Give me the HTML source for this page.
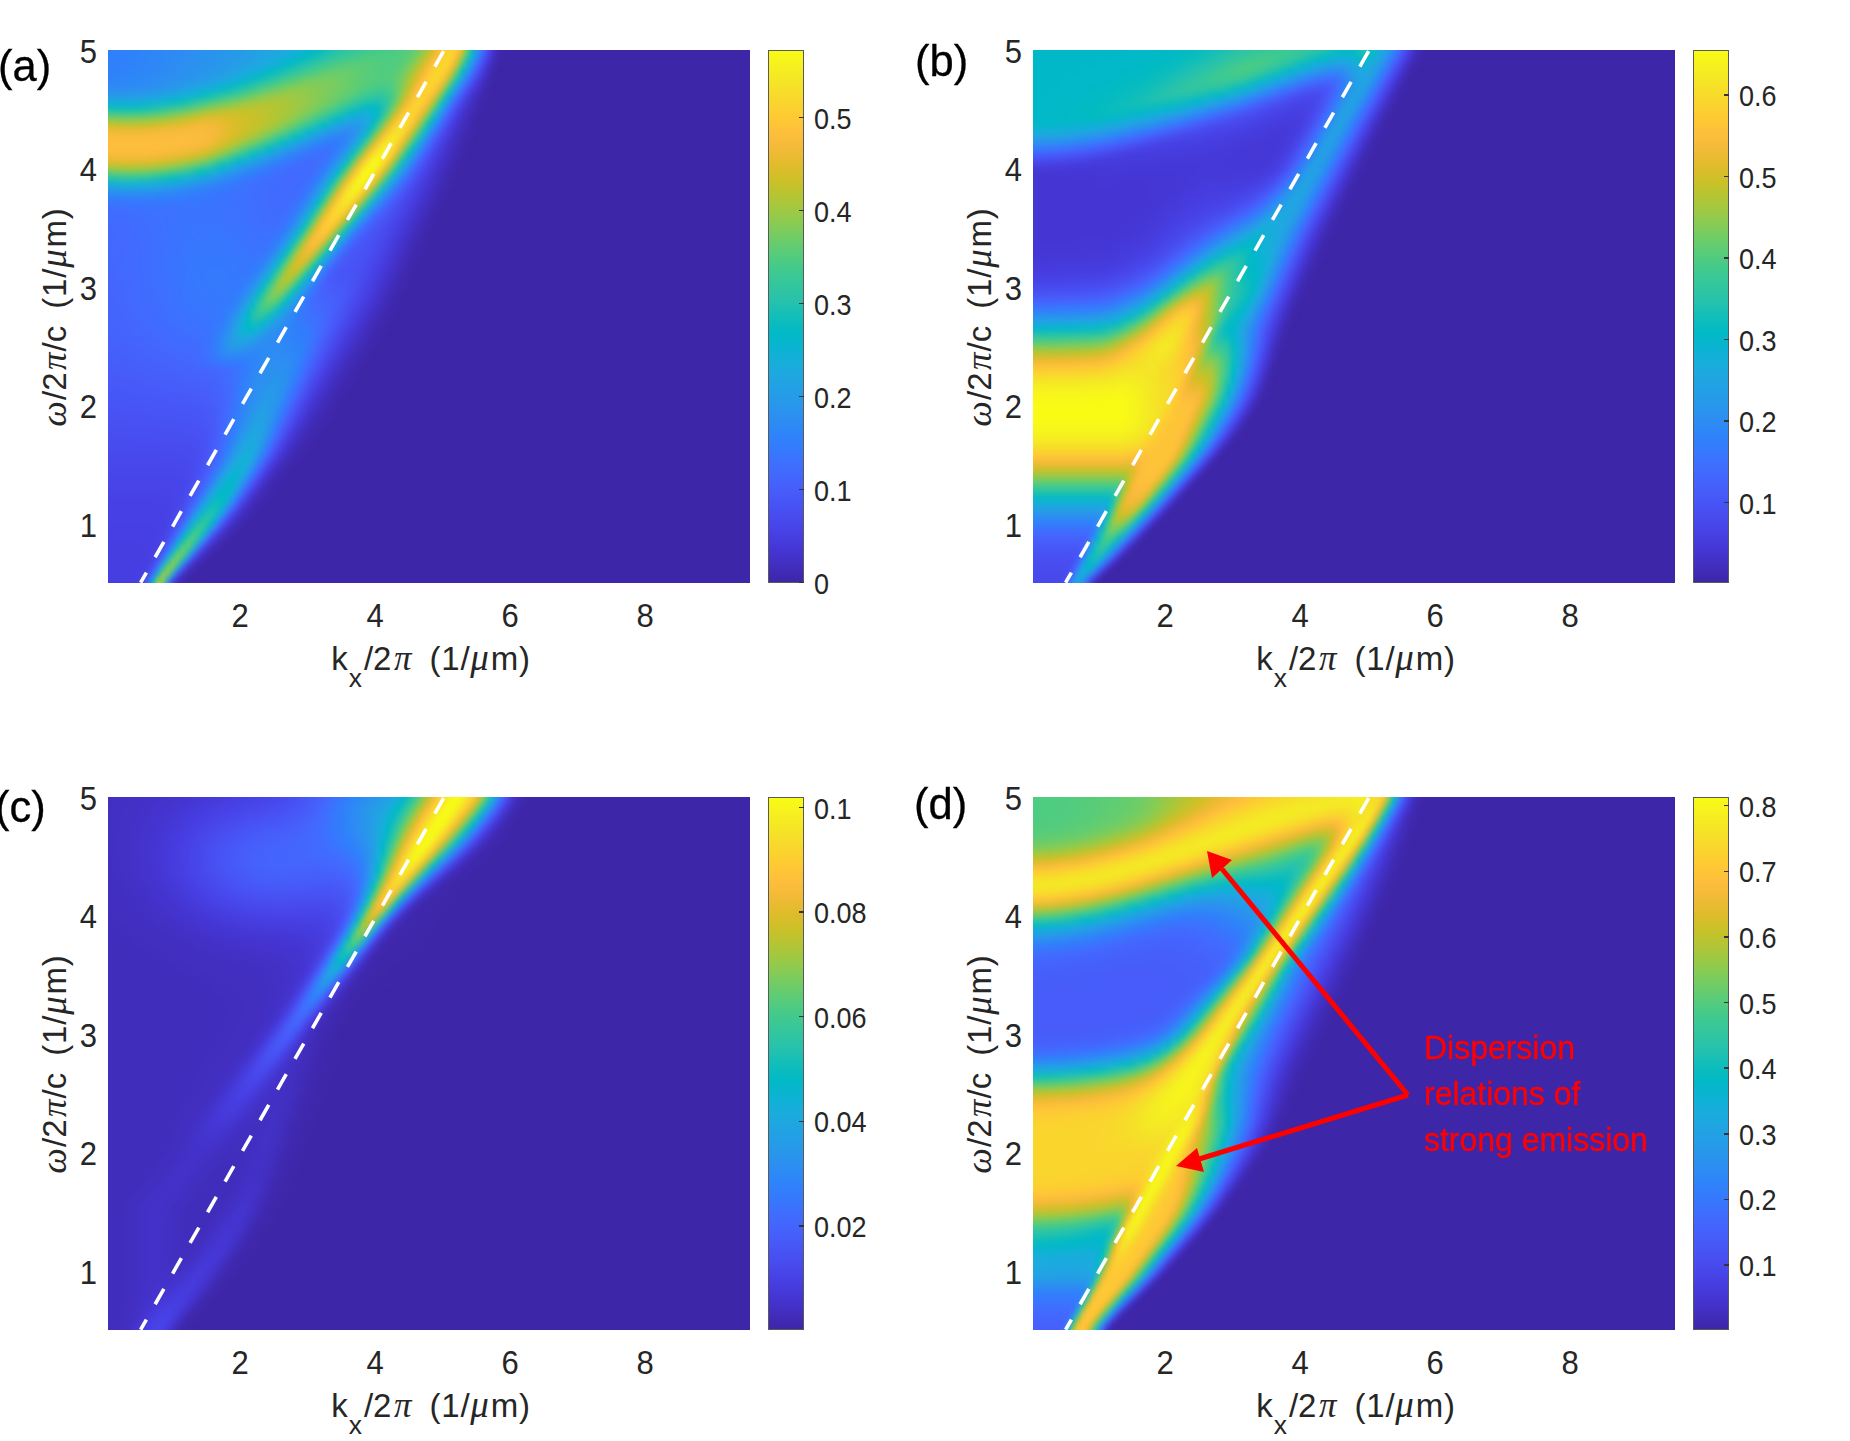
<!DOCTYPE html><html><head><meta charset="utf-8"><title>Dispersion relations</title><style>
html,body{margin:0;padding:0;background:#fff}
body{width:1850px;height:1441px;position:relative;overflow:hidden;font-family:"Liberation Sans",sans-serif}
.plot{position:absolute;width:642px;height:532.7px;overflow:hidden;background:#3e26a8}
.rows{position:absolute;left:0;top:-18px;filter:url(#vb)}
.rows i{display:block;height:6px}
.ov{position:absolute;left:0;top:0}
.cb{position:absolute;width:35.5px;height:532.7px;box-sizing:border-box;border:1px solid #5a5a5a}
.ctk{position:absolute;width:4.5px;height:1.6px;background:#333}
.t{position:absolute;color:#262626;white-space:nowrap;line-height:1}
.cl{font-size:30px;transform-origin:0 50%;transform:translate(0,-50%) scaleX(0.9)}
.xl{font-size:32.3px;transform:translate(-50%,-50%) scaleX(0.96)}
.yl{font-size:32.3px;transform-origin:100% 50%;transform:translate(-100%,-50%) scaleX(0.96)}
.xlab{font-size:33px;transform:translate(-50%,-50%)}
.ylab{font-size:33px;transform:translate(-50%,-50%) rotate(-90deg)}
.m{font-family:"Liberation Serif","DejaVu Serif",serif;font-style:italic}
sub{font-size:80%;vertical-align:baseline;position:relative;top:0.64em;line-height:0;margin:0 2px 0 1px}
.pi{margin:0 1px 0 2.5px;font-size:1.06em}
.mu{font-size:1.12em;margin:0 1px 0 0}
.om{font-size:1.1em;margin-right:1px}
.gap{display:inline-block;width:17px}
.un{letter-spacing:0.8px}
.pl{position:absolute;font-size:44.4px;color:#000;line-height:1;white-space:nowrap;transform-origin:0 0;transform:scaleX(0.98);-webkit-text-stroke:0.3px #000}
.red{position:absolute;color:#f00;font-size:34px;line-height:46px;white-space:nowrap;transform-origin:0 0;transform:scaleX(0.94);-webkit-text-stroke:0.35px #f00}
</style></head><body>
<svg width="0" height="0" style="position:absolute"><defs><filter id="vb" x="0" y="0" width="1" height="1" color-interpolation-filters="sRGB"><feGaussianBlur stdDeviation="0 3"/></filter></defs></svg>
<div class="plot" style="left:108px;top:50px">
<div class="rows">
<i style="width:400px;background:linear-gradient(90deg,#317efb,#307efb,#307ffb,#3080fa,#2f81fa,#2f82fa,#2e83f9,#2e84f9,#2e85f8,#2e85f8,#2e87f7,#2d88f6,#2d89f6,#2d8af5,#2d8bf4,#2d8cf3,#2d8df2,#2c8ef1,#2c8ff0,#2b91ef,#2b92ee,#2a93ed,#2994ed,#2896ec,#2797eb,#2698ea,#269ae9,#259be8,#259de7,#249ee6,#23a0e5,#22a1e4,#21a3e3,#20a4e3,#1fa6e2,#1da8e0,#1baade,#19acdc,#16afd9,#11b2d5,#09b4d1,#03b7cc,#01b9c6,#06bcc0,#0fbebb,#19bfb5,#21c1b0,#28c2ab,#2cc4a6,#30c5a1,#33c79d,#36c898,#3ac994,#3dc990,#40ca8d,#43ca8a,#46cb88,#48cb86,#4acb84,#4dcc82,#53cc7d,#5dcc74,#6ecd66,#89cb52,#acc738,#d1bf27,#f2ba37,#fec438,#fcd030,#fad52d,#fec438,#d0bf27,#5dcc75,#04bbc2,#2699ea,#3e6fff,#484df1,#4537d5,#402bb8,#3e27a9,#3e26a8)"></i>
<i style="width:400px;background:linear-gradient(90deg,#317efb,#307efb,#307ffb,#3080fa,#2f81fa,#2f82fa,#2e83f9,#2e84f9,#2e85f8,#2e85f8,#2e87f7,#2d88f6,#2d89f6,#2d8af5,#2d8bf4,#2d8cf3,#2d8df2,#2c8ef1,#2c8ff0,#2b91ef,#2b92ee,#2a93ed,#2994ed,#2896ec,#2797eb,#2698ea,#269ae9,#259be8,#259de7,#249ee6,#23a0e5,#22a1e4,#21a3e3,#20a4e3,#1fa6e2,#1da8e0,#1baade,#19acdc,#16afd9,#11b2d5,#09b4d1,#03b7cc,#01b9c6,#06bcc0,#0fbebb,#19bfb5,#21c1b0,#28c2ab,#2cc4a6,#30c5a1,#33c79d,#36c898,#3ac994,#3dc990,#40ca8d,#43ca8a,#46cb88,#48cb86,#4acb84,#4dcc82,#53cc7d,#5dcc74,#6ecd66,#89cb52,#acc738,#d1bf27,#f2ba37,#fec438,#fcd030,#fad52d,#fec438,#d0bf27,#5dcc75,#04bbc2,#2699ea,#3e6fff,#484df1,#4537d5,#402bb8,#3e27a9,#3e26a8)"></i>
<i style="width:400px;background:linear-gradient(90deg,#317efb,#307efb,#307ffb,#3080fa,#2f81fa,#2f82fa,#2e83f9,#2e84f9,#2e85f8,#2e85f8,#2e87f7,#2d88f6,#2d89f6,#2d8af5,#2d8bf4,#2d8cf3,#2d8df2,#2c8ef1,#2c8ff0,#2b91ef,#2b92ee,#2a93ed,#2994ed,#2896ec,#2797eb,#2698ea,#269ae9,#259be8,#259de7,#249ee6,#23a0e5,#22a1e4,#21a3e3,#20a4e3,#1fa6e2,#1da8e0,#1baade,#19acdc,#16afd9,#11b2d5,#09b4d1,#03b7cc,#01b9c6,#06bcc0,#0fbebb,#19bfb5,#21c1b0,#28c2ab,#2cc4a6,#30c5a1,#33c79d,#36c898,#3ac994,#3dc990,#40ca8d,#43ca8a,#46cb88,#48cb86,#4acb84,#4dcc82,#53cc7d,#5dcc74,#6ecd66,#89cb52,#acc738,#d1bf27,#f2ba37,#fec438,#fcd030,#fad52d,#fec438,#d0bf27,#5dcc75,#04bbc2,#2699ea,#3e6fff,#484df1,#4537d5,#402bb8,#3e27a9,#3e26a8)"></i>
<i style="width:400px;background:linear-gradient(90deg,#317efb,#307ffb,#307ffb,#2f80fa,#2f81fa,#2f82fa,#2e83f9,#2e84f9,#2e85f8,#2e86f7,#2e87f7,#2d88f6,#2d89f5,#2d8af4,#2d8bf4,#2d8cf3,#2d8df2,#2c8ff1,#2c90f0,#2b91ef,#2a92ee,#2a93ed,#2995ec,#2896eb,#2797ea,#2699e9,#269ae8,#259ce7,#249de7,#249fe6,#23a0e5,#22a2e4,#21a4e3,#1fa5e2,#1ea7e1,#1caadf,#1aacdd,#16afda,#11b1d6,#09b4d1,#03b7cc,#01bac6,#07bcc0,#11beba,#1bc0b4,#24c1af,#2ac3a9,#2ec4a4,#32c69f,#35c79a,#39c895,#3dc991,#40ca8d,#44cb8a,#47cb87,#48cb86,#4acb84,#4bcb83,#4dcc82,#50cc7f,#57cc7a,#62cd70,#76cc60,#94ca4a,#b9c431,#ddbd29,#fabb3d,#fec934,#fbd42e,#fad42e,#febd3c,#bac430,#42ca8b,#07b5d0,#2c8ff0,#4367fd,#4848ec,#4434ce,#402ab4,#3e26a9,#3e26a8)"></i>
<i style="width:395px;background:linear-gradient(90deg,#307ffb,#307ffb,#2f80fa,#2f81fa,#2f82fa,#2e83f9,#2e84f9,#2e84f8,#2e85f8,#2e86f7,#2d87f6,#2d88f6,#2d8af5,#2d8bf4,#2d8cf3,#2d8df2,#2c8ef1,#2c8ff0,#2b90ef,#2b92ee,#2a93ee,#2994ed,#2895ec,#2797eb,#2798ea,#269ae9,#259be8,#259de7,#249fe6,#23a1e5,#21a3e4,#20a5e3,#1ea7e1,#1caadf,#19acdc,#15afd9,#0eb2d4,#06b5cf,#01b8c8,#03bbc2,#0dbdbc,#19bfb5,#23c1af,#2ac3a9,#2fc5a2,#34c79c,#38c896,#3dc990,#42ca8b,#47cb87,#4bcb83,#4ecc81,#50cc7f,#51cc7f,#51cc7f,#50cc7f,#4fcc80,#4fcc80,#51cc7f,#55cc7b,#5fcd73,#71cd64,#8fcb4e,#b3c534,#d8be28,#f7ba3c,#fec735,#fbd32e,#f9d82c,#feca33,#e0bc2a,#74cc62,#19bfb5,#22a1e4,#347afd,#4756f7,#463ddf,#422fc1,#3f28ad,#3e26a8)"></i>
<i style="width:395px;background:linear-gradient(90deg,#3080fb,#2f80fa,#2f81fa,#2f82fa,#2e83f9,#2e83f9,#2e84f8,#2e85f8,#2e86f7,#2e87f7,#2d88f6,#2d89f5,#2d8af4,#2d8bf3,#2d8df2,#2c8ef2,#2c8ff1,#2b90f0,#2b91ef,#2a93ee,#2994ed,#2895ec,#2797eb,#2798ea,#269ae9,#259ce7,#249de6,#23a0e5,#22a2e4,#20a5e3,#1ea7e1,#1baade,#18aedb,#12b1d7,#09b4d1,#02b7cb,#02bac4,#09bdbe,#16bfb7,#22c1b0,#2ac3a9,#30c5a2,#35c79a,#3bc993,#41ca8c,#48cb86,#4fcc81,#54cc7c,#58cc79,#5acc77,#5bcc77,#5acc77,#59cc79,#56cc7b,#53cc7d,#51cc7f,#4fcc80,#50cc80,#54cc7c,#5ecd74,#6fcd66,#8bcb51,#adc638,#d2bf27,#f2ba38,#fec537,#fbd22f,#f9d82c,#fbd32f,#f8ba3d,#a5c83e,#35c79a,#14b0d8,#2d8bf4,#4464fd,#4848ec,#4435d1,#402bb7,#3e27a9,#3e26a8)"></i>
<i style="width:390px;background:linear-gradient(90deg,#2f81fa,#2f81fa,#2f82fa,#2e83f9,#2e84f9,#2e84f8,#2e85f8,#2e86f7,#2e87f7,#2d88f6,#2d89f5,#2d8af4,#2d8bf3,#2d8df3,#2c8ef2,#2c8ff1,#2b90f0,#2b92ef,#2a93ee,#2994ed,#2896eb,#2798ea,#2699e9,#259be8,#249de6,#23a0e5,#22a2e4,#1fa5e2,#1da9e0,#1aacdd,#14b0d8,#0cb3d3,#04b6cd,#01b9c6,#08bcbf,#14bfb8,#21c1b0,#2ac3a9,#30c5a1,#36c899,#3dc990,#45cb88,#4ecc81,#56cc7b,#5dcc75,#62cd71,#65cd6e,#66cd6d,#65cd6e,#64cd6f,#61cd72,#5dcc75,#59cc79,#55cc7c,#52cc7e,#50cc80,#51cc7f,#55cc7c,#5dcc75,#6ccd68,#85cb56,#a5c83d,#cac129,#ebba32,#fec13a,#fccf30,#f9d72c,#f9d62d,#fec338,#c9c129,#53cc7d,#01bac5,#2699ea,#3b72ff,#4853f5,#463cdf,#422fc2,#3f28af,#3e26a8)"></i>
<i style="width:390px;background:linear-gradient(90deg,#2f82f9,#2e83f9,#2e83f9,#2e84f8,#2e85f8,#2e86f8,#2e87f7,#2d88f6,#2d89f6,#2d8af5,#2d8bf4,#2d8cf3,#2d8df2,#2c8ef1,#2c90f0,#2b91ef,#2a93ee,#2994ed,#2896eb,#2798ea,#269ae8,#259ce7,#249fe6,#22a1e4,#20a4e3,#1da8e0,#1aabdd,#15afd9,#0db3d3,#04b6cd,#01b9c6,#08bcbf,#15bfb7,#22c1b0,#2bc3a8,#32c69f,#38c896,#40ca8d,#4acb84,#55cc7c,#5ecc74,#65cd6e,#6ccd69,#70cd65,#72cd63,#72cd63,#71cd65,#6dcd67,#69cd6b,#64cd6f,#5fcd73,#5bcc77,#57cc7a,#54cc7c,#52cc7e,#52cc7e,#54cc7d,#59cc78,#65cd6e,#79cc5e,#98ca47,#bdc32e,#e1bc2b,#fcbd3d,#fdcc32,#fad52d,#f9d62d,#feca33,#e2bc2b,#76cc60,#1bc0b4,#21a3e3,#317efb,#475cfa,#4744e8,#4434ce,#402bb7,#3e27aa,#3e26a8)"></i>
<i style="width:390px;background:linear-gradient(90deg,#2e85f8,#2e86f8,#2e86f7,#2e87f7,#2d88f6,#2d88f6,#2d89f5,#2d8af4,#2d8bf3,#2d8df3,#2c8ef2,#2c8ff0,#2b91ef,#2a92ee,#2994ed,#2896eb,#2798ea,#269ae8,#259de7,#249fe5,#22a2e4,#1fa5e2,#1da9e0,#19acdc,#14b0d8,#0bb3d2,#03b7cc,#01bac5,#09bcbe,#18bfb6,#25c2ae,#2dc4a5,#34c79c,#3bc992,#45cb88,#51cc7f,#5dcc75,#67cd6c,#70cd65,#77cc60,#7ccc5c,#7fcc5a,#80cc59,#7fcc5a,#7ccc5c,#77cc5f,#72cd63,#6dcd68,#67cd6c,#62cd70,#5ecd74,#5acc77,#56cc7b,#52cc7e,#4fcc81,#4dcc82,#50cc80,#58cc79,#67cd6c,#83cc57,#a9c73a,#d2bf27,#f4ba3a,#fec735,#fbd32f,#fad52d,#fdcc32,#f0ba36,#97ca48,#2ec5a4,#1aabdd,#2e87f7,#4563fd,#484aee,#4538d8,#422ec0,#3f29b0,#3e26a9,#3e26a8)"></i>
<i style="width:385px;background:linear-gradient(90deg,#2d8cf3,#2d8cf3,#2d8cf3,#2d8cf3,#2d8df2,#2c8ef1,#2c8ff1,#2c90f0,#2b91ef,#2a93ee,#2994ed,#2896eb,#2798ea,#269ae8,#259ce7,#249fe5,#22a2e4,#20a5e2,#1da8e0,#1aacdd,#15afd9,#0db3d4,#05b6ce,#01b9c8,#05bbc1,#11beba,#1fc0b2,#29c3aa,#31c5a1,#37c897,#41ca8d,#4dcc82,#5acc77,#66cd6d,#72cd64,#7ccc5c,#84cc56,#8acb52,#8dcb4f,#8ecb4f,#8dcb4f,#8acb51,#86cb54,#81cc58,#7ccc5c,#76cc61,#71cd65,#6ccd69,#66cd6d,#60cd72,#5acc77,#53cc7d,#4ccb82,#46cb88,#42ca8b,#41ca8c,#45cb89,#50cc7f,#68cd6c,#8ecb4e,#bdc32f,#e7bb2e,#fec13a,#fccf30,#fad42e,#fdcd32,#f8ba3d,#afc636,#3bc993,#0fb2d4,#2c8ef2,#4269fe,#484ff2,#463cde,#4331c7,#402bb6,#3e27ab,#3e26a8)"></i>
<i style="width:385px;background:linear-gradient(90deg,#2797ea,#2797eb,#2797eb,#2797ea,#2798ea,#2699ea,#269ae9,#259be8,#259ce7,#249ee6,#23a0e5,#22a2e4,#20a5e3,#1ea7e1,#1baade,#18addb,#13b1d7,#0ab4d2,#03b7cc,#01bac5,#08bcbf,#15bfb7,#21c1b0,#2ac3a8,#31c6a0,#37c898,#3fca8e,#4bcb83,#59cc78,#66cd6d,#73cd63,#7fcc5a,#8acb52,#92ca4c,#98c947,#9cc944,#9dc943,#9dc943,#9ac945,#96ca48,#91ca4c,#8bcb51,#86cb55,#80cc59,#7bcc5d,#75cc61,#6ecd67,#66cd6d,#5ecd74,#55cc7c,#4bcb84,#41ca8c,#3ac994,#35c79a,#33c69d,#33c79c,#39c895,#49cb85,#6dcd68,#a1c840,#d5be28,#fabb3d,#fdcb33,#fbd32e,#fdcd31,#fbbc3d,#c2c22c,#4ecc81,#01b8c9,#2895ec,#3e70ff,#4853f5,#4740e3,#4434ce,#412dbb,#3f28af,#3e27a9,#3e26a8)"></i>
<i style="width:380px;background:linear-gradient(90deg,#1ca9df,#1da9e0,#1da8e0,#1da8e0,#1da9e0,#1ca9df,#1baade,#1aabdd,#19addc,#16afd9,#13b1d7,#0db3d3,#07b5d0,#02b7cb,#01b9c6,#06bcc0,#11beb9,#1ec0b2,#28c3aa,#30c5a2,#36c899,#3eca8f,#49cb85,#55cc7c,#61cd72,#6ccd68,#79cc5f,#85cb55,#90ca4d,#99c946,#a1c840,#a7c73c,#aac73a,#acc738,#acc738,#aac73a,#a7c73c,#a2c840,#9cc944,#96ca48,#90ca4d,#8bcb51,#84cb56,#7dcc5b,#75cc61,#6ccd69,#61cd71,#55cc7b,#49cb86,#3dc990,#35c79a,#2ec5a3,#28c2ab,#22c1b0,#21c1b0,#28c2ab,#33c69d,#4dcb82,#83cc57,#c2c22c,#f1ba37,#fec835,#fbd32e,#fccf30,#febe3c,#d0bf27,#65cd6e,#0cbdbc,#249ee6,#3678fd,#4759f8,#4744e8,#4536d4,#422fc1,#402ab4,#3e27ab,#3e26a8)"></i>
<i style="width:380px;background:linear-gradient(90deg,#05bbc1,#02bbc3,#02bac4,#02bac5,#02bac4,#02bac4,#03bbc2,#06bcc0,#0abdbd,#10beba,#18bfb6,#1fc1b1,#27c2ac,#2dc4a6,#32c69f,#37c897,#3fca8e,#4acb84,#59cc79,#67cd6c,#75cc61,#83cc57,#8ecb4e,#98c947,#a0c841,#a7c73c,#adc638,#b3c534,#b7c532,#bac430,#bbc430,#bbc430,#b9c431,#b6c532,#b2c635,#adc638,#a7c73c,#a1c840,#9bc944,#95ca49,#8dcb4f,#85cb56,#7acc5d,#6fcd66,#62cd71,#54cc7c,#45cb89,#39c895,#30c5a1,#27c2ac,#18bfb6,#09bcbe,#02bac3,#02bac4,#07bcbf,#1fc0b2,#36c799,#65cd6e,#adc638,#e8bb2f,#fec537,#fbd32e,#fbd32f,#fec239,#dbbd29,#7ecc5a,#25c2ae,#1ea7e1,#2f81fa,#4660fb,#4849ed,#463adb,#4331c8,#412cb9,#3f28af,#3e27a9,#3e26a8)"></i>
<i style="width:375px;background:linear-gradient(90deg,#3bc993,#38c896,#37c898,#36c899,#36c899,#37c898,#38c896,#3ac993,#3dca90,#42ca8b,#48cb86,#50cc7f,#59cc78,#63cd6f,#6fcd66,#7ccc5c,#89cb52,#97ca48,#a4c83e,#b1c636,#bac430,#c1c32c,#c6c22a,#c9c129,#cbc129,#cbc129,#cbc129,#cbc129,#c9c129,#c7c12a,#c4c22b,#c0c32d,#bcc42f,#b7c532,#b2c635,#acc738,#a6c83d,#9ec942,#95ca49,#8bcb51,#7ecc5b,#70cd65,#60cd72,#50cc80,#40ca8d,#35c79b,#2bc3a8,#1bc0b4,#07bcbf,#01b8ca,#0ab4d2,#12b1d6,#13b1d7,#0ab4d2,#02bac4,#27c2ab,#4dcb82,#9ac945,#e0bc2a,#fec338,#fad52e,#f9d72d,#fec835,#e6bb2d,#96ca49,#32c69e,#15afd9,#2d8bf4,#4368fe,#484ff2,#473ee1,#4434cf,#422ebf,#402ab3,#3e27ac,#3e26a8)"></i>
<i style="width:375px;background:linear-gradient(90deg,#8acb52,#85cb55,#81cc58,#80cc5a,#7fcc5a,#80cc59,#83cc57,#86cb55,#8bcb51,#91ca4c,#98ca47,#9fc941,#a8c73b,#b0c636,#b9c431,#c2c22c,#cac129,#d2bf27,#d9be28,#dfbc2a,#e3bc2c,#e4bb2c,#e4bb2c,#e2bc2b,#dfbc2a,#dbbd28,#d6be28,#d3bf27,#cec028,#cac129,#c5c22a,#c0c32d,#bbc42f,#b5c533,#aec637,#a6c83d,#9bc944,#8fcb4e,#80cc5a,#6ecd66,#5ccc75,#4acb85,#3ac994,#30c5a2,#23c1af,#0cbdbc,#01b8c8,#0db3d3,#19addc,#1ea8e1,#20a4e3,#20a5e3,#1caadf,#0cb3d3,#11beba,#3cc992,#89cb52,#d8be28,#fec239,#f9d72d,#f7db2a,#fdce31,#f1ba37,#a9c73b,#40ca8d,#04b6cd,#2995ec,#3c71ff,#4756f7,#4744e8,#4537d6,#4331c5,#412cb8,#3f28af,#3e27a9,#3e26a8)"></i>
<i style="width:370px;background:linear-gradient(90deg,#cec028,#cbc129,#c8c129,#c7c12a,#c7c12a,#c7c12a,#c8c129,#cac129,#cdc028,#d1bf27,#d4bf28,#d8be28,#ddbd29,#e1bc2b,#e5bb2d,#e9bb30,#edba33,#f0ba36,#f3ba38,#f5ba3a,#f4ba3a,#f2ba38,#efba35,#eaba31,#e4bb2c,#debc2a,#d8be28,#d3bf27,#cec028,#c9c129,#c3c22b,#bcc42f,#b4c534,#aac73a,#9ec942,#8fcb4e,#7dcc5b,#6acd6a,#56cc7b,#42ca8b,#34c79b,#29c3aa,#15bfb7,#02bac5,#09b4d1,#18addb,#1fa6e2,#249fe5,#269ae8,#2797ea,#2699e9,#239fe5,#1aacdd,#02bac5,#33c69d,#7bcc5d,#d2bf27,#fec13a,#f8d92c,#f6e028,#fad52d,#fbbc3d,#bbc430,#54cc7c,#06bcc0,#249ee6,#337bfc,#465dfa,#4849ed,#463bde,#4433cd,#422ebe,#402ab4,#3e27ac,#3e26a8)"></i>
<i style="width:370px;background:linear-gradient(90deg,#f0ba36,#efba35,#eeba34,#edba33,#edba33,#edba33,#edba34,#eeba34,#efba35,#f1ba37,#f2ba38,#f4ba39,#f5ba3b,#f7ba3c,#f8ba3d,#f9bb3d,#fabb3d,#fabb3d,#fbbc3d,#fbbc3d,#f9bb3d,#f6ba3b,#f1ba37,#ebba32,#e5bb2d,#debd29,#d7be28,#d1bf27,#c9c129,#c1c32c,#b7c532,#abc739,#9cc944,#8bcb51,#77cc60,#61cd71,#4ccb83,#3ac994,#2ec5a4,#1ec0b2,#06bcc0,#05b6cd,#15afd9,#1ea7e1,#239fe5,#2798ea,#2b92ef,#2d8df2,#2d8cf3,#2c8ff1,#2797eb,#20a5e2,#04b6cd,#2dc4a6,#6fcd66,#ccc028,#fec03a,#f8da2b,#f5e427,#f7dc2a,#fec239,#cbc129,#66cd6d,#1bc0b4,#1fa6e2,#2e84f9,#4464fd,#484ff2,#4740e4,#4536d4,#4330c5,#412cb9,#3f29af,#3e27aa,#3e26a8)"></i>
<i style="width:370px;background:linear-gradient(90deg,#fcbc3d,#fcbc3d,#fbbc3d,#fbbc3d,#fbbc3d,#fbbc3d,#fbbc3d,#fbbc3d,#fcbc3d,#fcbc3d,#fcbc3d,#fcbd3d,#fcbd3d,#fcbd3d,#fdbd3d,#fcbd3d,#fcbd3d,#fcbc3d,#fcbc3d,#fbbc3d,#f9bb3d,#f6ba3b,#f0ba36,#e9bb30,#e1bc2b,#d7be28,#cdc028,#c2c22c,#b6c533,#a7c73c,#95ca49,#81cc58,#6bcd69,#55cc7c,#40ca8d,#32c69e,#25c2ad,#0cbdbc,#01b8ca,#11b1d6,#1ca9df,#22a1e4,#2699e9,#2b91ef,#2d8bf4,#2e85f8,#2f82f9,#2f82f9,#2e87f7,#2b90f0,#23a0e5,#0db3d3,#26c2ac,#65cd6e,#c7c12a,#fec03b,#f7db2a,#f5e825,#f5e228,#fec934,#dabd28,#79cc5e,#2ac3a8,#18addb,#2d8cf3,#406cfe,#4755f6,#4745e9,#463ada,#4433cb,#412ebe,#402ab4,#3e28ac,#3e26a9,#3e26a8)"></i>
<i style="width:365px;background:linear-gradient(90deg,#febe3c,#febe3c,#febe3c,#febe3c,#febe3c,#febe3c,#febe3c,#febe3c,#febe3c,#febe3c,#febd3c,#fdbd3c,#fdbd3d,#fdbd3d,#fdbd3d,#fdbd3d,#fcbc3d,#fbbc3d,#fbbc3d,#f9bb3d,#f6ba3b,#f0ba36,#e8bb2e,#ddbd29,#d0bf27,#c1c32c,#b0c636,#9dc943,#89cb53,#71cd64,#5bcc77,#45cb89,#35c79a,#29c3aa,#13beb8,#01b9c6,#0db3d3,#1aabdd,#21a3e3,#259be8,#2a93ee,#2d8bf3,#2e85f8,#307ffb,#327bfc,#3479fd,#337bfc,#2f81fa,#2d8bf3,#259ce7,#14b0d8,#20c1b1,#5ecd74,#c2c22c,#febf3b,#f6dd29,#f5ec22,#f5e825,#fbd12f,#e9bb2f,#8ecb4f,#33c69e,#0cb3d3,#2994ed,#3a74fe,#475bf9,#484aed,#463de0,#4435d2,#4230c4,#412cb8,#3f29b0,#3e27aa,#3e26a8)"></i>
<i style="width:365px;background:linear-gradient(90deg,#febe3c,#febe3c,#febe3c,#febe3c,#febe3c,#febe3c,#febe3c,#febd3c,#febd3c,#fdbd3d,#fdbd3d,#fdbd3d,#fcbc3d,#fbbc3d,#fabc3d,#f9bb3d,#f8ba3d,#f5ba3b,#f2ba38,#edba34,#e6bb2d,#dbbd29,#cdc028,#bbc42f,#a6c83c,#8fcb4e,#75cc61,#5dcc74,#47cb87,#36c899,#2ac3a8,#16bfb7,#02bac5,#09b4d1,#19addc,#20a5e3,#259ce7,#2994ed,#2d8df2,#2e86f7,#3080fa,#337bfd,#3776fe,#3a74fe,#3a73fe,#3876fe,#327dfc,#2d88f6,#2699e9,#18aedb,#1abfb5,#58cc79,#bfc32e,#febf3b,#f6df29,#f6f01f,#f5ee21,#f8da2b,#f6ba3b,#a2c840,#3bc993,#01b8ca,#259be8,#327bfc,#4660fc,#484ef1,#4741e5,#4538d8,#4332ca,#412ebe,#402ab4,#3e28ac,#3e26a9,#3e26a8)"></i>
<i style="width:360px;background:linear-gradient(90deg,#f9bb3d,#fabb3d,#fabb3d,#fabb3d,#fabb3d,#fabb3d,#fabb3d,#fabb3d,#f9bb3d,#f8ba3d,#f7ba3c,#f5ba3b,#f3ba39,#f1ba36,#edba33,#e9bb30,#e4bb2c,#debd29,#d6be28,#ccc028,#bdc32e,#aac73a,#93ca4a,#79cc5e,#5fcd73,#46cb88,#35c79a,#2ac3a9,#15bfb7,#02bac5,#09b4d1,#18addb,#1fa5e2,#249de6,#2896ec,#2c8ef1,#2d87f7,#2f81fa,#327cfc,#3777fe,#3b73fe,#3d70ff,#3f6fff,#3e6fff,#3b72fe,#347afd,#2e86f8,#2796eb,#1aacdd,#13beb9,#52cc7e,#bac430,#febe3c,#f6e128,#f7f31c,#f7f41c,#f5e228,#febe3c,#b5c533,#47cb87,#04bbc2,#23a1e4,#2f82f9,#4466fd,#4853f5,#4745ea,#463bdd,#4435d0,#4230c3,#412cb8,#3f29b0,#3e27aa,#3e26a8)"></i>
<i style="width:360px;background:linear-gradient(90deg,#e4bb2c,#e6bb2d,#e8bb2e,#e8bb2f,#e9bb2f,#e8bb2f,#e8bb2e,#e7bb2d,#e5bb2c,#e2bc2b,#dfbc2a,#dbbd29,#d6be28,#d0bf27,#c8c129,#bfc32d,#b4c533,#a7c73c,#98c947,#87cb54,#71cd65,#5acc78,#43ca8a,#34c79c,#27c2ab,#11beba,#01b9c7,#0cb3d3,#19acdc,#20a5e2,#249de6,#2896eb,#2c8ff1,#2d88f6,#2f82f9,#317dfc,#3678fd,#3a74fe,#3d70ff,#3f6eff,#406cfe,#406cfe,#406dfe,#3d70ff,#3678fe,#2e84f9,#2994ed,#1caadf,#0bbdbc,#4bcb84,#b4c534,#fdbd3d,#f6e028,#f7f51b,#f8f818,#f5e825,#fec636,#c5c22a,#56cc7b,#0ebdbb,#1fa6e2,#2d88f6,#416cfe,#4758f8,#4849ed,#473fe2,#4537d6,#4332c9,#412dbd,#402ab4,#3e28ac,#3e26a9,#3e26a8)"></i>
<i style="width:355px;background:linear-gradient(90deg,#b1c636,#b5c533,#b8c431,#bac430,#bbc42f,#bbc430,#b9c430,#b7c532,#b3c534,#aec637,#a7c73c,#a0c941,#96ca48,#8bcb51,#7fcc5a,#70cd65,#61cd71,#52cc7e,#43ca8b,#37c898,#2ec4a5,#1fc0b1,#09bcbe,#01b7ca,#10b2d5,#1babde,#21a3e3,#259ce7,#2895ec,#2c8ff1,#2d89f6,#2e83f9,#317efb,#3479fd,#3875fe,#3c72ff,#3e6fff,#406dfe,#416bfe,#416bfe,#416afe,#416cfe,#3e6fff,#3776fe,#2f82fa,#2a92ee,#1ea7e1,#05bbc1,#43ca8a,#abc739,#fabb3d,#f6df29,#f7f61a,#f9fa15,#f5ec22,#fdcb32,#d2bf27,#63cd70,#1abfb5,#1caadf,#2d8df2,#3c71ff,#475cfa,#484df0,#4742e6,#463adb,#4434ce,#422fc2,#402bb8,#3f29b0,#3e27aa,#3e26a8)"></i>
<i style="width:355px;background:linear-gradient(90deg,#5acc77,#60cd72,#64cd6f,#67cd6d,#68cd6c,#67cd6c,#65cd6e,#62cd70,#5ecc74,#58cc79,#50cc7f,#48cb86,#40ca8d,#39c895,#33c69e,#2dc4a6,#24c1ae,#16bfb7,#06bcc0,#01b8c9,#0bb4d2,#17aeda,#1ea8e1,#23a1e4,#269ae8,#2994ed,#2c8ef2,#2d88f6,#2e83f9,#307efb,#337afd,#3776fe,#3a73fe,#3d71ff,#3f6eff,#406dfe,#416bfe,#426afe,#426afe,#426afe,#416bfe,#3f6eff,#3975fe,#3080fa,#2c90f0,#20a4e3,#01b9c6,#3bc993,#9ec942,#f4ba39,#f7db2b,#f7f41c,#f9fa15,#f5ee21,#fccf30,#dabd28,#6dcd67,#21c1b0,#19acdc,#2b91ef,#3876fe,#4660fb,#4851f3,#4745ea,#463ddf,#4536d4,#4331c8,#412dbd,#402ab3,#3e28ac,#3e26a9,#3e26a8)"></i>
<i style="width:350px;background:linear-gradient(90deg,#1bc0b4,#20c1b1,#24c1ae,#26c2ad,#27c2ac,#27c2ac,#25c2ad,#23c1af,#1fc1b1,#1ac0b5,#13beb9,#0abdbd,#03bbc2,#01b9c8,#05b6ce,#0db3d3,#15afd9,#1babde,#1fa6e1,#22a1e4,#259ce7,#2797eb,#2b91ef,#2d8cf3,#2e87f7,#2f82f9,#317efb,#337bfd,#3677fe,#3974fe,#3b72ff,#3d70ff,#3f6eff,#406dfe,#416cfe,#416bfe,#426afe,#4269fe,#426afe,#416bfe,#3f6dfe,#3a73fe,#317efb,#2d8df2,#23a1e4,#03b7cc,#34c79c,#8ecb4f,#eaba31,#fad52d,#f6f01f,#f8f917,#f5ee21,#fcd12f,#dfbc2a,#74cc62,#25c2ad,#18aedb,#2a93ee,#3579fd,#4563fc,#4854f5,#4848ec,#4740e3,#4539d9,#4433cd,#422fc1,#402bb8,#3f29af,#3e27aa,#3e26a8)"></i>
<i style="width:350px;background:linear-gradient(90deg,#1aabdd,#18addb,#16aeda,#15afd9,#14b0d8,#14b0d8,#15afd9,#17aeda,#18addb,#1aacdd,#1caadf,#1ea7e1,#20a5e3,#22a2e4,#249ee6,#259be8,#2797ea,#2994ed,#2c90f0,#2d8cf3,#2d89f6,#2e85f8,#2f81fa,#317efb,#337bfd,#3678fd,#3875fe,#3a73fe,#3c72ff,#3d70ff,#3f6fff,#3f6efe,#406dfe,#416cfe,#416bfe,#426afe,#426afe,#426afe,#416afe,#406dfe,#3c72ff,#327bfc,#2d8af5,#259de7,#0db3d3,#2cc4a7,#79cc5e,#ddbd29,#fdce31,#f5eb23,#f7f61a,#f5ed21,#fbd12f,#e2bc2b,#78cc5f,#26c2ac,#17aeda,#2a93ed,#337afd,#4465fd,#4756f7,#484bef,#4742e6,#463bdd,#4535d2,#4331c6,#412dbc,#402ab3,#3e28ac,#3e26a9,#3e26a8)"></i>
<i style="width:345px;background:linear-gradient(90deg,#2a92ee,#2994ed,#2895ec,#2796eb,#2797eb,#2797eb,#2797eb,#2896eb,#2895ec,#2994ed,#2b92ee,#2b90f0,#2c8ef1,#2d8cf3,#2d8af4,#2d88f6,#2e85f8,#2e83f9,#2f81fa,#307ffb,#327cfc,#337afd,#3678fd,#3776fe,#3975fe,#3a73fe,#3c72ff,#3d71ff,#3e70ff,#3f6fff,#3f6efe,#406dfe,#406cfe,#416bfe,#416bfe,#426afe,#426afe,#426afe,#406cfe,#3d70ff,#3579fd,#2e86f7,#2798ea,#16aeda,#1fc1b1,#63cd70,#ccc028,#fec636,#f5e526,#f6f11e,#f5eb23,#fcd030,#e1bc2b,#79cc5f,#26c2ad,#18aedb,#2a93ee,#337bfd,#4466fd,#4758f8,#484df0,#4745e9,#463ee1,#4538d7,#4433cc,#422fc0,#402bb7,#3f28af,#3e27aa,#3e26a8)"></i>
<i style="width:345px;background:linear-gradient(90deg,#307ffb,#2f81fa,#2f82fa,#2f82f9,#2e83f9,#2e83f9,#2e83f9,#2e83f9,#2f83f9,#2f82fa,#2f81fa,#2f80fa,#307ffb,#317efb,#317dfc,#327cfc,#337bfd,#3479fd,#3578fd,#3677fe,#3776fe,#3875fe,#3974fe,#3a73fe,#3b72fe,#3c71ff,#3d71ff,#3e70ff,#3e6fff,#3f6eff,#3f6efe,#406dfe,#406cfe,#416bfe,#416bfe,#426afe,#416bfe,#406cfe,#3e6fff,#3776fe,#2f82f9,#2a93ed,#1ca9e0,#0cbdbc,#4dcc82,#b7c532,#fdbd3d,#f7dd2a,#f5ec22,#f5e725,#fdce31,#e0bc2a,#77cc60,#24c2ae,#19addc,#2b92ef,#347afd,#4466fd,#4759f8,#484ff2,#4747eb,#4740e4,#463adb,#4435d0,#4330c5,#412dbb,#3f29b2,#3e27ac,#3e26a9,#3e26a8)"></i>
<i style="width:340px;background:linear-gradient(90deg,#3a74fe,#3974fe,#3875fe,#3876fe,#3776fe,#3777fe,#3777fe,#3677fe,#3677fe,#3677fe,#3777fe,#3777fe,#3777fe,#3776fe,#3876fe,#3876fe,#3875fe,#3875fe,#3975fe,#3975fe,#3974fe,#3a74fe,#3a73fe,#3b73fe,#3c72ff,#3c71ff,#3d71ff,#3d70ff,#3e6fff,#3f6fff,#3f6efe,#406dfe,#406cfe,#416cfe,#416bfe,#416bfe,#416cfe,#3f6eff,#3974fe,#307ffb,#2c8ef1,#21a3e3,#01b9c7,#3bc993,#9fc942,#f2ba37,#fad42e,#f5e626,#f5e327,#fdcb32,#dcbd29,#73cd63,#22c1b0,#1babde,#2c90f0,#3578fd,#4466fd,#475af9,#4850f3,#4849ed,#4742e6,#463cdf,#4537d5,#4332ca,#422ebf,#402bb6,#3f28ae,#3e27aa,#3e26a8)"></i>
<i style="width:340px;background:linear-gradient(90deg,#3f6efe,#3f6eff,#3e6fff,#3e70ff,#3d70ff,#3d71ff,#3c71ff,#3c71ff,#3c72ff,#3b72ff,#3b72fe,#3b73fe,#3b73fe,#3a73fe,#3a73fe,#3a74fe,#3a74fe,#3a74fe,#3a74fe,#3a74fe,#3a74fe,#3a73fe,#3a73fe,#3b73fe,#3b72ff,#3c72ff,#3c71ff,#3d70ff,#3e70ff,#3e6fff,#3f6eff,#3f6dfe,#406dfe,#406cfe,#416cfe,#406cfe,#3f6eff,#3b73fe,#327cfc,#2d8af5,#249de6,#09b4d1,#30c5a2,#84cc56,#e2bc2b,#fdcb33,#f6df29,#f6de29,#fec835,#d8be28,#6ecd66,#1ec0b2,#1ca9df,#2c8ef2,#3876fe,#4465fd,#475af9,#4852f4,#484bee,#4744e9,#473ee2,#4539d9,#4434ce,#4230c4,#412cba,#3f29b2,#3e27ab,#3e26a9,#3e26a8)"></i>
<i style="width:335px;background:linear-gradient(90deg,#416bfe,#406cfe,#406cfe,#406dfe,#3f6efe,#3f6eff,#3f6fff,#3e6fff,#3e70ff,#3d70ff,#3d71ff,#3c71ff,#3c72ff,#3b72ff,#3b73fe,#3a73fe,#3a73fe,#3a74fe,#3a74fe,#3a74fe,#3a74fe,#3a74fe,#3a74fe,#3a73fe,#3b73fe,#3b72ff,#3c72ff,#3d71ff,#3d70ff,#3e6fff,#3f6fff,#3f6efe,#406dfe,#406dfe,#406dfe,#3f6efe,#3c71ff,#3579fd,#2e86f8,#2798ea,#16afda,#22c1af,#68cd6b,#cec028,#fec239,#f9d82c,#f8d92c,#fec437,#d3bf27,#69cd6b,#1abfb5,#1ea7e1,#2d8bf4,#3a74fe,#4464fd,#475af9,#4853f4,#484cf0,#4746eb,#4741e4,#463bdc,#4536d3,#4331c8,#412ebe,#402ab5,#3f28ae,#3e27a9,#3e26a8)"></i>
<i style="width:330px;background:linear-gradient(90deg,#426afe,#416bfe,#416bfe,#406cfe,#406cfe,#406dfe,#3f6efe,#3f6eff,#3e6fff,#3e70ff,#3d70ff,#3d71ff,#3c71ff,#3b72ff,#3b73fe,#3a73fe,#3a74fe,#3a74fe,#3974fe,#3974fe,#3974fe,#3974fe,#3a74fe,#3a74fe,#3a73fe,#3b73fe,#3b72ff,#3c71ff,#3d71ff,#3d70ff,#3e6fff,#3f6eff,#3f6efe,#3f6dfe,#3f6eff,#3d71ff,#3777fe,#2f82fa,#2a93ee,#1da9e0,#0dbdbc,#50cc7f,#b8c431,#fabb3d,#fcd030,#fbd32e,#fec13a,#cec028,#64cd6f,#15bfb7,#1fa6e2,#2d89f5,#3c72ff,#4563fc,#475af9,#4853f5,#484ef1,#4848ec,#4743e7,#463de0,#4538d7,#4433cc,#422fc2,#412cb8,#3f29b1,#3e27ab,#3e26a8)"></i>
<i style="width:330px;background:linear-gradient(90deg,#4269fe,#426afe,#416bfe,#416bfe,#406cfe,#406cfe,#406dfe,#3f6eff,#3f6fff,#3e6fff,#3d70ff,#3d71ff,#3c71ff,#3b72ff,#3b73fe,#3a73fe,#3a74fe,#3974fe,#3975fe,#3975fe,#3975fe,#3975fe,#3975fe,#3974fe,#3a74fe,#3a73fe,#3b73fe,#3b72ff,#3c71ff,#3d71ff,#3e70ff,#3e6fff,#3f6fff,#3e6fff,#3d71ff,#3875fe,#307ffb,#2c8ef1,#21a3e3,#01b9c6,#3dc991,#a1c840,#eeba34,#fec934,#fdce31,#febe3c,#c9c129,#60cd72,#11beb9,#20a4e3,#2e87f7,#3d70ff,#4561fc,#4759f9,#4854f5,#484ff2,#484aee,#4745e9,#473fe2,#463ada,#4435d1,#4331c6,#412dbc,#402ab4,#3f28ad,#3e27a9,#3e26a8)"></i>
<i style="width:325px;background:linear-gradient(90deg,#4269fe,#4269fe,#426afe,#416bfe,#416bfe,#406cfe,#406dfe,#3f6efe,#3f6eff,#3e6fff,#3d70ff,#3d71ff,#3c72ff,#3b72fe,#3b73fe,#3a74fe,#3974fe,#3975fe,#3875fe,#3875fe,#3876fe,#3876fe,#3875fe,#3975fe,#3975fe,#3974fe,#3a74fe,#3b73fe,#3b72ff,#3c71ff,#3d71ff,#3d70ff,#3e70ff,#3c71ff,#3975fe,#317dfc,#2d8af4,#249ee6,#07b5d0,#31c69f,#88cb53,#dfbc2a,#fec239,#fec934,#fbbc3d,#c3c22b,#5ccc76,#0ebebb,#21a3e3,#2e85f8,#3f6eff,#4660fc,#4759f8,#4854f5,#4850f3,#484cef,#4747eb,#4741e5,#463cde,#4537d5,#4332ca,#422fc0,#402bb7,#3f29b0,#3e27ab,#3e26a8)"></i>
<i style="width:325px;background:linear-gradient(90deg,#4368fe,#4269fe,#426afe,#426afe,#416bfe,#416cfe,#406dfe,#3f6dfe,#3f6eff,#3e6fff,#3d70ff,#3d71ff,#3c72ff,#3b73fe,#3a73fe,#3a74fe,#3975fe,#3875fe,#3876fe,#3876fe,#3776fe,#3776fe,#3876fe,#3876fe,#3875fe,#3975fe,#3974fe,#3a74fe,#3b73fe,#3b72ff,#3c71ff,#3c71ff,#3c72ff,#3974fe,#337bfc,#2e87f7,#2699e9,#14b0d8,#27c2ac,#6fcd66,#cec028,#fbbc3d,#fec338,#f6ba3c,#bec32e,#58cc79,#0cbdbc,#21a3e4,#2e85f8,#406dfe,#4660fb,#4759f8,#4755f6,#4851f3,#484df0,#4849ed,#4743e8,#463ee1,#4539d9,#4434cf,#4330c5,#412dbb,#402ab3,#3e28ad,#3e27a9,#3e26a8)"></i>
<i style="width:320px;background:linear-gradient(90deg,#4368fe,#4368fe,#4269fe,#426afe,#416bfe,#416cfe,#406cfe,#406dfe,#3f6eff,#3e6fff,#3d70ff,#3c71ff,#3c72ff,#3b73fe,#3a74fe,#3974fe,#3975fe,#3876fe,#3776fe,#3777fe,#3777fe,#3777fe,#3777fe,#3777fe,#3776fe,#3876fe,#3975fe,#3974fe,#3a74fe,#3b73fe,#3b72fe,#3b73fe,#3975fe,#337afd,#2e85f8,#2895ec,#1aabdd,#17bfb6,#59cc78,#bac430,#f1ba37,#febe3c,#f0ba36,#b7c532,#53cc7d,#0abdbd,#21a3e4,#2e84f8,#406cfe,#465ffb,#4758f8,#4755f6,#4852f4,#484ff2,#484aee,#4746ea,#4740e4,#463bdd,#4536d4,#4332c9,#422ebf,#402bb7,#3f28af,#3e27aa,#3e26a8)"></i>
<i style="width:320px;background:linear-gradient(90deg,#4367fd,#4368fe,#4269fe,#426afe,#416afe,#416bfe,#406cfe,#406dfe,#3f6eff,#3e6fff,#3d70ff,#3c71ff,#3b72ff,#3b73fe,#3a74fe,#3975fe,#3876fe,#3776fe,#3777fe,#3777fe,#3677fe,#3677fe,#3677fe,#3677fe,#3777fe,#3776fe,#3876fe,#3975fe,#3974fe,#3a74fe,#3a74fe,#3875fe,#347afd,#2e83f9,#2b92ee,#1ea7e1,#07bcc0,#46cb88,#a5c83d,#e4bb2c,#f7ba3c,#e9bb30,#b1c636,#50cc80,#0abdbe,#21a3e3,#2e85f8,#406cfe,#465ffb,#4758f8,#4755f6,#4853f5,#4850f3,#484cf0,#4848ec,#4743e7,#463de0,#4538d8,#4434ce,#4230c4,#412cba,#402ab3,#3e28ac,#3e27a9,#3e26a8)"></i>
<i style="width:315px;background:linear-gradient(90deg,#4367fd,#4368fd,#4368fe,#4269fe,#426afe,#416bfe,#406cfe,#406dfe,#3f6eff,#3e6fff,#3d70ff,#3c71ff,#3b72ff,#3a73fe,#3974fe,#3975fe,#3876fe,#3777fe,#3777fe,#3678fe,#3678fd,#3678fd,#3678fd,#3678fe,#3677fe,#3777fe,#3776fe,#3876fe,#3875fe,#3975fe,#3776fe,#347afd,#2f82fa,#2c8ff0,#21a3e3,#01b9c8,#38c896,#8ecb4e,#d4bf28,#ecba33,#e1bc2b,#a9c73a,#4ccb83,#09bcbe,#21a4e3,#2e86f7,#406dfe,#465ffb,#4759f8,#4755f6,#4854f5,#4851f3,#484ef1,#484aee,#4745e9,#4740e3,#463adc,#4536d3,#4332c8,#422ebf,#402bb6,#3f28af,#3e27aa,#3e26a8)"></i>
<i style="width:315px;background:linear-gradient(90deg,#4367fd,#4367fd,#4368fe,#4269fe,#426afe,#416bfe,#416cfe,#406dfe,#3f6eff,#3e6fff,#3d70ff,#3c71ff,#3b72ff,#3a73fe,#3974fe,#3875fe,#3876fe,#3777fe,#3677fe,#3678fd,#3578fd,#3578fd,#3578fd,#3578fd,#3678fd,#3677fe,#3777fe,#3776fe,#3776fe,#3777fe,#347afd,#2f81fa,#2d8df2,#239fe5,#06b5cf,#30c5a2,#77cc60,#c2c22c,#e0bc2a,#d7be28,#a1c840,#48cb86,#08bcbf,#20a4e3,#2d87f6,#3f6eff,#465ffb,#4759f8,#4756f6,#4854f5,#4852f4,#4850f2,#484cef,#4747eb,#4742e6,#463ddf,#4538d7,#4433cd,#4230c3,#412cba,#4029b2,#3e28ac,#3e27a9,#3e26a8)"></i>
<i style="width:310px;background:linear-gradient(90deg,#4466fd,#4367fd,#4368fe,#4369fe,#426afe,#416bfe,#416cfe,#406dfe,#3f6efe,#3e6fff,#3d70ff,#3c71ff,#3b72fe,#3a73fe,#3974fe,#3875fe,#3776fe,#3777fe,#3678fe,#3578fd,#3579fd,#3579fd,#3579fd,#3579fd,#3578fd,#3678fe,#3677fe,#3677fe,#3678fe,#337afd,#2f80fa,#2d8bf4,#259ce7,#11b1d6,#26c2ad,#61cd72,#aec637,#d2bf27,#cbc029,#98ca47,#44ca8a,#06bcc0,#20a4e3,#2d89f6,#3e70ff,#4660fb,#4759f8,#4756f7,#4854f6,#4853f5,#4851f3,#484ef1,#4849ed,#4744e9,#473fe3,#463adb,#4535d2,#4331c8,#422ebe,#402bb6,#3f28af,#3e27aa,#3e26a8)"></i>
<i style="width:310px;background:linear-gradient(90deg,#4466fd,#4367fd,#4368fd,#4368fe,#4269fe,#426afe,#416bfe,#406cfe,#3f6efe,#3f6fff,#3d70ff,#3c71ff,#3b72ff,#3a73fe,#3974fe,#3875fe,#3776fe,#3677fe,#3678fe,#3578fd,#3579fd,#3579fd,#3579fd,#3579fd,#3578fd,#3678fd,#3678fd,#3578fd,#337afd,#307ffb,#2d89f5,#2699e9,#18addb,#17bfb7,#4dcb82,#98c947,#c1c32c,#bec32e,#8dcb4f,#3fca8e,#04bbc2,#20a5e3,#2d8af5,#3c71ff,#4561fc,#475af9,#4756f7,#4755f6,#4854f5,#4852f4,#484ff2,#484bef,#4747eb,#4742e6,#463cdf,#4537d6,#4433cd,#4230c3,#412cba,#3f29b2,#3e28ac,#3e27a9,#3e26a8)"></i>
<i style="width:305px;background:linear-gradient(90deg,#4466fd,#4366fd,#4367fd,#4368fe,#4269fe,#426afe,#416bfe,#406cfe,#3f6dfe,#3f6fff,#3e70ff,#3d71ff,#3b72ff,#3a73fe,#3974fe,#3875fe,#3776fe,#3777fe,#3678fe,#3578fd,#3579fd,#3579fd,#3579fd,#3579fd,#3579fd,#3578fd,#3579fd,#337bfd,#307ffb,#2d87f7,#2896ec,#1ca9df,#07bcc0,#3cc991,#81cc58,#afc637,#b0c636,#83cc57,#3dc991,#05bbc1,#1fa6e1,#2c8ef2,#3777fe,#4466fd,#465dfb,#475af9,#4758f8,#4757f7,#4755f6,#4852f4,#484ef1,#484aed,#4744e8,#473fe2,#463ada,#4435d1,#4331c7,#412ebe,#402bb6,#3f28af,#3e27aa,#3e26a8)"></i>
<i style="width:305px;background:linear-gradient(90deg,#4465fd,#4466fd,#4367fd,#4368fe,#4369fe,#426afe,#416bfe,#406cfe,#406dfe,#3f6eff,#3e6fff,#3d71ff,#3c72ff,#3b73fe,#3a74fe,#3975fe,#3876fe,#3777fe,#3678fe,#3678fd,#3578fd,#3579fd,#3579fd,#3579fd,#3579fd,#3579fd,#337afd,#317efb,#2e86f8,#2a93ee,#20a5e2,#01b8c8,#32c69f,#69cd6b,#9ac946,#9fc942,#77cc60,#39c994,#04bbc1,#1ea8e1,#2b91ef,#327dfc,#416cfe,#4562fc,#465efb,#475cfa,#475af9,#4758f8,#4755f6,#4851f4,#484df0,#4747eb,#4742e6,#463cde,#4537d6,#4433cc,#422fc2,#412cb9,#3f29b2,#3e28ac,#3e27a9,#3e26a8)"></i>
<i style="width:300px;background:linear-gradient(90deg,#4465fd,#4466fd,#4367fd,#4367fd,#4368fe,#4269fe,#416afe,#416cfe,#406dfe,#3f6efe,#3e6fff,#3d70ff,#3c71ff,#3b73fe,#3a74fe,#3975fe,#3876fe,#3776fe,#3677fe,#3678fe,#3678fd,#3578fd,#3578fd,#3579fd,#3579fd,#347afd,#317dfc,#2e84f9,#2c8ff0,#23a1e5,#09b4d1,#27c2ab,#52cc7e,#81cc58,#8bcb51,#69cd6b,#36c799,#03bbc2,#1da8e0,#2994ed,#2f81fa,#3c71ff,#4367fd,#4562fc,#4660fb,#465efb,#475cfa,#4759f8,#4755f6,#4850f2,#484aee,#4744e8,#473fe2,#4639da,#4435d0,#4331c6,#412dbd,#402ab5,#3f28ae,#3e27aa,#3e26a8)"></i>
<i style="width:300px;background:linear-gradient(90deg,#4465fd,#4465fd,#4466fd,#4367fd,#4368fe,#4269fe,#426afe,#416bfe,#406cfe,#3f6dfe,#3f6fff,#3e70ff,#3d71ff,#3b72ff,#3a73fe,#3974fe,#3975fe,#3876fe,#3777fe,#3677fe,#3678fe,#3678fd,#3678fd,#3578fd,#347afd,#327cfc,#2f82f9,#2d8cf3,#259ce7,#15afd8,#15bfb7,#3dc990,#67cd6c,#74cd62,#59cc78,#32c69f,#02bac4,#1da9e0,#2896eb,#2e86f8,#3677fe,#406cfe,#4367fd,#4464fd,#4562fc,#4660fb,#475dfa,#4758f8,#4853f5,#484df0,#4747eb,#4741e5,#463bdd,#4536d4,#4332ca,#422fc0,#402bb8,#3f29b1,#3e27ac,#3e26a9,#3e26a8)"></i>
<i style="width:295px;background:linear-gradient(90deg,#4464fd,#4465fd,#4466fd,#4367fd,#4368fd,#4369fe,#426afe,#416bfe,#416cfe,#406dfe,#3f6eff,#3e6fff,#3d70ff,#3c71ff,#3b72fe,#3a73fe,#3974fe,#3875fe,#3876fe,#3776fe,#3777fe,#3677fe,#3678fe,#3579fd,#337bfc,#3080fa,#2d89f5,#2797ea,#1caadf,#02bac4,#2fc5a2,#4bcb84,#59cc78,#46cb88,#2bc4a7,#01b8c8,#1da8e0,#2797eb,#2d89f5,#317dfc,#3b72ff,#406cfe,#4269fe,#4367fd,#4564fd,#4661fc,#475cfa,#4757f7,#4850f3,#484aee,#4744e8,#463de0,#4538d8,#4434ce,#4230c4,#412dbb,#402ab4,#3f28ad,#3e27aa,#3e26a8)"></i>
<i style="width:290px;background:linear-gradient(90deg,#4564fd,#4465fd,#4465fd,#4466fd,#4367fd,#4368fe,#4269fe,#426afe,#416bfe,#406cfe,#3f6dfe,#3f6eff,#3e70ff,#3d71ff,#3c72ff,#3b73fe,#3a74fe,#3974fe,#3975fe,#3876fe,#3876fe,#3777fe,#3678fe,#347afd,#317efb,#2e86f8,#2a92ee,#21a3e3,#08b4d1,#1cc0b4,#35c79a,#3eca8f,#35c799,#1fc0b2,#05b6ce,#1fa6e1,#2797eb,#2d8cf3,#2f81fa,#3678fd,#3c71ff,#3f6eff,#416bfe,#4368fe,#4465fd,#4660fc,#475af9,#4854f5,#484df0,#4746ea,#4740e3,#463adb,#4435d1,#4331c7,#412ebe,#402bb6,#3f29af,#3e27ab,#3e26a8)"></i>
<i style="width:290px;background:linear-gradient(90deg,#4564fd,#4464fd,#4465fd,#4466fd,#4367fd,#4367fd,#4368fe,#4269fe,#416afe,#416bfe,#406dfe,#3f6efe,#3f6fff,#3e70ff,#3d71ff,#3c72ff,#3b73fe,#3a73fe,#3a74fe,#3975fe,#3875fe,#3876fe,#3678fe,#327bfc,#2f82f9,#2d8df2,#259ce7,#19addc,#02bac4,#23c1af,#2dc4a5,#28c2ab,#0abdbd,#0eb2d4,#20a4e3,#2797eb,#2d8df2,#2e85f8,#317dfc,#3777fe,#3b73fe,#3d70ff,#3f6dfe,#426afe,#4465fd,#465efb,#4757f7,#4850f3,#4849ed,#4742e6,#463cde,#4536d5,#4332ca,#422fc1,#412cb8,#3f29b1,#3e27ac,#3e27a9,#3e26a8)"></i>
<i style="width:285px;background:linear-gradient(90deg,#4563fd,#4564fd,#4464fd,#4465fd,#4466fd,#4367fd,#4368fd,#4369fe,#426afe,#416bfe,#416cfe,#406dfe,#3f6efe,#3f6fff,#3e70ff,#3d70ff,#3c71ff,#3b72ff,#3b73fe,#3a73fe,#3974fe,#3876fe,#3579fd,#307efb,#2d88f6,#2995ec,#20a4e3,#0eb2d4,#03bbc2,#13beb9,#0dbdbc,#01b8ca,#18aedb,#23a1e5,#2895ec,#2c8ef2,#2d88f6,#2f82fa,#327cfc,#3678fe,#3876fe,#3b73fe,#3f6fff,#426afe,#4563fc,#475bf9,#4853f5,#484cef,#4744e9,#463ee1,#4538d7,#4433cd,#4230c3,#412cbb,#402ab3,#3f28ad,#3e27aa,#3e26a8)"></i>
<i style="width:285px;background:linear-gradient(90deg,#4562fc,#4563fc,#4564fd,#4464fd,#4465fd,#4466fd,#4367fd,#4368fd,#4369fe,#4269fe,#416afe,#416bfe,#406cfe,#3f6dfe,#3f6eff,#3e6fff,#3e70ff,#3d71ff,#3c71ff,#3b72ff,#3a73fe,#3876fe,#337bfd,#2f82f9,#2c8ef2,#259be8,#1ca9e0,#0cb3d3,#02b7cb,#03b7cc,#11b2d5,#1da8e0,#259de7,#2994ed,#2d8df2,#2d8af5,#2e86f8,#2f81fa,#317dfc,#337bfd,#3678fe,#3a74fe,#3e6fff,#4368fd,#465ffb,#4757f7,#484ff2,#4747eb,#4740e3,#463ada,#4435d0,#4331c6,#412dbd,#402ab6,#3f28af,#3e27ab,#3e26a9,#3e26a8)"></i>
<i style="width:280px;background:linear-gradient(90deg,#4562fc,#4562fc,#4563fc,#4563fd,#4464fd,#4465fd,#4466fd,#4367fd,#4367fd,#4368fe,#4269fe,#426afe,#416bfe,#406cfe,#406dfe,#3f6efe,#3f6eff,#3e6fff,#3e70ff,#3c71ff,#3a73fe,#3777fe,#317efb,#2e87f7,#2a93ee,#249fe5,#1ca9df,#16afd9,#16afd9,#1baadf,#22a2e4,#2699ea,#2b91ef,#2d8df2,#2d8bf4,#2d89f6,#2e85f8,#2f81fa,#307ffb,#317dfc,#3479fd,#3974fe,#406dfe,#4464fd,#475bf9,#4852f4,#484aee,#4742e6,#463bde,#4536d4,#4332c9,#422ec0,#402bb8,#3f29b1,#3e27ac,#3e27a9,#3e26a8)"></i>
<i style="width:275px;background:linear-gradient(90deg,#4661fc,#4561fc,#4562fc,#4562fc,#4563fd,#4564fd,#4464fd,#4465fd,#4466fd,#4367fd,#4368fe,#4369fe,#4269fe,#426afe,#416bfe,#406cfe,#406dfe,#3f6dfe,#3f6eff,#3d70ff,#3a73fe,#3579fd,#2f81fa,#2d8bf4,#2895ec,#249fe6,#20a4e3,#1fa5e2,#22a2e4,#259be8,#2994ed,#2c8ef1,#2d8bf3,#2d8bf4,#2d8bf4,#2d88f6,#2e85f8,#2e83f9,#2f81fa,#307efb,#347afd,#3b73fe,#4269fe,#4660fb,#4756f7,#484df0,#4745e9,#463de0,#4537d7,#4433cc,#422fc2,#412cba,#402ab3,#3f28ad,#3e27aa,#3e26a8)"></i>
<i style="width:270px;background:linear-gradient(90deg,#4660fb,#4660fc,#4661fc,#4561fc,#4562fc,#4563fc,#4563fd,#4564fd,#4465fd,#4466fd,#4466fd,#4367fd,#4368fe,#4369fe,#4269fe,#426afe,#416bfe,#416cfe,#406dfe,#3e6fff,#3a74fe,#347afd,#2f82f9,#2d8bf3,#2994ed,#2699e9,#269ae8,#2798ea,#2a93ed,#2c8ef1,#2d8bf4,#2d89f5,#2d8af4,#2d8cf3,#2d8bf4,#2d89f5,#2e87f7,#2e85f8,#2e83f9,#307ffb,#3579fd,#3e6fff,#4465fd,#475af9,#4851f3,#4848ec,#4740e3,#4639d9,#4434cf,#4330c5,#412dbc,#402ab5,#3f28af,#3e27aa,#3e26a8)"></i>
<i style="width:270px;background:linear-gradient(90deg,#465ffb,#465ffb,#4660fb,#4660fc,#4661fc,#4561fc,#4562fc,#4563fc,#4563fd,#4564fd,#4465fd,#4465fd,#4466fd,#4367fd,#4368fd,#4368fe,#4269fe,#426afe,#406cfe,#3e6fff,#3a73fe,#347afd,#2f81fa,#2d88f6,#2d8df3,#2c8ef1,#2d8df2,#2d8bf4,#2d88f6,#2e86f7,#2e87f7,#2d89f5,#2d8cf3,#2d8df2,#2d8cf3,#2d8af5,#2d89f5,#2d88f6,#2e84f8,#307efb,#3875fe,#426afe,#465ffb,#4854f6,#484bee,#4742e6,#463bdd,#4535d2,#4331c7,#412ebe,#402bb6,#3f29b0,#3e27ab,#3e26a9,#3e26a8)"></i>
<i style="width:265px;background:linear-gradient(90deg,#465efb,#465efb,#465efb,#465ffb,#465ffb,#4660fb,#4661fc,#4561fc,#4562fc,#4562fc,#4563fd,#4564fd,#4464fd,#4465fd,#4466fd,#4466fd,#4367fd,#4368fe,#416afe,#3f6dfe,#3c71ff,#3777fe,#327cfc,#307ffb,#2f81fa,#2f82fa,#2f81fa,#2f80fa,#2f81fa,#2e83f9,#2e86f7,#2d8bf4,#2d8df2,#2c8ef2,#2d8df2,#2d8cf3,#2d8bf3,#2d89f5,#2e84f8,#327cfc,#3d70ff,#4464fd,#4759f8,#484ef1,#4745e9,#463de0,#4537d5,#4332ca,#422fc0,#412cb8,#3f29b2,#3e28ac,#3e27a9,#3e26a8)"></i>
<i style="width:260px;background:linear-gradient(90deg,#475cfa,#465dfa,#465dfa,#465efb,#465efb,#465ffb,#465ffb,#4660fb,#4660fc,#4561fc,#4561fc,#4562fc,#4563fc,#4563fd,#4564fd,#4464fd,#4465fd,#4466fd,#4368fd,#426afe,#406cfe,#3f6fff,#3c71ff,#3b73fe,#3974fe,#3876fe,#3677fe,#337afd,#317efb,#2e83f9,#2d88f6,#2d8df2,#2c8ff1,#2c8ff1,#2c8ef1,#2c8ff1,#2d8df2,#2d89f5,#2f82fa,#3777fe,#426afe,#465efb,#4852f4,#4848ec,#473fe3,#4538d8,#4433cd,#4230c3,#412cba,#402ab3,#3f28ae,#3e27aa,#3e26a8)"></i>
<i style="width:260px;background:linear-gradient(90deg,#475bf9,#475cfa,#475cfa,#475cfa,#475dfa,#465dfa,#465efb,#465efb,#465ffb,#465ffb,#4660fb,#4660fc,#4661fc,#4561fc,#4562fc,#4562fc,#4563fc,#4563fd,#4564fd,#4464fd,#4465fd,#4466fd,#4367fd,#4269fe,#416bfe,#3e6fff,#3a73fe,#3579fd,#307ffb,#2e85f8,#2d8bf3,#2c8ff1,#2c90f0,#2b90f0,#2b91ef,#2b91ef,#2c8ef1,#2d88f6,#317efb,#3d70ff,#4563fd,#4757f7,#484cef,#4742e6,#463adc,#4435d0,#4330c5,#412dbc,#402ab5,#3f28af,#3e27ab,#3e26a9,#3e26a8)"></i>
<i style="width:255px;background:linear-gradient(90deg,#475af9,#475af9,#475bf9,#475bf9,#475bfa,#475cfa,#475cfa,#475dfa,#465dfa,#465efb,#465efb,#465efb,#465ffb,#465ffb,#4660fb,#4660fc,#4661fc,#4561fc,#4562fc,#4562fc,#4563fd,#4464fd,#4466fd,#4368fe,#416bfe,#3e6fff,#3974fe,#337bfc,#2f82fa,#2d88f6,#2d8df2,#2c90f0,#2b91ef,#2a93ee,#2994ed,#2a92ee,#2d8df2,#2e84f8,#3678fe,#4269fe,#475cfa,#4850f3,#4745ea,#463ddf,#4536d4,#4331c8,#422ebe,#402bb7,#3f29b0,#3e27ac,#3e27a9,#3e26a8)"></i>
<i style="width:250px;background:linear-gradient(90deg,#4759f8,#4759f8,#4759f9,#475af9,#475af9,#475af9,#475bf9,#475bf9,#475bfa,#475cfa,#475cfa,#475dfa,#465dfa,#465dfb,#465efb,#465efb,#465ffb,#465ffb,#4660fb,#4660fc,#4561fc,#4562fc,#4464fd,#4367fd,#416bfe,#3e6fff,#3876fe,#317dfc,#2e84f8,#2d8bf4,#2c8ff1,#2b91ef,#2a93ed,#2896ec,#2896ec,#2b92ee,#2d8af4,#307ffb,#3d70ff,#4562fc,#4755f6,#4849ed,#473fe3,#4538d7,#4433cb,#422fc1,#412cb8,#3f29b2,#3f28ad,#3e27aa,#3e26a8)"></i>
<i style="width:245px;background:linear-gradient(90deg,#4758f8,#4758f8,#4758f8,#4758f8,#4759f8,#4759f8,#4759f8,#475af9,#475af9,#475af9,#475bf9,#475bf9,#475bfa,#475cfa,#475cfa,#475cfa,#475dfa,#465dfa,#465efb,#465efb,#465ffb,#4561fc,#4563fc,#4466fd,#426afe,#3e70ff,#3777fe,#307ffb,#2e86f7,#2d8cf3,#2c90f0,#2a93ed,#2797eb,#2798ea,#2796eb,#2c90f0,#2e86f8,#3678fe,#4368fe,#475af9,#484df1,#4742e6,#463adb,#4434ce,#4230c3,#412cba,#402ab3,#3f28ae,#3e27aa,#3e26a8)"></i>
<i style="width:245px;background:linear-gradient(90deg,#4756f7,#4756f7,#4757f7,#4757f7,#4757f7,#4757f7,#4758f8,#4758f8,#4758f8,#4759f8,#4759f8,#4759f8,#4759f9,#475af9,#475af9,#475af9,#475bf9,#475bf9,#475cfa,#475cfa,#465efb,#465ffb,#4562fc,#4465fd,#426afe,#3d70ff,#3578fd,#2f81fa,#2d88f6,#2d8df2,#2b92ef,#2896eb,#2699e9,#269ae9,#2895ec,#2d8cf3,#307ffb,#3e6fff,#4660fb,#4852f4,#4746ea,#463cdf,#4535d2,#4331c6,#412dbc,#402ab5,#3f28af,#3e27ab,#3e26a9,#3e26a8)"></i>
<i style="width:240px;background:linear-gradient(90deg,#4755f6,#4755f6,#4755f6,#4755f6,#4756f6,#4756f7,#4756f7,#4756f7,#4757f7,#4757f7,#4757f7,#4757f8,#4758f8,#4758f8,#4758f8,#4759f8,#4759f8,#4759f8,#475af9,#475bf9,#475cfa,#465efb,#4660fc,#4464fd,#426afe,#3c71ff,#347afd,#2f83f9,#2d89f5,#2c8ff1,#2994ed,#269ae9,#259ce7,#269ae9,#2a92ee,#2e87f7,#3677fe,#4366fd,#4757f7,#484aee,#473fe2,#4537d6,#4332c9,#422ebe,#402bb7,#3f29b0,#3e27ac,#3e27a9,#3e26a8)"></i>
<i style="width:235px;background:linear-gradient(90deg,#4854f5,#4854f5,#4854f5,#4854f5,#4854f6,#4854f6,#4755f6,#4755f6,#4755f6,#4755f6,#4756f6,#4756f6,#4756f7,#4756f7,#4756f7,#4757f7,#4757f7,#4757f7,#4758f8,#4759f8,#475af9,#475cfa,#4660fb,#4464fd,#416afe,#3b73fe,#327cfc,#2e84f8,#2d8bf4,#2b92ee,#2698ea,#259de7,#249de6,#2798ea,#2c8ef2,#3080fb,#3f6eff,#465dfb,#484ff2,#4743e7,#4639da,#4433cc,#422fc1,#412cb8,#3f29b2,#3f28ad,#3e27aa,#3e26a8)"></i>
<i style="width:235px;background:linear-gradient(90deg,#4852f4,#4852f4,#4853f4,#4853f5,#4853f5,#4853f5,#4853f5,#4853f5,#4854f5,#4854f5,#4854f5,#4854f5,#4854f6,#4855f6,#4755f6,#4755f6,#4755f6,#4756f6,#4756f7,#4757f7,#4759f8,#475bfa,#465ffb,#4464fd,#416cfe,#3975fe,#317efb,#2e86f7,#2c8ef1,#2896eb,#259de7,#23a0e5,#259de7,#2995ec,#2d88f6,#3777fe,#4464fd,#4855f6,#4747eb,#463cde,#4435d0,#4230c4,#412cba,#402ab3,#3f28ae,#3e27aa,#3e26a9,#3e26a8)"></i>
<i style="width:230px;background:linear-gradient(90deg,#4851f3,#4851f3,#4851f3,#4851f4,#4851f4,#4852f4,#4852f4,#4852f4,#4852f4,#4852f4,#4852f4,#4853f4,#4853f5,#4853f5,#4853f5,#4853f5,#4854f5,#4854f5,#4755f6,#4756f6,#4758f8,#475bf9,#465ffb,#4465fd,#3f6dfe,#3677fe,#2f80fa,#2d89f5,#2a93ee,#259be8,#23a1e5,#23a1e4,#259be7,#2b90f0,#2f80fa,#406dfe,#475bf9,#484cef,#473fe3,#4537d5,#4331c7,#412dbc,#402ab5,#3f28af,#3e27ab,#3e26a9,#3e26a8)"></i>
<i style="width:225px;background:linear-gradient(90deg,#4850f2,#4850f2,#4850f2,#4850f3,#4850f3,#4850f3,#4850f3,#4850f3,#4851f3,#4851f3,#4851f3,#4851f3,#4851f3,#4851f3,#4851f4,#4852f4,#4852f4,#4852f4,#4853f5,#4854f6,#4757f7,#475af9,#465ffb,#4466fd,#3e70ff,#3479fd,#2e83f9,#2c8ef2,#2798ea,#23a0e5,#21a4e3,#22a1e4,#2698ea,#2d8af4,#3777fe,#4563fc,#4852f4,#4744e8,#4639d9,#4332cb,#422ebf,#402bb6,#3f29b0,#3e27ab,#3e27a9,#3e26a8)"></i>
<i style="width:220px;background:linear-gradient(90deg,#484ef1,#484ef1,#484ff1,#484ff2,#484ff2,#484ff2,#484ff2,#484ff2,#484ff2,#484ff2,#484ff2,#484ff2,#4850f2,#4850f2,#4850f2,#4850f3,#4850f3,#4851f3,#4852f4,#4853f5,#4756f6,#475af9,#4660fb,#4368fe,#3c72ff,#327cfc,#2d88f6,#2994ed,#249ee6,#20a4e3,#1fa6e2,#23a0e5,#2a93ed,#2f82fa,#406cfe,#4759f8,#4848ec,#463cde,#4434ce,#422fc1,#402bb8,#3f29b1,#3e27ac,#3e27a9,#3e26a8)"></i>
<i style="width:215px;background:linear-gradient(90deg,#484df0,#484df0,#484df0,#484df1,#484df1,#484df1,#484ef1,#484ef1,#484ef1,#484ef1,#484ef1,#484ef1,#484ef1,#484ef1,#484ef1,#484ef1,#484ff2,#484ff2,#4850f3,#4852f4,#4755f6,#475af9,#4661fc,#426afe,#3a74fe,#2f80fa,#2c8ef2,#269ae8,#21a3e3,#1da8e0,#1fa6e2,#259ce7,#2d8cf3,#3777fe,#4660fc,#484ef1,#473fe3,#4536d3,#4230c4,#412cb9,#3f29b2,#3e28ac,#3e27a9,#3e26a8)"></i>
<i style="width:210px;background:linear-gradient(90deg,#484cef,#484cef,#484cef,#484cef,#484cf0,#484cf0,#484cf0,#484cf0,#484cf0,#484cf0,#484cf0,#484df0,#484df0,#484df0,#484df0,#484df0,#484df1,#484ef1,#484ff2,#4851f3,#4755f6,#475af9,#4562fc,#416cfe,#3578fd,#2e86f7,#2895ec,#23a1e4,#1da8e0,#1baade,#20a4e3,#2796eb,#2f82fa,#4269fe,#4854f6,#4744e8,#4538d7,#4331c7,#412dbb,#402ab3,#3f28ad,#3e27a9,#3e26a8)"></i>
<i style="width:205px;background:linear-gradient(90deg,#484bee,#484bee,#484bee,#484bee,#484bee,#484bee,#484bef,#484bef,#484bef,#484bef,#484bef,#484bef,#484bef,#484bef,#484bef,#484cef,#484cef,#484df0,#484ef1,#4851f3,#4755f6,#475cfa,#4464fd,#3e6fff,#307ffb,#2c8ff1,#249de6,#1ea8e1,#19acdc,#1babde,#239fe5,#2d8cf3,#3a74fe,#475bfa,#4848ec,#463adc,#4332ca,#412dbd,#402ab4,#3f28ad,#3e27aa,#3e26a8)"></i>
<i style="width:200px;background:linear-gradient(90deg,#4849ed,#4849ed,#4849ed,#4849ed,#4849ed,#484aed,#484aed,#484aed,#484aed,#484aee,#484aee,#484aee,#484aee,#484aee,#484aee,#484aee,#484bee,#484cef,#484df1,#4851f3,#4756f7,#465efb,#4368fd,#3876fe,#2d87f7,#2798ea,#1fa5e2,#18addb,#16afd9,#1ea7e1,#2796eb,#307efb,#4563fd,#484ef1,#463de0,#4433cd,#422ebe,#402ab5,#3f28ae,#3e27aa,#3e26a8)"></i>
<i style="width:195px;background:linear-gradient(90deg,#4848ec,#4848ec,#4848ec,#4848ec,#4848ec,#4848ec,#4848ec,#4848ec,#4848ec,#4848ec,#4849ec,#4849ed,#4849ed,#4849ed,#4849ed,#4849ed,#484aed,#484bef,#484df1,#4852f4,#4758f8,#4561fc,#3f6efe,#3080fb,#2a92ee,#22a2e4,#19addc,#12b1d6,#18aedb,#249fe5,#2d88f6,#416bfe,#4853f5,#4740e4,#4435d0,#422fc0,#402ab5,#3f28ae,#3e27aa,#3e26a8)"></i>
<i style="width:190px;background:linear-gradient(90deg,#4747eb,#4747eb,#4747eb,#4747eb,#4747eb,#4747eb,#4747eb,#4747eb,#4747eb,#4747eb,#4747eb,#4747eb,#4747ec,#4747ec,#4848ec,#4848ec,#4849ed,#484aee,#484ef1,#4854f5,#475bf9,#4367fd,#3678fe,#2d8cf3,#249ee6,#1aacdd,#0fb2d4,#10b2d5,#1ea7e1,#2b91ef,#3a74fe,#4758f8,#4743e7,#4536d3,#422fc1,#402bb6,#3f28ae,#3e27aa,#3e26a8)"></i>
<i style="width:185px;background:linear-gradient(90deg,#4746ea,#4746ea,#4746ea,#4746ea,#4746ea,#4746ea,#4746ea,#4746ea,#4746ea,#4746ea,#4746ea,#4746ea,#4746ea,#4746eb,#4747eb,#4747eb,#4848ec,#484bee,#484ff2,#4756f7,#4660fc,#3d70ff,#2e85f8,#269ae9,#1baadf,#0db3d3,#08b5d0,#19addc,#2699e9,#327cfc,#465dfa,#4746eb,#4537d6,#422fc3,#402bb6,#3f28ae,#3e27aa,#3e26a8)"></i>
<i style="width:180px;background:linear-gradient(90deg,#4745e9,#4745e9,#4745e9,#4745e9,#4745e9,#4745e9,#4745e9,#4745e9,#4745e9,#4745e9,#4745e9,#4745e9,#4745e9,#4745e9,#4746ea,#4746eb,#4848ec,#484cef,#4852f4,#475bf9,#4269fe,#307ffb,#2895ec,#1da8e0,#0cb3d3,#03b7cc,#0fb2d4,#23a1e5,#2e84f8,#4563fd,#484aee,#4539d9,#4230c4,#402bb7,#3f28af,#3e27aa,#3e26a8)"></i>
<i style="width:175px;background:linear-gradient(90deg,#4744e8,#4744e8,#4744e8,#4744e8,#4744e8,#4744e8,#4744e8,#4744e8,#4744e8,#4744e8,#4744e8,#4744e8,#4744e8,#4744e9,#4745e9,#4746ea,#4849ed,#484ef1,#4756f7,#4563fd,#3677fe,#2c8ff0,#20a5e2,#0cb3d3,#01b8c9,#04b6cd,#1da8e0,#2d8cf3,#426afe,#484ef1,#463bdc,#4331c6,#402bb8,#3f28af,#3e27aa,#3e26a8)"></i>
<i style="width:170px;background:linear-gradient(90deg,#4743e7,#4743e7,#4743e7,#4743e7,#4743e7,#4743e7,#4743e7,#4743e7,#4743e7,#4743e7,#4743e7,#4743e7,#4743e7,#4744e8,#4745e9,#4747eb,#484bef,#4852f4,#465dfb,#3d70ff,#2d89f5,#22a1e4,#0eb2d4,#01bac5,#01b9c6,#15afd9,#2895ec,#3c71ff,#4852f4,#463ddf,#4332c9,#412cb9,#3f29b0,#3e27aa,#3e26a8)"></i>
<i style="width:165px;background:linear-gradient(90deg,#4742e6,#4742e6,#4742e6,#4742e6,#4742e6,#4742e6,#4742e6,#4742e6,#4742e6,#4742e6,#4742e6,#4742e6,#4743e7,#4743e7,#4745e9,#4848ec,#484ef1,#4758f8,#4269fe,#2f82f9,#259de7,#12b1d6,#02bbc3,#07bcbf,#07b5d0,#249de6,#3479fd,#4757f7,#473fe2,#4432cb,#412cba,#3f29b0,#3e27ab,#3e26a8)"></i>
<i style="width:160px;background:linear-gradient(90deg,#4741e5,#4741e5,#4741e5,#4741e5,#4741e5,#4741e5,#4741e5,#4741e5,#4741e5,#4741e5,#4741e6,#4742e6,#4742e6,#4743e7,#4745e9,#484aee,#4853f5,#4562fc,#337bfd,#2797ea,#15afd9,#05bbc1,#13beb8,#01b9c6,#20a5e2,#2f81fa,#475bf9,#4741e5,#4433cd,#412dbb,#3f29b1,#3e27ab,#3e26a8)"></i>
<i style="width:155px;background:linear-gradient(90deg,#4741e5,#4741e5,#4741e5,#4741e5,#4741e5,#4741e5,#4741e5,#4741e5,#4741e5,#4741e5,#4741e5,#4741e5,#4742e6,#4743e7,#4747eb,#484ef1,#475bfa,#3b72fe,#2b91ef,#18addb,#08bcbf,#20c1b1,#0dbdbb,#19acdc,#2d88f6,#465ffb,#4743e7,#4434ce,#412dbb,#3f29b1,#3e27ab,#3e26a8)"></i>
<i style="width:150px;background:linear-gradient(90deg,#4740e4,#4740e4,#4740e4,#4740e4,#4740e4,#4740e4,#4740e4,#4740e4,#4740e4,#4740e4,#4740e4,#4741e4,#4741e6,#4744e8,#484aee,#4755f6,#426afe,#2d8bf4,#1baade,#0abdbd,#2ac3a9,#20c1b1,#0eb2d4,#2c8ef1,#4562fc,#4744e8,#4434ce,#412dbb,#3f29b1,#3e27ab,#3e26a8)"></i>
<i style="width:145px;background:linear-gradient(90deg,#4740e3,#4740e3,#4740e3,#4740e3,#4740e3,#4740e3,#4740e3,#4740e3,#4740e3,#4740e3,#4740e3,#4740e4,#4742e6,#4747eb,#4850f2,#4562fc,#2e83f9,#1fa6e1,#0bbdbc,#30c5a1,#2cc4a6,#01b7ca,#2a93ed,#4464fd,#4744e8,#4433cd,#412dbb,#3f29b1,#3e27ab,#3e26a8)"></i>
<i style="width:140px;background:linear-gradient(90deg,#473fe3,#473fe3,#473fe3,#473fe3,#473fe3,#473fe3,#473fe3,#473fe3,#473fe3,#473fe3,#4740e3,#4741e4,#4744e8,#484bef,#475bf9,#347afd,#23a1e4,#0abdbd,#36c799,#35c79a,#06bbc1,#2798ea,#4465fd,#4743e7,#4433cc,#412cba,#3f29b0,#3e27aa,#3e26a8)"></i>
<i style="width:135px;background:linear-gradient(90deg,#473fe2,#473fe2,#473fe2,#473fe2,#473fe2,#473fe2,#473fe2,#473fe2,#473fe2,#473fe2,#473fe3,#4741e5,#4747eb,#4854f5,#3e70ff,#269ae9,#05bbc1,#3bc992,#41ca8d,#15bfb7,#269be8,#4465fd,#4742e6,#4332ca,#412cb9,#3f28af,#3e27aa,#3e26a8)"></i>
<i style="width:130px;background:linear-gradient(90deg,#473fe2,#473fe2,#473fe2,#473fe2,#473fe2,#473fe2,#473fe2,#473fe2,#473fe2,#473fe2,#4740e4,#4744e8,#484ef1,#4465fd,#2b91ef,#01b9c7,#40ca8d,#51cc7e,#24c2ae,#259de7,#4563fd,#473fe3,#4331c6,#402bb7,#3f28ae,#3e27a9,#3e26a8)"></i>
<i style="width:120px;background:linear-gradient(90deg,#473ee2,#473ee2,#473ee2,#473ee2,#473ee2,#473ee2,#473ee2,#473fe2,#473fe2,#473fe2,#4741e5,#4848ec,#475cfa,#2e86f7,#07b5d0,#41ca8c,#62cd70,#2ec4a4,#249ee6,#4660fc,#463cdf,#422fc3,#402ab4,#3e28ac,#3e26a8)"></i>
<i style="width:115px;background:linear-gradient(90deg,#473ee2,#473ee2,#473ee2,#473ee2,#473ee2,#473ee2,#473ee2,#473ee2,#473fe2,#4740e4,#4744e9,#4853f5,#3579fd,#17aeda,#3eca8f,#73cd62,#35c79a,#249ee6,#475dfa,#4639da,#422ebe,#3f29b2,#3e27aa,#3e26a8)"></i>
<i style="width:110px;background:linear-gradient(90deg,#473ee2,#473ee2,#473ee2,#473ee2,#473ee2,#473ee2,#473ee2,#473fe2,#473fe2,#4742e6,#484cf0,#416bfe,#20a5e3,#39c994,#84cc56,#3dc990,#259de7,#4758f8,#4536d4,#412cba,#3f28af,#3e27a9,#3e26a8)"></i>
<i style="width:100px;background:linear-gradient(90deg,#473ee2,#473ee2,#473ee2,#473ee2,#473ee2,#473ee2,#473ee2,#473fe2,#4740e4,#4746eb,#465ffb,#2698ea,#32c69e,#92ca4c,#48cb86,#259be8,#4852f4,#4433cd,#402bb7,#3e28ac,#3e26a8)"></i>
<i style="width:95px;background:linear-gradient(90deg,#473ee2,#473ee2,#473ee2,#473ee2,#473ee2,#473ee2,#473ee2,#473fe2,#4743e7,#4854f5,#2d8af5,#28c3ab,#9cc943,#55cc7b,#2798ea,#484cf0,#4331c6,#402ab3,#3e27aa,#3e26a8)"></i>
<i style="width:90px;background:linear-gradient(90deg,#473ee2,#473ee2,#473ee2,#473ee2,#473ee2,#473ee2,#473fe2,#4740e4,#484bef,#3578fd,#0ebdbb,#a3c83f,#64cd6f,#2995ec,#4746ea,#422fc1,#3f29b0,#3e27a9,#3e26a8)"></i>
<i style="width:80px;background:linear-gradient(90deg,#473ee2,#473ee2,#473ee2,#473ee2,#473ee2,#473ee2,#473fe2,#4745e9,#4466fd,#07b5cf,#a4c83e,#77cc60,#2b92ef,#4741e5,#412dbd,#3f28ae,#3e26a8)"></i>
<i style="width:80px;background:linear-gradient(90deg,#473ee2,#473ee2,#473ee2,#473ee2,#473ee2,#473ee2,#473fe3,#4746eb,#3e70ff,#10beba,#b8c431,#49cb85,#327cfc,#4639d9,#412cb8,#3e28ac,#3e26a8)"></i>
<i style="width:80px;background:linear-gradient(90deg,#473ee2,#473ee2,#473ee2,#473ee2,#473ee2,#473ee2,#473fe3,#4746eb,#3e70ff,#10beba,#b8c431,#49cb85,#327cfc,#4639d9,#412cb8,#3e28ac,#3e26a8)"></i>
<i style="width:80px;background:linear-gradient(90deg,#473ee2,#473ee2,#473ee2,#473ee2,#473ee2,#473ee2,#473fe3,#4746eb,#3e70ff,#10beba,#b8c431,#49cb85,#327cfc,#4639d9,#412cb8,#3e28ac,#3e26a8)"></i>
</div>
<svg class="ov" width="642" height="532.7" viewBox="0 0 642 532.7"><line x1="32.6" y1="532.7" x2="336.3" y2="0.0" stroke="#fff" stroke-width="3.6" stroke-dasharray="17.7 17.6" stroke-dashoffset="6"/></svg>
</div>
<div class="cb" style="left:768px;top:50px;background:linear-gradient(0deg,#3e26a8,#422ebf,#4536d5,#4741e5,#484cef,#4757f7,#4562fc,#3f6efe,#347afd,#2e85f8,#2c90f0,#269ae9,#21a3e3,#1aacdd,#0cb3d3,#01b9c6,#12beb9,#28c2ab,#34c79c,#44ca8a,#5ccc76,#77cc60,#94ca4a,#afc637,#c8c129,#debc2a,#f1ba37,#febe3c,#feca33,#f9d62d,#f5e327,#f6ef20,#f9fb15)"></div>
<div class="ctk" style="left:799px;top:581.9px"></div>
<div class="t cl" style="left:814px;top:583.8px">0</div>
<div class="ctk" style="left:799px;top:488.86px"></div>
<div class="t cl" style="left:814px;top:490.76px">0.1</div>
<div class="ctk" style="left:799px;top:395.82px"></div>
<div class="t cl" style="left:814px;top:397.72px">0.2</div>
<div class="ctk" style="left:799px;top:302.78px"></div>
<div class="t cl" style="left:814px;top:304.68px">0.3</div>
<div class="ctk" style="left:799px;top:209.74px"></div>
<div class="t cl" style="left:814px;top:211.64px">0.4</div>
<div class="ctk" style="left:799px;top:116.7px"></div>
<div class="t cl" style="left:814px;top:118.6px">0.5</div>
<div class="t xl" style="left:240.3px;top:615.5px">2</div>
<div class="t xl" style="left:375.3px;top:615.5px">4</div>
<div class="t xl" style="left:510.3px;top:615.5px">6</div>
<div class="t xl" style="left:645.3px;top:615.5px">8</div>
<div class="t yl" style="left:96.5px;top:525.511px">1</div>
<div class="t yl" style="left:96.5px;top:407.133px">2</div>
<div class="t yl" style="left:96.5px;top:288.756px">3</div>
<div class="t yl" style="left:96.5px;top:170.378px">4</div>
<div class="t yl" style="left:96.5px;top:52px">5</div>
<div class="t xlab" style="left:431px;top:658px">k<sub>x</sub>/2<span class="m pi">π</span><span class="gap"></span><span class="un">(1/<span class="m mu">μ</span>m)</span></div>
<div class="t ylab" style="left:53.5px;top:317px"><span class="m om">ω</span>/2<span class="m pi">π</span>/c<span class="gap"></span><span class="un">(1/<span class="m mu">μ</span>m)</span></div>
<div class="pl" style="left:-2px;top:43.75px">(a)</div>
<div class="plot" style="left:1033px;top:50px">
<div class="rows">
<i style="width:395px;background:linear-gradient(90deg,#01b8c8,#01b8c8,#01b8c8,#01b8c8,#01b8c8,#01b8c8,#01b8c8,#01b8c8,#01b8c8,#01b8c8,#01b8c8,#01b8c8,#01b8c8,#01b8c8,#01b8c8,#01b8c8,#01b8c8,#01b8c8,#01b8c8,#01b8c8,#01b9c8,#01b9c8,#01b9c8,#01b9c7,#01b9c7,#01b9c7,#01b9c7,#01b9c6,#01bac5,#02bac5,#02bac4,#02bbc3,#04bbc2,#06bcc0,#08bcbf,#0bbdbd,#0fbebb,#14beb8,#19bfb5,#1ec0b2,#24c1af,#28c2ab,#2bc3a8,#2ec4a4,#30c5a1,#32c69e,#34c79c,#36c799,#37c898,#38c896,#39c895,#39c895,#38c896,#37c898,#34c79b,#32c69f,#2fc5a3,#2bc3a8,#26c2ad,#1ec0b2,#16bfb7,#0ebdbb,#09bcbe,#08bcbf,#0bbdbd,#16bfb7,#25c2ae,#26c2ad,#0bbdbd,#0ab4d2,#1ea8e0,#259de7,#2d8bf4,#3a73fe,#475bf9,#4746ea,#4536d3,#412dbb,#3f28ad,#3e26a8)"></i>
<i style="width:395px;background:linear-gradient(90deg,#01b8c8,#01b8c8,#01b8c8,#01b8c8,#01b8c8,#01b8c8,#01b8c8,#01b8c8,#01b8c8,#01b8c8,#01b8c8,#01b8c8,#01b8c8,#01b8c8,#01b8c8,#01b8c8,#01b8c8,#01b8c8,#01b8c8,#01b8c8,#01b9c8,#01b9c8,#01b9c8,#01b9c7,#01b9c7,#01b9c7,#01b9c7,#01b9c6,#01bac5,#02bac5,#02bac4,#02bbc3,#04bbc2,#06bcc0,#08bcbf,#0bbdbd,#0fbebb,#14beb8,#19bfb5,#1ec0b2,#24c1af,#28c2ab,#2bc3a8,#2ec4a4,#30c5a1,#32c69e,#34c79c,#36c799,#37c898,#38c896,#39c895,#39c895,#38c896,#37c898,#34c79b,#32c69f,#2fc5a3,#2bc3a8,#26c2ad,#1ec0b2,#16bfb7,#0ebdbb,#09bcbe,#08bcbf,#0bbdbd,#16bfb7,#25c2ae,#26c2ad,#0bbdbd,#0ab4d2,#1ea8e0,#259de7,#2d8bf4,#3a73fe,#475bf9,#4746ea,#4536d3,#412dbb,#3f28ad,#3e26a8)"></i>
<i style="width:395px;background:linear-gradient(90deg,#01b8c8,#01b8c8,#01b8c8,#01b8c8,#01b8c8,#01b8c8,#01b8c8,#01b8c8,#01b8c8,#01b8c8,#01b8c8,#01b8c8,#01b8c8,#01b8c8,#01b8c8,#01b8c8,#01b8c8,#01b8c8,#01b8c8,#01b8c8,#01b9c8,#01b9c8,#01b9c8,#01b9c7,#01b9c7,#01b9c7,#01b9c7,#01b9c6,#01bac5,#02bac5,#02bac4,#02bbc3,#04bbc2,#06bcc0,#08bcbf,#0bbdbd,#0fbebb,#14beb8,#19bfb5,#1ec0b2,#24c1af,#28c2ab,#2bc3a8,#2ec4a4,#30c5a1,#32c69e,#34c79c,#36c799,#37c898,#38c896,#39c895,#39c895,#38c896,#37c898,#34c79b,#32c69f,#2fc5a3,#2bc3a8,#26c2ad,#1ec0b2,#16bfb7,#0ebdbb,#09bcbe,#08bcbf,#0bbdbd,#16bfb7,#25c2ae,#26c2ad,#0bbdbd,#0ab4d2,#1ea8e0,#259de7,#2d8bf4,#3a73fe,#475bf9,#4746ea,#4536d3,#412dbb,#3f28ad,#3e26a8)"></i>
<i style="width:395px;background:linear-gradient(90deg,#01b8c8,#01b8c8,#01b8c8,#01b8c8,#01b8c8,#01b8c8,#01b8c8,#01b8c8,#01b8c8,#01b8c8,#01b8c8,#01b8c8,#01b8c8,#01b8c8,#01b8c8,#01b8c8,#01b8c8,#01b8c8,#01b8c8,#01b9c8,#01b9c8,#01b9c8,#01b9c7,#01b9c7,#01b9c7,#01b9c7,#01b9c6,#01bac5,#02bac5,#02bac4,#02bbc3,#04bbc2,#06bcc0,#08bcbf,#0bbdbd,#0fbebb,#14beb8,#19bfb5,#1fc0b2,#24c1ae,#28c3ab,#2cc4a7,#2fc5a3,#31c69f,#34c79c,#36c799,#38c896,#3ac994,#3bc992,#3cc991,#3cc991,#3bc993,#38c896,#35c799,#32c69e,#2fc5a3,#2ac3a9,#24c1ae,#1bc0b4,#11beba,#08bcbf,#02bac3,#01b9c6,#01b9c7,#02bac3,#0bbdbd,#1cc0b3,#16bfb7,#01b9c7,#14b0d8,#20a4e3,#2798ea,#2e85f8,#406cfe,#4855f6,#4740e4,#4433cc,#402bb7,#3e27ab,#3e26a8)"></i>
<i style="width:390px;background:linear-gradient(90deg,#01b8c8,#01b8c8,#01b8c8,#01b8c8,#01b8c8,#01b8c8,#01b8c8,#01b8c8,#01b8c8,#01b8c8,#01b8c8,#01b8c8,#01b8c8,#01b8c8,#01b8c8,#01b8c8,#01b9c8,#01b9c8,#01b9c8,#01b9c8,#01b9c7,#01b9c7,#01b9c7,#01b9c6,#01b9c6,#01bac5,#02bac5,#02bac4,#03bbc3,#05bbc1,#07bcc0,#09bcbe,#0cbdbc,#11beba,#16bfb7,#1bc0b4,#20c1b1,#25c2ad,#2ac3a9,#2ec4a4,#31c6a0,#34c79b,#38c896,#3bc992,#3eca8f,#42ca8c,#44cb89,#44cb89,#42ca8b,#3eca8f,#3ac993,#35c799,#31c6a0,#2cc4a7,#24c2ae,#19bfb5,#0bbdbc,#02bac3,#01b8ca,#08b4d0,#11b1d6,#15afd9,#17aeda,#15afd9,#0eb2d4,#03b7cb,#01b9c6,#05b6ce,#14b0d8,#1ea7e1,#259ce7,#2d8bf4,#3a74fe,#475bfa,#4746eb,#4536d4,#412dbc,#3f28ae,#3e26a8)"></i>
<i style="width:390px;background:linear-gradient(90deg,#01b8c8,#01b8c8,#01b8c8,#01b8c8,#01b8c8,#01b8c8,#01b8c8,#01b8c8,#01b8c8,#01b8c8,#01b8c8,#01b8c8,#01b8c8,#01b9c8,#01b9c8,#01b9c8,#01b9c8,#01b9c7,#01b9c7,#01b9c7,#01b9c7,#01b9c6,#01b9c6,#01bac5,#02bac4,#02bac3,#03bbc2,#05bbc1,#07bcbf,#0abdbd,#0dbdbb,#12beb9,#17bfb6,#1cc0b3,#21c1b0,#26c2ac,#2bc3a8,#2fc5a3,#32c69e,#36c899,#3ac993,#3fca8e,#45cb89,#49cb86,#4acb85,#48cb86,#44cb8a,#3eca8f,#39c895,#33c79d,#2ec4a5,#26c2ad,#19bfb5,#09bdbe,#01b9c6,#06b5ce,#11b1d6,#19addc,#1da8e0,#21a3e3,#23a0e5,#249ee6,#249ee6,#22a2e4,#1da8e0,#16afd9,#14b0d8,#18addb,#1da8e0,#249fe5,#2b90f0,#327bfc,#4562fc,#484df0,#463bdc,#4230c4,#3f29b2,#3e27a9,#3e26a8)"></i>
<i style="width:385px;background:linear-gradient(90deg,#01b8c8,#01b8c8,#01b8c8,#01b8c8,#01b8c8,#01b8c8,#01b8c8,#01b8c8,#01b8c8,#01b8c8,#01b8c8,#01b9c8,#01b9c8,#01b9c8,#01b9c7,#01b9c7,#01b9c7,#01b9c7,#01b9c6,#01b9c6,#01bac5,#02bac5,#02bac4,#02bac3,#03bbc2,#05bbc1,#08bcbf,#0abdbd,#0ebdbb,#13beb9,#18bfb6,#1dc0b3,#22c1af,#27c2ac,#2bc3a8,#2fc5a3,#32c69e,#36c899,#3bc993,#41ca8d,#46cb88,#49cb86,#49cb86,#46cb88,#40ca8d,#3bc993,#35c79a,#2fc5a3,#27c2ab,#1ac0b4,#09bdbe,#01b9c7,#08b4d0,#15afd9,#1caadf,#21a3e3,#259de7,#2797eb,#2b91ef,#2d8df2,#2d8af4,#2d8bf4,#2c8ef1,#2896ec,#249fe6,#1fa5e2,#1da8e0,#1da8e0,#22a2e4,#2895ec,#2f82f9,#426afe,#4853f5,#4740e4,#4433cc,#402bb7,#3e27ab,#3e26a8)"></i>
<i style="width:380px;background:linear-gradient(90deg,#01b8c8,#01b8c8,#01b8c8,#01b8c8,#01b8c8,#01b8c8,#01b8c8,#01b8c8,#01b9c8,#01b9c8,#01b9c8,#01b9c8,#01b9c7,#01b9c7,#01b9c7,#01b9c7,#01b9c6,#01b9c6,#01bac5,#02bac5,#02bac4,#02bbc3,#04bbc2,#05bbc1,#08bcbf,#0abdbd,#0ebdbb,#13beb9,#18bfb6,#1dc0b3,#22c1af,#27c2ac,#2bc3a8,#2ec5a4,#32c69f,#35c79a,#39c994,#3dc990,#40ca8d,#41ca8c,#40ca8d,#3dca90,#39c994,#34c79b,#2fc5a3,#27c2ab,#1bc0b4,#09bcbe,#01b9c8,#09b4d1,#17aeda,#1ea8e0,#23a1e5,#2699e9,#2b92ee,#2d8bf4,#2e84f9,#317efb,#3678fd,#3975fe,#3975fe,#3579fd,#2f82fa,#2d8df2,#2798ea,#23a0e5,#1fa5e2,#21a4e3,#2699e9,#2d88f6,#3c71ff,#475af9,#4746ea,#4536d4,#412dbd,#3f28ae,#3e26a8)"></i>
<i style="width:380px;background:linear-gradient(90deg,#01b8c8,#01b8c8,#01b8c8,#01b8c8,#01b8c8,#01b8c8,#01b9c8,#01b9c8,#01b9c8,#01b9c8,#01b9c7,#01b9c7,#01b9c7,#01b9c6,#01b9c6,#01b9c6,#02bac5,#02bac4,#02bac4,#02bbc3,#04bbc2,#05bbc1,#07bcbf,#0abdbd,#0dbdbb,#12beb9,#17bfb6,#1cc0b3,#21c1b0,#26c2ac,#2ac3a9,#2ec4a4,#31c6a0,#34c79c,#35c799,#37c898,#37c897,#37c898,#36c799,#33c79d,#30c5a1,#2cc4a7,#25c2ae,#17bfb6,#07bcbf,#01b8c9,#0bb3d2,#18addb,#1ea7e1,#249fe5,#2797eb,#2c8ff1,#2e87f7,#307ffb,#3777fe,#3e6fff,#4369fe,#4564fd,#4561fc,#4561fc,#4465fd,#3f6efe,#327bfc,#2d89f5,#2797ea,#22a1e4,#20a4e3,#259de7,#2c8ef1,#3579fd,#4561fc,#484cf0,#463bdc,#4230c4,#4029b3,#3e27a9,#3e26a8)"></i>
<i style="width:375px;background:linear-gradient(90deg,#01b8c8,#01b8c8,#01b8c8,#01b8c8,#01b8c8,#01b9c8,#01b9c8,#01b9c8,#01b9c7,#01b9c7,#01b9c7,#01b9c6,#01b9c6,#01bac6,#02bac5,#02bac4,#02bac4,#03bbc3,#04bbc2,#06bcc1,#07bcbf,#09bdbe,#0cbdbc,#10beba,#15bfb7,#1ac0b4,#1fc1b1,#24c2ae,#29c3aa,#2cc4a6,#2fc5a3,#30c5a1,#31c6a0,#30c5a1,#2fc5a2,#2ec4a5,#2bc3a8,#27c2ab,#21c1b0,#18bfb6,#0bbdbc,#02bac4,#03b7cc,#0fb2d5,#1aacdd,#20a5e2,#249de6,#2895ec,#2d8df2,#2e85f8,#327cfc,#3b73fe,#416bfe,#4563fd,#465dfa,#4758f8,#4854f5,#4852f4,#4853f5,#4757f7,#4660fb,#406dfe,#317efb,#2c8ff1,#259ce7,#21a3e3,#239fe5,#2a93ee,#2f80fa,#4368fe,#4853f5,#4740e4,#4433cc,#402bb8,#3e27ac,#3e26a8)"></i>
<i style="width:375px;background:linear-gradient(90deg,#01b8c8,#01b8c8,#01b8c8,#01b8c8,#01b9c8,#01b9c8,#01b9c7,#01b9c7,#01b9c7,#01b9c7,#01b9c6,#01bac6,#02bac5,#02bac4,#02bac4,#03bbc3,#04bbc2,#06bbc1,#07bcbf,#09bcbe,#0bbdbc,#0fbeba,#13beb8,#18bfb6,#1dc0b3,#22c1b0,#26c2ad,#28c2ab,#29c3aa,#29c3a9,#29c3aa,#27c2ac,#24c1ae,#1ec0b2,#17bfb6,#0ebdbb,#05bbc1,#01b9c6,#04b6cd,#0db3d3,#17aeda,#1da9e0,#21a2e4,#259be8,#2a93ed,#2d8bf4,#2f83f9,#347afd,#3d71ff,#4368fe,#4561fc,#475af9,#4755f6,#4850f3,#484cf0,#4849ed,#4849ed,#484aee,#484ff2,#4758f8,#4464fd,#3975fe,#2e87f7,#2797ea,#22a1e4,#22a1e4,#2797ea,#2e86f7,#3d70ff,#475af9,#4746ea,#4537d5,#412ebe,#3f28af,#3e26a9,#3e26a8)"></i>
<i style="width:370px;background:linear-gradient(90deg,#01b8c8,#01b8c8,#01b8c8,#01b9c8,#01b9c8,#01b9c7,#01b9c7,#01b9c7,#01b9c6,#01b9c6,#01bac5,#02bac5,#02bac4,#02bbc3,#04bbc2,#05bbc1,#07bcc0,#09bcbe,#0bbdbd,#0ebdbb,#11beb9,#15bfb7,#19bfb5,#1cc0b3,#1dc0b2,#1ec0b2,#1dc0b3,#1bc0b4,#18bfb6,#13beb8,#0cbdbc,#06bcc0,#01bac5,#02b7cb,#08b4d1,#12b1d6,#19addc,#1da8e0,#21a3e3,#259de7,#2797eb,#2c90f0,#2d88f6,#3080fb,#3777fe,#3f6eff,#4366fd,#465ffb,#4759f8,#4854f5,#484ff2,#484bef,#4848ec,#4746ea,#4744e9,#4744e8,#4746ea,#484aee,#4852f4,#465dfa,#406dfe,#307ffb,#2b91ef,#249ee6,#22a2e4,#259be8,#2d8cf3,#3678fe,#4661fc,#484cf0,#463bdd,#4330c5,#402ab4,#3e27aa,#3e26a8)"></i>
<i style="width:365px;background:linear-gradient(90deg,#01b8c8,#01b8c8,#01b9c8,#01b9c8,#01b9c7,#01b9c7,#01b9c7,#01b9c6,#01b9c6,#02bac5,#02bac4,#02bac3,#03bbc2,#04bbc1,#06bcc0,#08bcbf,#0abdbd,#0cbdbc,#0fbeba,#11beba,#11beb9,#10beba,#0fbebb,#0cbdbc,#09bdbe,#06bcc0,#02bbc3,#01b9c7,#02b7cb,#07b5cf,#0eb2d4,#15afd9,#1babde,#1fa6e2,#23a1e4,#259be8,#2896ec,#2c8ff0,#2d89f5,#2f82f9,#337bfd,#3b73fe,#416bfe,#4464fd,#465efb,#4758f8,#4853f4,#484ef1,#484bee,#4848ec,#4746ea,#4744e8,#4742e6,#4741e5,#4741e5,#4742e6,#4745ea,#484cf0,#4757f7,#4465fd,#3777fe,#2d8af4,#269ae8,#22a2e4,#249ee6,#2b91ef,#307ffb,#4368fe,#4853f5,#4740e4,#4434ce,#412cb9,#3e28ad,#3e26a8)"></i>
<i style="width:365px;background:linear-gradient(90deg,#01b8c8,#01b8c8,#01b9c8,#01b9c8,#01b9c7,#01b9c7,#01b9c6,#01bac6,#02bac5,#02bac4,#02bbc3,#03bbc2,#05bbc1,#06bcc0,#07bcbf,#08bcbf,#08bcbf,#07bcbf,#05bbc1,#03bbc2,#02bac5,#01b9c7,#01b7ca,#05b6ce,#09b4d1,#10b2d5,#15afd9,#1aacdd,#1da8e0,#21a4e3,#249fe5,#269ae9,#2994ed,#2c8ef1,#2d88f6,#2f81fa,#337afd,#3a73fe,#406cfe,#4466fd,#4660fc,#475bf9,#4756f6,#4851f4,#484ef1,#484bee,#4848ec,#4746ea,#4744e8,#4742e6,#4741e4,#473fe3,#473ee1,#463ee1,#473fe2,#4742e6,#4847ec,#4851f3,#465efb,#3e6fff,#2e83f9,#2895ec,#23a0e5,#23a0e5,#2896ec,#2e85f8,#3e6fff,#475af9,#4746eb,#4537d6,#422ec0,#3f29b0,#3e27a9,#3e26a8)"></i>
<i style="width:360px;background:linear-gradient(90deg,#01b8c8,#01b8c8,#01b9c8,#01b9c7,#01b9c7,#01b9c6,#01b9c6,#01bac5,#02bac5,#02bac5,#02bac4,#02bac5,#01bac5,#01b9c6,#01b9c7,#01b8c9,#02b7cb,#05b6cd,#08b4d0,#0db3d4,#13b0d7,#18aedb,#1babde,#1ea7e1,#20a4e3,#23a0e5,#259be7,#2797eb,#2b92ef,#2d8cf3,#2e86f7,#3080fa,#3479fd,#3b72ff,#416cfe,#4465fd,#4660fb,#475bf9,#4756f7,#4852f4,#484ff2,#484cf0,#484aee,#4848ec,#4746ea,#4744e8,#4742e6,#4741e4,#473fe2,#463ee1,#463ddf,#463cde,#463cde,#463cdf,#473fe2,#4744e8,#484cf0,#4758f8,#4368fe,#327bfc,#2c8ff1,#259de7,#23a1e4,#269ae9,#2d8bf4,#3777fe,#4661fc,#484df0,#463cde,#4331c7,#402ab5,#3e27ab,#3e26a8)"></i>
<i style="width:355px;background:linear-gradient(90deg,#02b7cb,#02b7cb,#02b7cb,#02b7cb,#02b7cb,#03b7cb,#03b7cc,#04b6cc,#05b6cd,#06b6ce,#07b5d0,#09b4d1,#0cb3d3,#10b2d5,#13b0d7,#17aeda,#19acdc,#1caadf,#1ea7e1,#21a3e3,#249fe5,#259be8,#2797eb,#2a92ee,#2c8ef2,#2d88f6,#2e83f9,#317dfc,#3777fe,#3d71ff,#416bfe,#4465fd,#465ffb,#475af9,#4755f6,#4851f4,#484ef1,#484bef,#484aed,#4848ec,#4747eb,#4745e9,#4744e8,#4742e6,#4740e4,#473fe2,#463ee1,#463ddf,#463cde,#463bdc,#463adb,#463adb,#463bdc,#463cdf,#4741e4,#4848ec,#4853f5,#4562fc,#3a74fe,#2d89f6,#2699e9,#23a1e4,#259de7,#2b90ef,#307efb,#4368fe,#4853f5,#4741e5,#4434cf,#412dbb,#3f28ae,#3e26a8)"></i>
<i style="width:355px;background:linear-gradient(90deg,#12b1d7,#13b1d7,#13b0d7,#14b0d8,#14b0d8,#15afd9,#17aeda,#18addb,#19acdc,#1babde,#1ca9df,#1ea8e1,#1fa5e2,#21a3e3,#23a0e5,#249de6,#269ae9,#2796eb,#2a92ee,#2c8ef2,#2d89f5,#2e84f9,#307efb,#3579fd,#3a73fe,#3f6dfe,#4368fe,#4562fc,#465dfb,#4759f8,#4854f6,#4850f3,#484df0,#484aee,#4848ec,#4746eb,#4745ea,#4744e9,#4743e7,#4742e6,#4741e5,#4740e4,#473fe2,#463ee1,#463cdf,#463cde,#463bdc,#463adb,#4639da,#4639d9,#4639d9,#4639da,#463bdc,#473ee1,#4745e9,#484ff2,#475cfa,#406dfe,#2f82fa,#2994ed,#249fe5,#249fe5,#2895ec,#2e85f8,#3e70ff,#475af9,#4747ec,#4538d8,#422fc2,#3f29b2,#3e27aa,#3e26a8)"></i>
<i style="width:350px;background:linear-gradient(90deg,#21a3e3,#21a3e3,#21a3e4,#22a2e4,#22a1e4,#23a0e5,#249fe6,#249de6,#259ce7,#269ae9,#2797ea,#2995ec,#2b92ee,#2c8ff1,#2d8bf4,#2e87f7,#2e83f9,#307efb,#3479fd,#3a74fe,#3f6eff,#4269fe,#4564fd,#465ffb,#475af9,#4756f7,#4852f4,#484ef1,#484bef,#4848ec,#4746ea,#4744e8,#4744e8,#4743e7,#4742e6,#4741e5,#4740e4,#4740e3,#473fe2,#463ee1,#463de0,#463cdf,#463bde,#463bdc,#463adb,#4639da,#4639d9,#4539d8,#4538d8,#4538d8,#4539d8,#463ada,#463cdf,#4742e6,#484bee,#4757f7,#4367fd,#337bfd,#2c8ff1,#259ce7,#23a1e5,#2699e9,#2d8bf4,#3677fe,#4561fc,#484ef1,#463de0,#4332ca,#402bb7,#3e27ac,#3e26a8)"></i>
<i style="width:350px;background:linear-gradient(90deg,#2b90f0,#2c90f0,#2c8ff0,#2c8ef1,#2d8df2,#2d8cf3,#2d8af4,#2d88f6,#2e86f7,#2e83f9,#2f80fa,#317dfc,#347afd,#3876fe,#3c71ff,#406dfe,#4369fe,#4464fd,#4660fb,#475bf9,#4757f7,#4853f5,#484ff2,#484bef,#4848ec,#4746ea,#4743e7,#4742e6,#4741e5,#4741e5,#4740e4,#4740e3,#473fe3,#473fe2,#463ee1,#463de0,#463de0,#463cdf,#463cde,#463bdd,#463adc,#463adb,#4639da,#4639d9,#4539d9,#4538d8,#4538d7,#4538d7,#4538d7,#4538d8,#4639d9,#463bdd,#4740e3,#4747eb,#4853f5,#4562fc,#3a73fe,#2d89f6,#2699e9,#23a1e5,#259ce7,#2b90ef,#307ffb,#4269fe,#4755f6,#4743e7,#4535d2,#412dbd,#3f28af,#3e26a9,#3e26a8)"></i>
<i style="width:345px;background:linear-gradient(90deg,#3579fd,#3678fd,#3677fe,#3876fe,#3975fe,#3b73fe,#3d71ff,#3f6fff,#406cfe,#4269fe,#4466fd,#4563fd,#4660fc,#475dfa,#4759f9,#4756f6,#4852f4,#484ff2,#484cef,#4848ec,#4745e9,#4743e7,#4741e4,#473fe3,#473ee1,#463ee1,#463ee1,#463ee1,#463de0,#463de0,#463de0,#463cdf,#463cde,#463cde,#463bdd,#463bdd,#463bdc,#463adb,#463adb,#4639da,#4639d9,#4539d9,#4538d8,#4538d8,#4538d7,#4538d7,#4538d7,#4538d7,#4538d7,#4539d8,#463adb,#463ee1,#4745e9,#484ff2,#475dfa,#3f6dfe,#2f82f9,#2995ec,#239fe5,#249fe5,#2895ec,#2e85f8,#3d71ff,#475cfa,#4849ed,#463ada,#4230c4,#402ab4,#3e27aa,#3e26a8)"></i>
<i style="width:340px;background:linear-gradient(90deg,#4660fb,#465ffb,#465efb,#465dfb,#475cfa,#475bf9,#4759f8,#4757f7,#4755f6,#4853f5,#4851f3,#484ef1,#484cef,#4849ed,#4747eb,#4744e8,#4742e6,#4740e3,#473ee1,#463ddf,#463cde,#463cde,#463cde,#463cde,#463bde,#463bdd,#463bdd,#463bdd,#463bdd,#463bdc,#463adc,#463adb,#463adb,#463adb,#463ada,#4639da,#4639da,#4639d9,#4539d9,#4539d8,#4538d8,#4538d8,#4538d7,#4538d7,#4538d7,#4538d7,#4538d7,#4538d7,#4538d8,#463adb,#463ddf,#4742e6,#484bef,#4758f8,#4368fe,#327cfc,#2c8ff0,#249de7,#23a1e4,#2699e9,#2d8cf3,#3579fd,#4563fc,#4850f2,#473fe2,#4433cd,#412cb9,#3f28ad,#3e26a8)"></i>
<i style="width:340px;background:linear-gradient(90deg,#484bef,#484bee,#484aee,#4849ed,#4848ec,#4747eb,#4746ea,#4745e9,#4743e7,#4742e6,#4740e4,#473fe2,#463de0,#463cdf,#463bdd,#463adc,#463adb,#463adb,#463adb,#463adb,#463adb,#463adb,#463adb,#463ada,#463ada,#4639da,#4639da,#4639da,#4639d9,#4639d9,#4639d9,#4539d9,#4539d9,#4539d9,#4539d9,#4539d9,#4539d9,#4539d9,#4538d8,#4538d8,#4538d8,#4538d8,#4538d7,#4538d7,#4538d7,#4538d7,#4538d8,#4538d8,#463ada,#463cde,#4741e4,#4849ed,#4854f5,#4563fd,#3975fe,#2d8af5,#269ae9,#22a1e4,#259de7,#2b91ef,#3080fa,#416afe,#4756f7,#4745e9,#4537d5,#422fc0,#3f29b1,#3e27a9,#3e26a8)"></i>
<i style="width:335px;background:linear-gradient(90deg,#463cdf,#463cde,#463cde,#463bdd,#463bdd,#463adc,#463adb,#4639da,#4539d9,#4538d8,#4538d8,#4538d8,#4538d8,#4538d8,#4538d8,#4539d9,#4539d9,#4539d9,#4539d9,#4539d8,#4538d8,#4538d8,#4538d8,#4538d8,#4538d8,#4538d8,#4538d8,#4538d8,#4538d8,#4538d8,#4538d8,#4538d8,#4538d8,#4538d8,#4539d8,#4539d9,#4539d9,#4539d9,#4539d8,#4538d8,#4538d8,#4538d8,#4538d8,#4538d8,#4538d8,#4538d8,#4539d9,#463ada,#463bde,#473fe3,#4746ea,#4851f3,#465ffb,#3e6fff,#2e84f8,#2896eb,#23a0e5,#23a0e5,#2796eb,#2e87f7,#3b72fe,#465dfb,#484bef,#463bdd,#4331c8,#402bb6,#3e27ac,#3e26a8)"></i>
<i style="width:335px;background:linear-gradient(90deg,#4536d3,#4536d4,#4536d4,#4536d4,#4536d4,#4536d4,#4537d5,#4537d5,#4537d5,#4537d6,#4537d6,#4537d6,#4537d6,#4538d7,#4538d7,#4538d7,#4538d7,#4538d7,#4538d7,#4537d7,#4537d6,#4537d6,#4537d6,#4537d6,#4537d6,#4537d6,#4537d6,#4537d6,#4537d7,#4538d7,#4538d7,#4538d8,#4538d8,#4539d8,#4539d9,#4639d9,#4639d9,#4639d9,#4639d9,#4639d9,#4639d9,#4639d9,#4639da,#4639da,#463ada,#463adb,#463bdd,#463de0,#4740e4,#4747eb,#4850f3,#465dfa,#406dfe,#2f80fa,#2a93ee,#249fe5,#22a2e4,#269be8,#2d8df2,#337bfd,#4465fd,#4852f4,#4741e5,#4435d0,#412dbc,#3f28af,#3e26a9,#3e26a8)"></i>
<i style="width:330px;background:linear-gradient(90deg,#4536d3,#4536d3,#4536d3,#4536d3,#4536d4,#4536d4,#4536d4,#4536d4,#4537d5,#4537d5,#4537d5,#4537d5,#4537d5,#4537d5,#4537d6,#4537d6,#4537d6,#4537d5,#4537d5,#4537d5,#4537d5,#4537d5,#4537d5,#4537d5,#4537d5,#4537d5,#4537d6,#4537d6,#4537d6,#4538d7,#4538d7,#4538d8,#4539d9,#4639d9,#4639da,#463ada,#463adb,#463adb,#463adb,#463adb,#463adb,#463adc,#463bdc,#463bdd,#463cde,#463de0,#473fe3,#4743e7,#4848ec,#4851f3,#465dfa,#406dfe,#307efb,#2b90f0,#249de6,#21a3e3,#249ee6,#2a93ee,#2f82fa,#406dfe,#4759f8,#4747eb,#4539d8,#4230c3,#402ab4,#3e27ab,#3e26a8)"></i>
<i style="width:325px;background:linear-gradient(90deg,#4536d3,#4536d3,#4536d3,#4536d3,#4536d3,#4536d4,#4536d4,#4536d4,#4536d4,#4536d4,#4536d4,#4536d4,#4536d4,#4536d5,#4536d5,#4536d5,#4536d5,#4536d4,#4536d4,#4536d4,#4536d4,#4536d4,#4536d4,#4536d4,#4536d5,#4537d5,#4537d5,#4537d6,#4537d7,#4538d7,#4538d8,#4539d9,#4639da,#463ada,#463adb,#463bdc,#463bdd,#463bdd,#463bdd,#463bde,#463cde,#463cdf,#463de0,#473ee1,#4740e3,#4742e6,#4746ea,#484bef,#4853f5,#465ffb,#406dfe,#317efb,#2c8ff1,#259ce7,#21a3e3,#22a1e4,#2798ea,#2d89f5,#3975fe,#4660fb,#484df1,#463de0,#4433cb,#412cb9,#3f28ad,#3e26a8)"></i>
<i style="width:325px;background:linear-gradient(90deg,#4536d3,#4536d3,#4536d3,#4536d3,#4536d3,#4536d3,#4536d3,#4536d4,#4536d4,#4536d4,#4536d4,#4536d4,#4536d4,#4536d4,#4536d4,#4536d4,#4536d4,#4536d4,#4536d4,#4536d4,#4536d4,#4536d4,#4536d4,#4536d4,#4536d5,#4537d5,#4537d6,#4537d6,#4538d7,#4538d8,#4639d9,#463ada,#463adb,#463bdc,#463bdd,#463cde,#463cdf,#463ddf,#463de0,#463ee0,#473ee1,#473fe3,#4741e5,#4743e7,#4746ea,#4849ed,#484ff2,#4756f7,#4561fc,#3e6fff,#3080fb,#2c8ff1,#259be8,#21a3e4,#21a4e3,#259ce7,#2c8ff1,#317dfc,#4368fd,#4854f5,#4743e7,#4536d4,#422ec0,#3f29b1,#3e27aa,#3e26a8)"></i>
<i style="width:320px;background:linear-gradient(90deg,#4536d3,#4536d3,#4536d3,#4536d3,#4536d3,#4536d3,#4536d3,#4536d3,#4536d3,#4536d3,#4536d3,#4536d3,#4536d3,#4536d3,#4536d3,#4536d3,#4536d3,#4536d4,#4536d4,#4536d4,#4536d4,#4536d4,#4536d4,#4536d4,#4537d5,#4537d6,#4537d6,#4538d7,#4539d8,#4639da,#463adb,#463bdc,#463bdd,#463cdf,#463de0,#463ee1,#473ee1,#473fe2,#4740e3,#4741e4,#4742e6,#4744e8,#4746ea,#4849ed,#484ef1,#4853f5,#475af9,#4465fd,#3b72ff,#2f82fa,#2c90f0,#259be8,#21a3e4,#20a5e2,#23a0e5,#2995ec,#2e84f8,#3e6fff,#475bf9,#4849ed,#463bdc,#4331c7,#402bb6,#3e27ac,#3e26a8)"></i>
<i style="width:320px;background:linear-gradient(90deg,#4536d3,#4536d3,#4536d3,#4536d3,#4536d3,#4536d3,#4536d3,#4536d3,#4536d3,#4536d3,#4536d3,#4536d3,#4536d3,#4536d3,#4536d3,#4536d3,#4536d3,#4536d3,#4536d3,#4536d4,#4536d4,#4536d4,#4536d4,#4537d5,#4537d5,#4537d6,#4538d7,#4539d9,#4639da,#463adb,#463bdd,#463cde,#463de0,#463ee1,#473fe2,#4740e4,#4741e5,#4742e6,#4743e7,#4745e9,#4747eb,#484aee,#484ef1,#4852f4,#4758f8,#465ffb,#4269fe,#3876fe,#2e85f8,#2b92ee,#259ce7,#21a3e3,#1fa6e2,#21a3e3,#269ae9,#2d8bf4,#3678fe,#4563fc,#4850f3,#4740e3,#4434cf,#412dbc,#3f29b0,#3e27a9,#3e26a8)"></i>
<i style="width:315px;background:linear-gradient(90deg,#4536d3,#4536d3,#4536d3,#4536d3,#4536d3,#4536d3,#4536d3,#4536d3,#4536d3,#4536d3,#4536d3,#4536d3,#4536d3,#4536d3,#4536d3,#4536d3,#4536d3,#4536d3,#4536d4,#4536d4,#4536d4,#4536d4,#4537d5,#4537d5,#4537d6,#4538d7,#4539d9,#463ada,#463adc,#463bde,#463ddf,#463ee1,#473fe2,#4740e4,#4741e6,#4743e7,#4745e9,#4746ea,#4848ec,#484bef,#484ef1,#4853f5,#4758f8,#465efb,#4466fd,#3e6fff,#327cfc,#2d89f6,#2895ec,#249fe6,#20a4e3,#1ea7e1,#1fa6e2,#249ee6,#2b91ef,#3080fb,#426afe,#4757f7,#4746ea,#4538d8,#4230c3,#402ab4,#3e27ab,#3e26a8)"></i>
<i style="width:315px;background:linear-gradient(90deg,#4536d3,#4536d3,#4536d3,#4536d3,#4536d3,#4536d3,#4536d3,#4536d3,#4536d3,#4536d3,#4536d3,#4536d3,#4536d3,#4536d3,#4536d3,#4536d3,#4536d3,#4536d4,#4536d4,#4536d4,#4536d4,#4537d5,#4537d6,#4537d6,#4538d7,#4539d9,#463ada,#463bdc,#463cde,#463de0,#473fe2,#4740e4,#4742e6,#4743e7,#4745e9,#4747eb,#484aed,#484cf0,#484ff2,#4853f5,#4758f8,#465efb,#4465fd,#3f6dfe,#3677fe,#2e83f9,#2c8ef1,#269ae9,#21a3e4,#1fa6e1,#1da8e0,#1ea7e1,#22a2e4,#2797eb,#2e87f7,#3b72fe,#465efb,#484cf0,#463de0,#4433cb,#412cba,#3f28ae,#3e26a9,#3e26a8)"></i>
<i style="width:310px;background:linear-gradient(90deg,#4536d3,#4536d3,#4536d3,#4536d3,#4536d3,#4536d3,#4536d3,#4536d3,#4536d3,#4536d3,#4536d3,#4536d3,#4536d3,#4536d3,#4536d3,#4536d4,#4536d4,#4536d4,#4536d4,#4536d5,#4537d5,#4537d6,#4537d6,#4538d7,#4539d9,#463adb,#463bdd,#463cdf,#463ee1,#473fe3,#4741e5,#4743e7,#4745e9,#4747eb,#484aee,#484df0,#4850f3,#4854f6,#4759f8,#465ffb,#4466fd,#3f6efe,#3777fe,#2f81fa,#2d8bf4,#2895ec,#239fe5,#1ea8e0,#1caadf,#1caadf,#1da9e0,#20a5e2,#259ce7,#2d8df2,#337bfd,#4465fd,#4853f5,#4742e6,#4536d3,#422ec0,#3f29b2,#3e27aa,#3e26a8)"></i>
<i style="width:305px;background:linear-gradient(90deg,#4536d3,#4536d3,#4536d3,#4536d3,#4536d3,#4536d3,#4536d3,#4536d3,#4536d4,#4536d4,#4536d4,#4536d4,#4536d4,#4536d4,#4536d4,#4536d4,#4536d4,#4536d4,#4537d5,#4537d5,#4537d6,#4538d7,#4538d8,#4539d9,#463adb,#463bdd,#463ddf,#473ee2,#4740e4,#4742e6,#4744e8,#4747eb,#484aed,#484df0,#4850f3,#4755f6,#475af9,#4660fb,#4367fd,#3f6fff,#3678fd,#2f81fa,#2d8bf4,#2994ed,#259de7,#1fa6e2,#19addc,#17aeda,#19acdc,#1baade,#1ea8e1,#23a0e5,#2993ed,#2f82f9,#3f6dfe,#475af9,#4848ec,#463adb,#4331c7,#402bb7,#3e28ad,#3e26a8)"></i>
<i style="width:305px;background:linear-gradient(90deg,#4536d4,#4536d4,#4536d4,#4536d4,#4536d4,#4536d4,#4536d4,#4536d4,#4536d4,#4536d4,#4536d4,#4536d4,#4536d4,#4536d4,#4536d4,#4536d4,#4537d5,#4537d5,#4537d6,#4537d6,#4538d7,#4538d8,#4639da,#463adb,#463bdd,#463de0,#473fe2,#4741e5,#4743e7,#4746ea,#4849ed,#484cef,#4850f2,#4854f5,#4759f8,#465ffb,#4367fd,#3e6fff,#3579fd,#2f82f9,#2d8cf3,#2995ec,#259de7,#20a5e2,#19acdc,#12b1d6,#0eb2d4,#15afd9,#19acdc,#1caadf,#20a4e3,#2699e9,#2d8af5,#3876fe,#4561fc,#484ff2,#473fe3,#4434cf,#412dbd,#3f29b0,#3e27a9,#3e26a8)"></i>
<i style="width:300px;background:linear-gradient(90deg,#4536d4,#4536d4,#4536d4,#4536d4,#4536d4,#4536d4,#4536d4,#4536d4,#4536d4,#4536d5,#4536d5,#4536d5,#4537d5,#4537d5,#4537d5,#4537d5,#4537d6,#4537d6,#4538d7,#4538d8,#4539d9,#463ada,#463adc,#463cde,#463de0,#473fe3,#4742e6,#4744e8,#4747eb,#484aee,#484ef1,#4853f4,#4758f8,#465dfb,#4465fd,#3f6eff,#3578fd,#2f82f9,#2d8cf3,#2896ec,#249ee6,#1fa6e2,#19addc,#0eb2d4,#06b5cf,#04b6cd,#0db3d3,#16afd9,#19acdc,#1da8e0,#249fe5,#2b91ef,#307ffb,#426afe,#4757f7,#4746ea,#4538d8,#4230c4,#402ab5,#3e27ab,#3e26a8)"></i>
<i style="width:300px;background:linear-gradient(90deg,#4537d5,#4537d5,#4537d5,#4537d5,#4537d5,#4537d5,#4537d5,#4537d5,#4537d5,#4537d5,#4537d5,#4537d6,#4537d6,#4537d6,#4537d6,#4537d6,#4538d7,#4538d8,#4539d9,#4639da,#463adb,#463bdd,#463cdf,#463ee1,#4740e3,#4742e6,#4745e9,#4849ed,#484cf0,#4850f3,#4755f6,#475bf9,#4562fc,#416bfe,#3975fe,#2f80fa,#2d8bf3,#2896ec,#249fe5,#1ea8e1,#16afda,#0ab4d2,#01b8ca,#01b9c6,#01b9c6,#04b6cd,#10b2d5,#16afd9,#19acdc,#20a5e2,#2699e9,#2d88f6,#3a73fe,#465ffb,#484df0,#463ee1,#4433cd,#412dbb,#3f28af,#3e27a9,#3e26a8)"></i>
<i style="width:295px;background:linear-gradient(90deg,#4537d6,#4537d6,#4537d6,#4537d6,#4537d6,#4537d6,#4537d6,#4537d6,#4537d6,#4537d7,#4538d7,#4538d7,#4538d7,#4538d7,#4538d7,#4538d8,#4539d9,#4639da,#463adb,#463bdc,#463cde,#463de0,#473fe2,#4740e4,#4743e7,#4746ea,#484aee,#484ef1,#4853f4,#4758f8,#465ffb,#4367fd,#3d71ff,#327cfc,#2d88f6,#2994ed,#249fe6,#1da8e0,#13b0d7,#05b6ce,#02bac5,#09bcbe,#0bbdbd,#08bcbf,#01b9c6,#07b5d0,#10b2d5,#14b0d8,#1babde,#23a0e5,#2b91ef,#317efb,#4368fe,#4755f6,#4744e9,#4537d7,#422fc3,#402ab4,#3e27ab,#3e26a8)"></i>
<i style="width:295px;background:linear-gradient(90deg,#4538d8,#4538d8,#4538d8,#4538d8,#4538d8,#4538d8,#4538d8,#4538d8,#4538d8,#4538d8,#4538d8,#4539d9,#4539d9,#4539d9,#4639d9,#4639da,#463adb,#463bdc,#463cde,#463de0,#473ee2,#4740e4,#4742e6,#4744e8,#4747eb,#484bef,#4850f2,#4755f6,#475bfa,#4563fc,#406cfe,#3677fe,#2e83f9,#2c90f0,#259ce7,#1ea7e1,#12b1d6,#01b8ca,#08bcbf,#17bfb6,#20c1b1,#1fc1b1,#16bfb7,#09bdbe,#01b8ca,#08b4d1,#0db3d3,#14b0d8,#1ea7e1,#2699e9,#2d88f6,#3b72fe,#465efb,#484cf0,#463de0,#4433cc,#412cba,#3f28ae,#3e26a9,#3e26a8)"></i>
<i style="width:290px;background:linear-gradient(90deg,#4639da,#4639da,#4639da,#4639da,#4639da,#463ada,#463ada,#463ada,#463adb,#463adb,#463adb,#463adb,#463adb,#463adc,#463bdc,#463bdd,#463cde,#463de0,#473ee2,#4740e4,#4742e6,#4744e8,#4746ea,#4849ed,#484df1,#4852f4,#4758f8,#465ffb,#4368fd,#3c72ff,#317efb,#2d8bf4,#2798ea,#20a4e3,#14b0d8,#01b8c9,#0fbeba,#24c1ae,#2dc4a6,#31c5a1,#2ec5a4,#26c2ac,#19bfb5,#04bbc2,#02b7cb,#05b6ce,#0ab4d2,#18aedb,#22a2e4,#2b91ef,#317efb,#4368fd,#4854f6,#4744e8,#4537d6,#422fc1,#402ab3,#3e27aa,#3e26a8)"></i>
<i style="width:285px;background:linear-gradient(90deg,#463bdd,#463bdd,#463bdd,#463bde,#463bde,#463cde,#463cde,#463cde,#463cde,#463cde,#463cdf,#463cdf,#463ddf,#463ddf,#463de0,#463ee1,#473fe2,#4741e4,#4742e6,#4744e9,#4747eb,#4849ed,#484cf0,#4850f3,#4755f6,#475cfa,#4564fd,#406dfe,#3579fd,#2e85f8,#2a92ee,#239fe5,#19acdc,#04b6cd,#0fbeba,#29c3aa,#34c79b,#3cc991,#41ca8c,#3bc992,#32c69f,#27c2ac,#14beb8,#02bac4,#01b8c8,#02b7cb,#0db3d3,#1ca9df,#269be8,#2d88f6,#3b72fe,#465efb,#484cef,#463cdf,#4332ca,#412cb9,#3f28ad,#3e26a8)"></i>
<i style="width:285px;background:linear-gradient(90deg,#473ee2,#473ee2,#473ee2,#473fe2,#473fe2,#473fe2,#473fe2,#473fe2,#473fe3,#473fe3,#4740e3,#4740e3,#4740e4,#4740e4,#4741e5,#4742e6,#4744e8,#4745ea,#4848ec,#484aee,#484df1,#4851f3,#4755f6,#475af9,#4660fc,#4269fe,#3a73fe,#3080fa,#2d8df2,#269ae9,#1ea7e1,#0bb3d2,#08bcbf,#28c3aa,#38c897,#4acb84,#5acc77,#60cd72,#55cc7b,#40ca8d,#32c69f,#27c2ac,#0fbeba,#04bbc1,#02bac5,#02b7cb,#13b0d7,#21a3e3,#2a92ee,#317efb,#4368fd,#4854f5,#4743e8,#4536d5,#422fc0,#3f29b2,#3e27a9,#3e26a8)"></i>
<i style="width:280px;background:linear-gradient(90deg,#4743e7,#4743e7,#4743e7,#4743e7,#4743e7,#4743e8,#4744e8,#4744e8,#4744e8,#4744e8,#4745e9,#4745e9,#4745e9,#4746ea,#4746eb,#4848ec,#484aee,#484cf0,#484ff2,#4852f4,#4756f7,#475af9,#465ffb,#4466fd,#3e6fff,#337bfd,#2e87f7,#2994ed,#22a2e4,#15afd9,#01bac5,#23c1af,#37c898,#50cc7f,#6bcd69,#7fcc5a,#86cb55,#78cc5f,#5ccc76,#3fca8e,#32c69e,#24c1ae,#12beb9,#09bcbe,#02bbc3,#05b6ce,#1aabdd,#259ce7,#2d89f5,#3b73fe,#465dfb,#484bef,#463cde,#4332c9,#402bb8,#3e27ac,#3e26a8)"></i>
<i style="width:280px;background:linear-gradient(90deg,#484aed,#484aed,#484aed,#484aee,#484aee,#484aee,#484aee,#484bee,#484bef,#484bef,#484cef,#484cf0,#484df0,#484df0,#484ef1,#4850f2,#4852f4,#4755f6,#4759f8,#465dfa,#4562fc,#4367fd,#3f6eff,#3677fe,#2f83f9,#2c8ff1,#259ce7,#1caadf,#05b6ce,#15bfb7,#32c69f,#4dcc82,#71cd64,#90ca4d,#a3c83e,#abc739,#9ec942,#7ecc5a,#5acc78,#3fca8e,#32c69f,#24c2ae,#18bfb6,#0dbdbb,#02bac5,#0eb2d4,#20a5e2,#2a93ed,#317efb,#4368fd,#4854f5,#4743e7,#4536d4,#422ebf,#3f29b0,#3e27a9,#3e26a8)"></i>
<i style="width:275px;background:linear-gradient(90deg,#4852f4,#4852f4,#4852f4,#4853f4,#4853f5,#4853f5,#4853f5,#4854f5,#4854f5,#4854f6,#4755f6,#4755f6,#4756f7,#4757f7,#4758f8,#475af9,#475dfa,#4661fc,#4465fd,#416bfe,#3c71ff,#3579fd,#2f81fa,#2d8bf3,#2797ea,#20a4e3,#11b1d6,#06bbc1,#2bc3a8,#42ca8b,#6bcd69,#94ca4a,#b2c534,#c4c22b,#cbc129,#c0c32d,#a2c83f,#79cc5e,#57cc7a,#40ca8d,#30c5a2,#24c2ae,#18bfb6,#0abdbd,#02b7cb,#19acdc,#259ce7,#2d89f5,#3b72fe,#465dfa,#484bef,#463cde,#4332c8,#402bb7,#3e27ab,#3e26a8)"></i>
<i style="width:275px;background:linear-gradient(90deg,#465efb,#465efb,#465efb,#465efb,#465efb,#465efb,#465ffb,#465ffb,#4660fb,#4660fc,#4661fc,#4561fc,#4562fc,#4563fc,#4464fd,#4367fd,#416bfe,#3e70ff,#3876fe,#317dfc,#2e84f8,#2d8df3,#2896ec,#23a1e5,#19addc,#01b8c9,#1ec0b2,#38c896,#5fcd73,#8ecb4e,#b6c532,#d2bf27,#e1bc2b,#e7bb2d,#debd29,#c4c22b,#9cc943,#73cd62,#58cc79,#3bc992,#2dc4a6,#1ec0b2,#11beba,#02bac5,#11b2d5,#21a4e3,#2b92ee,#317dfc,#4367fd,#4853f5,#4743e7,#4536d3,#422ebe,#3f29b0,#3e26a9,#3e26a8)"></i>
<i style="width:270px;background:linear-gradient(90deg,#406cfe,#406dfe,#406dfe,#406dfe,#406dfe,#3f6efe,#3f6eff,#3f6eff,#3e6fff,#3e70ff,#3d70ff,#3c71ff,#3b72ff,#3a73fe,#3975fe,#3578fd,#317dfc,#2e83f9,#2d89f5,#2b90ef,#2698ea,#22a1e4,#1babde,#07b5d0,#0ebebb,#30c5a2,#4fcc81,#80cc59,#b0c636,#d3bf27,#ebba31,#f8ba3d,#fbbc3d,#f6ba3b,#e1bc2b,#bfc32e,#96ca48,#73cd62,#52cc7e,#34c79b,#25c2ae,#12beb9,#04bbc1,#07b5d0,#1caadf,#2699e9,#2e86f7,#3d71ff,#475cfa,#484bee,#463bdd,#4331c8,#402bb6,#3e27ab,#3e26a8)"></i>
<i style="width:270px;background:linear-gradient(90deg,#307ffb,#307ffb,#3080fb,#3080fa,#2f80fa,#2f81fa,#2f81fa,#2f82fa,#2f82f9,#2e83f9,#2e83f9,#2e84f8,#2e85f8,#2e86f7,#2d88f6,#2d8cf3,#2b90ef,#2796eb,#249de6,#20a5e2,#19addc,#07b5d0,#07bcc0,#28c2ab,#3eca8f,#6acd6a,#9ec943,#cac129,#e9bb30,#fbbc3d,#fec438,#fec835,#fec437,#f8ba3d,#ddbd29,#b8c431,#95ca4a,#73cd63,#44cb8a,#2cc4a7,#14beb8,#07bcc0,#03b7cb,#17aeda,#23a0e5,#2c8ff1,#327bfc,#4466fd,#4853f5,#4743e7,#4536d3,#412ebe,#3f28af,#3e26a9,#3e26a8)"></i>
<i style="width:265px;background:linear-gradient(90deg,#2a93ee,#2a93ee,#2a93ed,#2a93ed,#2994ed,#2994ed,#2994ed,#2895ec,#2896ec,#2896eb,#2797eb,#2798ea,#2699e9,#269ae9,#259ce7,#249fe5,#20a4e3,#1baadf,#13b1d7,#03b7cc,#09bcbe,#25c2ad,#36c898,#56cc7b,#85cb55,#b5c533,#dcbd29,#f7ba3c,#fec437,#fdce31,#fbd22f,#fcd030,#fec537,#f3ba39,#d5be28,#b5c533,#98c947,#62cd70,#34c79b,#1abfb5,#07bcc0,#01b8c8,#11b2d5,#1fa6e2,#2797eb,#2e85f8,#3d70ff,#475cfa,#484bef,#463cde,#4332c8,#402bb6,#3e27ab,#3e26a8)"></i>
<i style="width:265px;background:linear-gradient(90deg,#1fa6e1,#1ea6e1,#1ea7e1,#1ea7e1,#1ea7e1,#1ea7e1,#1da8e0,#1da8e0,#1da9e0,#1caadf,#1baade,#1babde,#1aacdd,#19addc,#16afd9,#0fb2d5,#05b6ce,#02bac4,#13beb8,#29c3aa,#36c898,#4ecc81,#72cd64,#9ec942,#c7c129,#e8bb2f,#febd3c,#feca33,#fad42e,#f8d92b,#f8d92c,#fccf30,#fec03a,#ecba32,#d1bf27,#b7c532,#8ccb50,#47cb87,#25c2ad,#07bcbf,#01bac5,#08b5d0,#1aabdd,#249ee6,#2c8ef1,#327cfc,#4367fd,#4755f6,#4744e8,#4537d5,#422ebf,#3f29b0,#3e26a9,#3e26a8)"></i>
<i style="width:260px;background:linear-gradient(90deg,#02b7cb,#02b7cb,#02b7cb,#01b7ca,#01b8ca,#01b8c9,#01b8c9,#01b8c8,#01b9c7,#01b9c6,#01bac5,#02bac4,#03bbc2,#06bcc0,#0bbdbd,#17bfb6,#25c2ae,#30c5a2,#3bc992,#52cc7e,#6fcd66,#93ca4b,#b6c532,#d7be28,#f2ba38,#fec239,#fccf31,#f8d82c,#f6de29,#f6df29,#f9d82c,#fdcb33,#fcbc3d,#e8bb2e,#d2bf27,#b5c533,#6dcd68,#32c69f,#0ebebb,#04bbc2,#01b7ca,#12b1d7,#1fa6e2,#2798ea,#2e87f7,#3a73fe,#465ffb,#484ef1,#463ee1,#4433cb,#402bb7,#3e27ab,#3e26a8)"></i>
<i style="width:260px;background:linear-gradient(90deg,#27c2ab,#28c2ab,#28c2ab,#28c3ab,#29c3aa,#29c3a9,#2ac3a9,#2bc3a8,#2cc4a7,#2dc4a6,#2ec4a5,#2fc5a3,#30c5a1,#32c69e,#35c79a,#3cc991,#49cb85,#5ecc74,#77cc60,#95ca4a,#b2c535,#cec028,#e7bb2e,#fabb3d,#fec735,#fbd32f,#f7dc2a,#f5e228,#f5e427,#f6df29,#fad42e,#fec736,#fabb3d,#e8bb2f,#d6be28,#9ec942,#4bcb84,#25c2ae,#10beba,#06bcc0,#02b7cb,#15afd9,#21a3e3,#2994ed,#2f82fa,#406dfe,#4759f9,#4848ec,#4539d9,#422fc2,#3f29b1,#3e26a9,#3e26a8)"></i>
<i style="width:255px;background:linear-gradient(90deg,#4acb84,#4acb84,#4acb84,#4bcb84,#4ccb83,#4dcb82,#4ecc81,#4fcc80,#51cc7f,#52cc7e,#55cc7c,#57cc7a,#5bcc77,#5fcd73,#67cd6c,#75cc61,#88cb53,#9ec942,#b6c532,#cec028,#e3bc2c,#f4ba3a,#fec13a,#fdcc32,#f9d62d,#f6df29,#f5e526,#f5e725,#f5e526,#f7dd2a,#fcd12f,#fec437,#fabb3d,#eeba34,#cec028,#84cc56,#3eca8f,#2cc4a7,#27c2ab,#19bfb6,#02bac5,#12b1d6,#21a4e3,#2a93ee,#307ffb,#4368fe,#4755f6,#4743e7,#4435d1,#412cbb,#3e28ac,#3e26a8)"></i>
<i style="width:255px;background:linear-gradient(90deg,#83cc57,#83cc57,#84cc56,#84cc56,#85cb55,#86cb55,#87cb54,#88cb53,#8acb52,#8ccb50,#8ecb4e,#91ca4c,#95ca49,#9bc945,#a3c83f,#b0c636,#c0c32d,#d2bf27,#e3bc2c,#f2ba38,#febd3c,#fec735,#fcd030,#f8da2b,#f5e128,#f5e725,#f5e924,#f5e924,#f5e327,#f8d92c,#fdcd31,#fec338,#fbbc3d,#ecba33,#b8c431,#6ecd67,#40ca8d,#3ac993,#33c79d,#27c2ac,#08bcbf,#0eb2d4,#21a3e3,#2b91ef,#337bfc,#4564fd,#4850f2,#463ee1,#4332c8,#402ab4,#3e27a9,#3e26a8)"></i>
<i style="width:250px;background:linear-gradient(90deg,#b9c430,#b9c430,#bac430,#bac430,#bbc430,#bbc42f,#bcc42f,#bdc32e,#bfc32e,#c0c32d,#c2c22c,#c5c22a,#c8c129,#ccc028,#d3bf27,#dcbd29,#e7bb2e,#f3ba38,#fcbd3d,#fec438,#fdcc32,#fbd32e,#f8da2b,#f6e128,#f5e526,#f5e825,#f5e825,#f5e526,#f7dd2a,#fad42e,#fdca33,#fec338,#fcbd3d,#debd2a,#a3c83f,#6acd6a,#5acc77,#51cc7e,#3eca8f,#2ec4a4,#0ebdbb,#0db3d3,#22a2e4,#2c8ef1,#3776fe,#465efb,#484aee,#4639d9,#422fc0,#3f28ae,#3e26a8)"></i>
<i style="width:250px;background:linear-gradient(90deg,#e3bc2c,#e3bc2c,#e3bc2c,#e3bb2c,#e4bb2c,#e4bb2c,#e5bb2d,#e6bb2d,#e6bb2d,#e7bb2e,#e9bb2f,#eaba31,#edba33,#efba35,#f4ba39,#f9bb3d,#febe3c,#fec438,#feca33,#fcd030,#fad62d,#f7db2b,#f6df29,#f5e327,#f5e526,#f5e626,#f5e427,#f6df29,#f9d82c,#fcd030,#fec934,#fec438,#f7ba3c,#cdc028,#9ac946,#7dcc5b,#7acc5e,#67cd6c,#4acb84,#31c69f,#10beba,#0fb2d4,#23a0e5,#2d8af5,#3d70ff,#4759f8,#4744e8,#4435d0,#412cb8,#3e27aa,#3e26a8)"></i>
<i style="width:245px;background:linear-gradient(90deg,#fdbd3d,#fdbd3d,#fdbd3d,#febd3c,#febd3c,#febe3c,#febe3c,#febe3c,#febf3c,#febf3b,#fec03b,#fec13a,#fec239,#fec338,#fec636,#fec934,#fdcd32,#fbd22f,#f9d62d,#f8da2b,#f6de29,#f6e028,#f5e227,#f5e327,#f5e427,#f5e327,#f6df29,#f8da2b,#fad52e,#fccf30,#feca33,#fec339,#ebba31,#c2c22c,#a1c840,#9dc943,#92ca4b,#77cc60,#51cc7e,#32c69f,#0bbdbc,#14b0d8,#259be7,#2e84f9,#4269fe,#4852f4,#463ee1,#4331c7,#3f29b2,#3e26a8)"></i>
<i style="width:245px;background:linear-gradient(90deg,#fdce31,#fdce31,#fdce31,#fdce31,#fdce31,#fdce31,#fdce31,#fccf31,#fccf30,#fccf30,#fcd030,#fcd12f,#fbd22f,#fbd32e,#fad52e,#f9d72c,#f8da2b,#f6de29,#f6e128,#f5e327,#f5e426,#f5e526,#f5e526,#f5e526,#f5e427,#f5e128,#f6dd29,#f8d92c,#fad42e,#fcd030,#fdcc32,#fdbd3d,#dfbc2a,#bfc32d,#b5c533,#b2c635,#9fc941,#7ccc5c,#50cc80,#2fc5a3,#03bbc2,#1aabdd,#2895ec,#327cfc,#4561fc,#484aee,#4538d8,#412dbd,#3e28ac,#3e26a8)"></i>
<i style="width:245px;background:linear-gradient(90deg,#f7dd2a,#f7dd2a,#f7dd2a,#f7dd2a,#f7dd2a,#f7dd2a,#f7dd2a,#f6dd29,#f6de29,#f6de29,#f6de29,#f6df29,#f6e028,#f6e028,#f5e228,#f5e327,#f5e526,#f5e725,#f5e924,#f5ea24,#f5ea24,#f5e924,#f5e825,#f5e625,#f5e427,#f6e128,#f7dd2a,#f8d92b,#fad62d,#fbd22f,#fec835,#f5ba3a,#d9bd28,#cac129,#cac129,#c0c32d,#a6c83d,#7ccc5c,#4acb85,#29c3aa,#01b8ca,#20a5e2,#2d8df2,#3c72ff,#4758f8,#4743e7,#4433cc,#402ab5,#3e27a9,#3e26a8)"></i>
<i style="width:240px;background:linear-gradient(90deg,#f5e825,#f5e825,#f5e825,#f5e825,#f5e924,#f5e924,#f5e924,#f5e924,#f5e924,#f5e924,#f5e924,#f5ea24,#f5ea23,#f5eb23,#f5eb23,#f5ec22,#f5ed21,#f5ef21,#f6ef20,#f6ef20,#f5ee21,#f5ec22,#f5ea23,#f5e825,#f5e526,#f6e128,#f7dd2a,#f8da2b,#f9d72c,#fcd12f,#fec239,#efba35,#dfbc2a,#ddbd29,#dabd28,#c9c129,#a8c73b,#76cc61,#40ca8d,#1ec0b2,#0db3d3,#249de6,#2e84f9,#4367fd,#484ff2,#463bdd,#422fc1,#3f28ae,#3e26a8)"></i>
<i style="width:240px;background:linear-gradient(90deg,#f6f11f,#f6f11f,#f6f11f,#f6f11f,#f6f11f,#f6f11f,#f6f11f,#f6f11f,#f6f11f,#f6f11e,#f6f11e,#f6f11e,#f6f21e,#f6f21e,#f6f21d,#f7f31d,#f7f31d,#f7f41c,#f7f41c,#f7f31d,#f6f11e,#f5ef20,#f5ec22,#f5e924,#f5e526,#f5e128,#f6de29,#f7db2a,#f9d82c,#fdcc32,#febe3c,#f1ba37,#edba33,#edba33,#e4bb2c,#ccc028,#a3c83f,#69cd6b,#36c899,#09bcbe,#1aacdd,#2a93ed,#3678fe,#475cfa,#4745e9,#4434cf,#402bb6,#3e27a9,#3e26a8)"></i>
<i style="width:235px;background:linear-gradient(90deg,#f8f61a,#f8f61a,#f8f61a,#f8f61a,#f8f61a,#f8f61a,#f8f61a,#f8f61a,#f8f61a,#f8f61a,#f8f619,#f8f619,#f8f719,#f8f719,#f8f719,#f8f719,#f8f719,#f8f718,#f8f719,#f7f61a,#f7f31d,#f6f01f,#f5ed22,#f5e924,#f5e526,#f5e228,#f6de29,#f7dc2a,#fad42e,#fec835,#fdbd3d,#f9bb3d,#f9bb3d,#f5ba3b,#e6bb2d,#c6c22a,#94ca4a,#55cc7c,#2bc3a8,#03b6cc,#22a1e4,#2e87f7,#4269fe,#4850f3,#463bdd,#422fc0,#3f28ad,#3e26a8)"></i>
<i style="width:235px;background:linear-gradient(90deg,#f9f916,#f9f916,#f9f916,#f9f916,#f9f916,#f9f916,#f9f916,#f9f916,#f9f916,#f9f916,#f9f916,#f9f916,#f9f916,#f9f916,#f9fa16,#f9fa16,#f9fa16,#f9fa16,#f9f917,#f8f719,#f7f51b,#f6f11e,#f5ee21,#f5e924,#f5e526,#f5e228,#f6df29,#f8da2b,#fcd030,#fec537,#febf3b,#febf3b,#febe3c,#f6ba3c,#dfbc2a,#b6c532,#79cc5e,#3cc992,#0fbeba,#19addc,#2994ed,#3777fe,#475bf9,#4743e7,#4433cc,#402ab4,#3e26a9,#3e26a8)"></i>
<i style="width:230px;background:linear-gradient(90deg,#f9fb15,#f9fb15,#f9fb15,#f9fb15,#f9fb15,#f9fb15,#f9fb15,#f9fb15,#f9fb15,#f9fb15,#f9fb15,#f9fb15,#f9fb15,#f9fb15,#f9fb15,#f9fb15,#f9fb15,#f9fb15,#f9fa15,#f8f818,#f7f51b,#f6f21e,#f5ee21,#f5e924,#f5e526,#f5e228,#f6de29,#fad62d,#fdcb32,#fec437,#fec338,#fec338,#febe3c,#efba35,#cec028,#97ca47,#54cc7c,#28c3ab,#07b5d0,#249ee6,#2f82f9,#4464fd,#484bef,#4537d7,#412cba,#3e27aa,#3e26a8)"></i>
<i style="width:225px;background:linear-gradient(90deg,#f9fb15,#f9fb15,#f9fb15,#f9fb15,#f9fb15,#f9fb15,#f9fb15,#f9fb15,#f9fb15,#f9fb15,#f9fb15,#f9fb15,#f9fb15,#f9fb15,#f9fb15,#f9fb15,#f9fb15,#f9fb15,#f9fa15,#f8f817,#f7f51b,#f6f21e,#f5ee21,#f5ea24,#f5e626,#f5e228,#f8da2b,#fcd030,#fec735,#fec437,#fec437,#fec239,#f9bb3d,#dfbc2a,#b0c636,#6ecd67,#35c79b,#02bbc3,#1ea7e1,#2d8cf3,#3f6dfe,#4852f4,#463cdf,#422fc1,#3f28ad,#3e26a8)"></i>
<i style="width:220px;background:linear-gradient(90deg,#f9fa15,#f9fa15,#f9fa15,#f9fa15,#f9fa15,#f9fa15,#f9fa15,#f9fa15,#f9fa15,#f9fa15,#f9fa15,#f9fa15,#f9fa15,#f9fa15,#f9fa15,#f9fa15,#f9fa15,#f9fa15,#f9fa16,#f8f818,#f7f51b,#f6f11e,#f5ed21,#f5e924,#f5e526,#f6df29,#fbd42e,#feca33,#fec537,#fec437,#fec437,#febe3c,#edba33,#c7c12a,#8bcb51,#46cb88,#19bfb5,#16afd9,#2995ec,#3777fe,#4759f9,#4741e6,#4331c8,#3f29b1,#3e26a8)"></i>
<i style="width:215px;background:linear-gradient(90deg,#f8f917,#f8f917,#f8f917,#f8f917,#f8f917,#f8f917,#f8f917,#f8f917,#f8f917,#f8f917,#f8f917,#f8f917,#f8f917,#f8f917,#f8f917,#f8f917,#f8f917,#f8f917,#f8f818,#f8f61a,#f7f31d,#f6f020,#f5ec22,#f5e825,#f5e227,#f9d72c,#fdcc32,#fec636,#fec437,#fec437,#fec239,#f8ba3d,#dbbd29,#a8c73b,#60cd72,#2dc4a6,#05b6ce,#249de6,#3080fb,#4660fc,#4746eb,#4434ce,#402ab4,#3e26a8)"></i>
<i style="width:215px;background:linear-gradient(90deg,#f7f51b,#f7f51b,#f7f51b,#f7f51b,#f7f51b,#f7f51b,#f7f51b,#f7f51b,#f7f51b,#f7f51b,#f7f51b,#f7f51b,#f7f51b,#f7f51b,#f7f51b,#f7f51b,#f7f51b,#f7f51b,#f7f41c,#f6f21d,#f6f020,#f5ec22,#f5e825,#f5e427,#f8da2b,#fccf30,#fec735,#fec437,#fec437,#fec437,#febf3c,#ecba32,#c2c22c,#7fcc5a,#3ac994,#05bbc1,#1fa6e2,#2d88f6,#4367fd,#484bef,#4536d3,#402bb6,#3e26a9,#3e26a8)"></i>
<i style="width:210px;background:linear-gradient(90deg,#f6ef20,#f6ef20,#f6ef20,#f6ef20,#f6ef20,#f6ef20,#f6ef20,#f6ef20,#f6ef20,#f6ef20,#f6ef20,#f6ef20,#f6ef20,#f6ef20,#f6ef20,#f6ef20,#f6ef20,#f6ef20,#f5ee21,#f5ec22,#f5ea24,#f5e626,#f5e228,#f7db2b,#fcd030,#fec835,#fec437,#fec437,#fec437,#fec338,#f8ba3d,#d8be28,#9ec942,#50cc7f,#1dc0b3,#18addb,#2c8ff0,#406dfe,#484ff2,#4538d7,#402bb7,#3e26a9,#3e26a8)"></i>
<i style="width:205px;background:linear-gradient(90deg,#f5e626,#f5e626,#f5e626,#f5e626,#f5e626,#f5e626,#f5e626,#f5e626,#f5e626,#f5e626,#f5e626,#f5e626,#f5e626,#f5e626,#f5e626,#f5e626,#f5e626,#f5e626,#f5e526,#f5e327,#f6e128,#f7dd2a,#f9d82c,#fccf30,#fec834,#fec537,#fec437,#fec437,#fec437,#febf3c,#eabb30,#b9c430,#6bcd69,#2dc4a5,#0bb3d2,#2796eb,#3b73fe,#4852f4,#4539d9,#402bb8,#3e26a9,#3e26a8)"></i>
<i style="width:195px;background:linear-gradient(90deg,#f8da2b,#f8da2b,#f8da2b,#f8da2b,#f8da2b,#f8da2b,#f8da2b,#f8da2b,#f8da2b,#f8da2b,#f8da2b,#f8da2b,#f8da2b,#f8da2b,#f8da2b,#f8da2b,#f8da2b,#f8da2b,#f8d92b,#f9d72c,#fad42e,#fcd12f,#fdcb33,#fec736,#fec537,#fec437,#fec437,#fec437,#fec338,#f6ba3b,#cfc028,#87cb54,#38c896,#01b8c9,#259ce7,#3678fe,#4854f6,#4639da,#402bb7,#3e26a8)"></i>
<i style="width:190px;background:linear-gradient(90deg,#fdcb33,#fdcb33,#fdcb33,#fdcb33,#fdcb33,#fdcb33,#fdcb33,#fdcb33,#fdcb33,#fdcb33,#fdcb33,#fdcb33,#fdcb33,#fdcb33,#fdcb33,#fdcb33,#fdcb33,#fdcb33,#feca33,#fec834,#fec636,#fec338,#fec239,#fec339,#fec437,#fec437,#fec437,#fec437,#fdbd3d,#dfbc2a,#9ec942,#46cb88,#06bcc0,#23a0e5,#327bfc,#4756f6,#4639da,#402bb6,#3e26a8)"></i>
<i style="width:185px;background:linear-gradient(90deg,#fabb3d,#fabb3d,#fabb3d,#fabb3d,#fabb3d,#fabb3d,#fabb3d,#fabb3d,#fabb3d,#fabb3d,#fabb3d,#fabb3d,#fabb3d,#fabb3d,#fabb3d,#fabb3d,#fabb3d,#fabb3d,#fabb3d,#f8ba3d,#f6ba3b,#f9bb3d,#febe3c,#fec338,#fec437,#fec437,#fec437,#fec03b,#e9bb30,#afc637,#54cc7d,#10beba,#21a3e3,#317dfc,#4756f6,#4538d8,#402ab4,#3e26a8)"></i>
<i style="width:180px;background:linear-gradient(90deg,#debd29,#debd29,#debd29,#debd29,#debd29,#debd29,#debd29,#debd29,#debd29,#debd29,#debd29,#debd29,#debd29,#debd29,#debd29,#debd29,#debd29,#debd29,#ddbd29,#dbbd29,#e4bb2c,#f4ba3a,#fec03b,#fec338,#fec338,#fec338,#fec13a,#eeba34,#b7c532,#5bcc77,#15bfb7,#20a4e3,#327cfc,#4854f5,#4537d5,#3f29b1,#3e26a8)"></i>
<i style="width:175px;background:linear-gradient(90deg,#b3c534,#b3c534,#b3c534,#b3c534,#b3c534,#b3c534,#b3c534,#b3c534,#b3c534,#b3c534,#b3c534,#b3c534,#b3c534,#b3c534,#b3c534,#b3c534,#b3c534,#b3c534,#b2c535,#bfc32d,#ddbd29,#f9ba3d,#fec239,#fec239,#fec239,#fec13a,#f1ba36,#bcc42f,#5fcd73,#17bfb6,#21a4e3,#337bfd,#4852f4,#4435d1,#3f28ae,#3e26a8)"></i>
<i style="width:170px;background:linear-gradient(90deg,#7ecc5b,#7ecc5b,#7ecc5b,#7ecc5b,#7ecc5b,#7ecc5b,#7ecc5b,#7ecc5b,#7ecc5b,#7ecc5b,#7ecc5b,#7ecc5b,#7ecc5b,#7ecc5b,#7ecc5b,#7ecc5b,#7ecc5b,#7ecc5b,#88cb53,#b6c532,#e6bb2d,#febe3c,#fec03b,#fec03b,#fec03b,#f1ba37,#bec32e,#60cd72,#17bfb6,#21a3e4,#3579fd,#484ff2,#4433cc,#3e27ac,#3e26a8)"></i>
<i style="width:165px;background:linear-gradient(90deg,#49cb85,#49cb85,#49cb85,#49cb85,#49cb85,#49cb85,#49cb85,#49cb85,#49cb85,#49cb85,#49cb85,#49cb85,#49cb85,#49cb85,#49cb85,#49cb85,#49cb85,#4dcb82,#7bcc5d,#c5c22a,#f5ba3a,#febd3c,#febd3c,#febd3c,#f1ba37,#bfc32d,#61cd71,#16bfb7,#22a1e4,#3876fe,#484cf0,#4331c8,#3e27aa,#3e26a8)"></i>
<i style="width:160px;background:linear-gradient(90deg,#2cc4a7,#2cc4a7,#2cc4a7,#2cc4a7,#2cc4a7,#2cc4a7,#2cc4a7,#2cc4a7,#2cc4a7,#2cc4a7,#2cc4a7,#2cc4a7,#2cc4a7,#2cc4a7,#2cc4a7,#2cc4a7,#2cc4a7,#3eca8f,#91ca4c,#e0bc2b,#fbbc3d,#fbbc3d,#fbbc3d,#f0ba36,#bfc32d,#60cd72,#13beb8,#23a0e5,#3b73fe,#4849ed,#4230c3,#3e26a9,#3e26a8)"></i>
<i style="width:150px;background:linear-gradient(90deg,#04bbc2,#04bbc2,#04bbc2,#04bbc2,#04bbc2,#04bbc2,#04bbc2,#04bbc2,#04bbc2,#04bbc2,#04bbc2,#04bbc2,#04bbc2,#04bbc2,#04bbc2,#04bbc2,#17bfb6,#4fcc80,#bcc42f,#f3ba39,#f8ba3d,#f8ba3d,#eeba34,#bec32e,#5fcd73,#11beba,#249ee6,#3d70ff,#4747eb,#422ebf,#3e26a8)"></i>
<i style="width:145px;background:linear-gradient(90deg,#15afd8,#15afd8,#15afd8,#15afd8,#15afd8,#15afd8,#15afd8,#15afd8,#15afd8,#15afd8,#15afd8,#15afd8,#15afd8,#15afd8,#15afd8,#10b2d5,#25c2ad,#81cc58,#e0bc2a,#f1ba37,#f1ba37,#eabb30,#bbc42f,#5ccc75,#0cbdbc,#259ce7,#406dfe,#4743e8,#412cba,#3e26a8)"></i>
<i style="width:140px;background:linear-gradient(90deg,#23a1e4,#23a1e4,#23a1e4,#23a1e4,#23a1e4,#23a1e4,#23a1e4,#23a1e4,#23a1e4,#23a1e4,#23a1e4,#23a1e4,#23a1e4,#23a1e4,#23a1e4,#0bb3d2,#3dc990,#b5c533,#e3bb2c,#e3bb2c,#ddbd29,#aec637,#52cc7e,#05bbc1,#2698ea,#4368fe,#4740e4,#402bb6,#3e26a8)"></i>
<i style="width:135px;background:linear-gradient(90deg,#2b92ee,#2b92ee,#2b92ee,#2b92ee,#2b92ee,#2b92ee,#2b92ee,#2b92ee,#2b92ee,#2b92ee,#2b92ee,#2b92ee,#2b92ee,#2b92ee,#249ee6,#0bbdbd,#6fcd66,#c7c12a,#ccc028,#c8c129,#99c946,#42ca8b,#01b8c9,#2a93ed,#4563fc,#463cdf,#3f29b2,#3e26a8)"></i>
<i style="width:130px;background:linear-gradient(90deg,#2e84f9,#2e84f9,#2e84f9,#2e84f9,#2e84f9,#2e84f9,#2e84f9,#2e84f9,#2e84f9,#2e84f9,#2e84f9,#2e84f9,#2e84f9,#2d88f6,#1baade,#33c69d,#93ca4b,#abc739,#a9c73a,#7dcc5b,#35c79a,#0ab4d2,#2d8df2,#465dfa,#4538d8,#3f28af,#3e26a8)"></i>
<i style="width:125px;background:linear-gradient(90deg,#3876fe,#3876fe,#3876fe,#3876fe,#3876fe,#3876fe,#3876fe,#3876fe,#3876fe,#3876fe,#3876fe,#3876fe,#3776fe,#2b92ee,#01b9c6,#52cc7e,#85cb55,#85cb56,#5fcd73,#2bc3a8,#17aeda,#2e86f8,#4757f7,#4435d1,#3e27ac,#3e26a8)"></i>
<i style="width:120px;background:linear-gradient(90deg,#426afe,#426afe,#426afe,#426afe,#426afe,#426afe,#426afe,#426afe,#426afe,#426afe,#426afe,#426afe,#337bfd,#1fa6e2,#29c3a9,#5dcc75,#61cd72,#45cb89,#1abfb5,#1ea7e1,#317efb,#4851f3,#4332c9,#3e27a9,#3e26a8)"></i>
<i style="width:110px;background:linear-gradient(90deg,#4661fc,#4661fc,#4661fc,#4661fc,#4661fc,#4661fc,#4661fc,#4661fc,#4661fc,#4661fc,#4661fc,#4367fd,#2c8ff1,#02b7cb,#38c896,#45cb89,#36c799,#06bcc0,#23a1e4,#3876fe,#484bee,#422fc1,#3e26a8)"></i>
<i style="width:105px;background:linear-gradient(90deg,#475af9,#475af9,#475af9,#475af9,#475af9,#475af9,#475af9,#475af9,#475af9,#475af9,#475af9,#3578fd,#1ea7e1,#21c1b0,#36c898,#2ec4a5,#01b8c9,#259be8,#3f6eff,#4744e9,#412cba,#3e26a8)"></i>
<i style="width:100px;background:linear-gradient(90deg,#4854f5,#4854f5,#4854f5,#4854f5,#4854f5,#4854f5,#4854f5,#4854f5,#4854f5,#4854f5,#4464fd,#2a93ee,#01b8c9,#2dc4a5,#24c1ae,#09b4d1,#2994ed,#4466fd,#463ee1,#402ab3,#3e26a8)"></i>
<i style="width:95px;background:linear-gradient(90deg,#4850f3,#4850f3,#4850f3,#4850f3,#4850f3,#4850f3,#4850f3,#4850f3,#4850f3,#4757f7,#317efb,#1babde,#18bfb6,#15bfb8,#15afd8,#2d8df2,#465efb,#4538d7,#3e28ac,#3e26a8)"></i>
<i style="width:90px;background:linear-gradient(90deg,#484df0,#484df0,#484df0,#484df0,#484df0,#484df0,#484df0,#484df0,#484ef1,#416afe,#2699e9,#01b8c9,#06bbc1,#1caadf,#2e84f9,#4755f6,#4332ca,#3e26a9,#3e26a8)"></i>
<i style="width:80px;background:linear-gradient(90deg,#484bef,#484bef,#484bef,#484bef,#484bef,#484bef,#484bef,#484bef,#475bfa,#2d87f7,#18aedb,#01b8ca,#21a2e4,#3479fd,#484bee,#412dbd,#3e26a8)"></i>
<i style="width:75px;background:linear-gradient(90deg,#4849ed,#4849ed,#4849ed,#4849ed,#4849ed,#4849ed,#4849ed,#4851f3,#3975fe,#23a0e5,#11b1d6,#269ae8,#406dfe,#4740e3,#3f29b1,#3e26a8)"></i>
<i style="width:70px;background:linear-gradient(90deg,#4848ec,#4848ec,#4848ec,#4848ec,#4848ec,#4848ec,#484aee,#4465fd,#2b91ef,#1ea7e1,#2b91ef,#465ffb,#4536d3,#3e27a9,#3e26a8)"></i>
<i style="width:65px;background:linear-gradient(90deg,#4848ec,#4848ec,#4848ec,#4848ec,#4848ec,#4848ec,#484cef,#426afe,#2895ec,#20a4e3,#2e86f8,#4853f5,#4230c3,#3e26a8)"></i>
<i style="width:65px;background:linear-gradient(90deg,#4848ec,#4848ec,#4848ec,#4848ec,#4848ec,#4848ec,#484cef,#426afe,#2895ec,#20a4e3,#2e86f8,#4853f5,#4230c3,#3e26a8)"></i>
<i style="width:65px;background:linear-gradient(90deg,#4848ec,#4848ec,#4848ec,#4848ec,#4848ec,#4848ec,#484cef,#426afe,#2895ec,#20a4e3,#2e86f8,#4853f5,#4230c3,#3e26a8)"></i>
</div>
<svg class="ov" width="642" height="532.7" viewBox="0 0 642 532.7"><line x1="32.6" y1="532.7" x2="336.3" y2="0.0" stroke="#fff" stroke-width="3.6" stroke-dasharray="17.7 17.6" stroke-dashoffset="6"/></svg>
</div>
<div class="cb" style="left:1693px;top:50px;background:linear-gradient(0deg,#3e26a8,#422ebf,#4536d5,#4741e5,#484cef,#4757f7,#4562fc,#3f6efe,#347afd,#2e85f8,#2c90f0,#269ae9,#21a3e3,#1aacdd,#0cb3d3,#01b9c6,#12beb9,#28c2ab,#34c79c,#44ca8a,#5ccc76,#77cc60,#94ca4a,#afc637,#c8c129,#debc2a,#f1ba37,#febe3c,#feca33,#f9d62d,#f5e327,#f6ef20,#f9fb15)"></div>
<div class="ctk" style="left:1724px;top:501.8px"></div>
<div class="t cl" style="left:1739px;top:503.7px">0.1</div>
<div class="ctk" style="left:1724px;top:420.26px"></div>
<div class="t cl" style="left:1739px;top:422.16px">0.2</div>
<div class="ctk" style="left:1724px;top:338.72px"></div>
<div class="t cl" style="left:1739px;top:340.62px">0.3</div>
<div class="ctk" style="left:1724px;top:257.18px"></div>
<div class="t cl" style="left:1739px;top:259.08px">0.4</div>
<div class="ctk" style="left:1724px;top:175.64px"></div>
<div class="t cl" style="left:1739px;top:177.54px">0.5</div>
<div class="ctk" style="left:1724px;top:94.1px"></div>
<div class="t cl" style="left:1739px;top:96px">0.6</div>
<div class="t xl" style="left:1165.3px;top:615.5px">2</div>
<div class="t xl" style="left:1300.3px;top:615.5px">4</div>
<div class="t xl" style="left:1435.3px;top:615.5px">6</div>
<div class="t xl" style="left:1570.3px;top:615.5px">8</div>
<div class="t yl" style="left:1021.5px;top:525.511px">1</div>
<div class="t yl" style="left:1021.5px;top:407.133px">2</div>
<div class="t yl" style="left:1021.5px;top:288.756px">3</div>
<div class="t yl" style="left:1021.5px;top:170.378px">4</div>
<div class="t yl" style="left:1021.5px;top:52px">5</div>
<div class="t xlab" style="left:1356px;top:658px">k<sub>x</sub>/2<span class="m pi">π</span><span class="gap"></span><span class="un">(1/<span class="m mu">μ</span>m)</span></div>
<div class="t ylab" style="left:978.5px;top:317px"><span class="m om">ω</span>/2<span class="m pi">π</span>/c<span class="gap"></span><span class="un">(1/<span class="m mu">μ</span>m)</span></div>
<div class="pl" style="left:914.6px;top:39px">(b)</div>
<div class="plot" style="left:108px;top:797px">
<div class="rows">
<i style="width:425px;background:linear-gradient(90deg,#422fc2,#422fc2,#4230c3,#4230c3,#4230c4,#4330c5,#4330c5,#4331c6,#4331c7,#4331c8,#4332c9,#4332cb,#4433cc,#4433cd,#4434cf,#4435d0,#4435d2,#4536d3,#4537d5,#4537d7,#4538d8,#4639da,#463adb,#463bdd,#463cde,#463ddf,#463ee1,#473fe2,#4740e3,#4741e4,#4742e6,#4743e7,#4744e8,#4745e9,#4747eb,#4849ec,#484bee,#484df0,#4850f2,#4853f5,#4756f7,#475af9,#465efb,#4563fd,#4368fe,#3f6dfe,#3a73fe,#3579fd,#317efb,#2e83f9,#2d87f7,#2d8bf3,#2c8ff0,#2a93ee,#2797eb,#259be8,#23a0e5,#1fa6e2,#19addc,#07b5d0,#08bcbf,#2ac3a8,#44cb89,#7acc5d,#b8c431,#e9bb30,#fec636,#f7dd2a,#f5ee21,#f8f818,#f9fb15,#f7f51b,#f5e526,#fdcd32,#edba33,#a5c83d,#3bc992,#08b4d1,#2b91ef,#426afe,#484cf0,#4538d8,#422ebf,#3f29b1,#3e27aa,#3e26a8)"></i>
<i style="width:425px;background:linear-gradient(90deg,#422fc2,#422fc2,#4230c3,#4230c3,#4230c4,#4330c5,#4330c5,#4331c6,#4331c7,#4331c8,#4332c9,#4332cb,#4433cc,#4433cd,#4434cf,#4435d0,#4435d2,#4536d3,#4537d5,#4537d7,#4538d8,#4639da,#463adb,#463bdd,#463cde,#463ddf,#463ee1,#473fe2,#4740e3,#4741e4,#4742e6,#4743e7,#4744e8,#4745e9,#4747eb,#4849ec,#484bee,#484df0,#4850f2,#4853f5,#4756f7,#475af9,#465efb,#4563fd,#4368fe,#3f6dfe,#3a73fe,#3579fd,#317efb,#2e83f9,#2d87f7,#2d8bf3,#2c8ff0,#2a93ee,#2797eb,#259be8,#23a0e5,#1fa6e2,#19addc,#07b5d0,#08bcbf,#2ac3a8,#44cb89,#7acc5d,#b8c431,#e9bb30,#fec636,#f7dd2a,#f5ee21,#f8f818,#f9fb15,#f7f51b,#f5e526,#fdcd32,#edba33,#a5c83d,#3bc992,#08b4d1,#2b91ef,#426afe,#484cf0,#4538d8,#422ebf,#3f29b1,#3e27aa,#3e26a8)"></i>
<i style="width:425px;background:linear-gradient(90deg,#422fc2,#422fc2,#4230c3,#4230c3,#4230c4,#4330c5,#4330c5,#4331c6,#4331c7,#4331c8,#4332c9,#4332cb,#4433cc,#4433cd,#4434cf,#4435d0,#4435d2,#4536d3,#4537d5,#4537d7,#4538d8,#4639da,#463adb,#463bdd,#463cde,#463ddf,#463ee1,#473fe2,#4740e3,#4741e4,#4742e6,#4743e7,#4744e8,#4745e9,#4747eb,#4849ec,#484bee,#484df0,#4850f2,#4853f5,#4756f7,#475af9,#465efb,#4563fd,#4368fe,#3f6dfe,#3a73fe,#3579fd,#317efb,#2e83f9,#2d87f7,#2d8bf3,#2c8ff0,#2a93ee,#2797eb,#259be8,#23a0e5,#1fa6e2,#19addc,#07b5d0,#08bcbf,#2ac3a8,#44cb89,#7acc5d,#b8c431,#e9bb30,#fec636,#f7dd2a,#f5ee21,#f8f818,#f9fb15,#f7f51b,#f5e526,#fdcd32,#edba33,#a5c83d,#3bc992,#08b4d1,#2b91ef,#426afe,#484cf0,#4538d8,#422ebf,#3f29b1,#3e27aa,#3e26a8)"></i>
<i style="width:425px;background:linear-gradient(90deg,#422fc2,#422fc2,#4230c3,#4230c3,#4230c4,#4330c5,#4331c6,#4331c7,#4331c8,#4332c9,#4332ca,#4433cb,#4433cd,#4434ce,#4434d0,#4435d1,#4536d3,#4537d5,#4537d6,#4538d8,#4639da,#463adb,#463bdd,#463cde,#463de0,#463ee1,#473fe2,#4740e4,#4741e5,#4742e6,#4743e7,#4744e8,#4745ea,#4747eb,#4848ec,#484aee,#484cf0,#484ff1,#4851f3,#4854f5,#4758f8,#475cfa,#4660fb,#4465fd,#426afe,#3e6fff,#3975fe,#337bfd,#3080fa,#2e85f8,#2d89f5,#2d8df2,#2b91ef,#2895ec,#2699e9,#249ee6,#21a3e3,#1ca9df,#13b1d7,#01b8c9,#17bfb7,#32c69e,#56cc7b,#91ca4c,#cbc129,#f6ba3c,#fdce31,#f5e327,#f6f21e,#f9fa16,#f9fa16,#f6f01f,#f6de29,#fec338,#d9be28,#7fcc5a,#29c3aa,#1caadf,#2e84f8,#465ffb,#4745e9,#4434cf,#412cba,#3f28ae,#3e27a9,#3e26a8)"></i>
<i style="width:420px;background:linear-gradient(90deg,#422fc2,#4230c3,#4230c3,#4230c4,#4330c5,#4331c6,#4331c7,#4331c8,#4332c9,#4332ca,#4433cc,#4433cd,#4434cf,#4435d0,#4535d2,#4536d4,#4537d6,#4538d8,#4639da,#463adc,#463bdd,#463ddf,#463ee1,#473fe2,#4740e4,#4741e5,#4742e7,#4744e8,#4745e9,#4746ea,#4747eb,#4848ec,#4849ed,#484bee,#484cf0,#484ef1,#4850f3,#4852f4,#4755f6,#4758f8,#475bf9,#465ffb,#4563fd,#4368fe,#406dfe,#3b73fe,#3578fd,#317efb,#2e83f9,#2d88f6,#2d8cf3,#2b91ef,#2895ec,#2699e9,#249ee6,#21a3e3,#1ca9df,#13b0d7,#02b7cb,#12beb9,#30c5a2,#4ecc81,#86cb54,#c1c32c,#f0ba36,#feca33,#f6e028,#f6f01f,#f9f917,#f9fa15,#f6f21d,#f6e128,#fec636,#dfbc2a,#8fcb4e,#31c6a0,#14b0d8,#2d8bf4,#4465fd,#4849ed,#4537d5,#412ebe,#3f29b1,#3e27aa,#3e26a8)"></i>
<i style="width:420px;background:linear-gradient(90deg,#422fc2,#4230c3,#4230c4,#4330c4,#4330c5,#4331c6,#4331c7,#4332c9,#4332ca,#4433cc,#4433cd,#4434cf,#4435d1,#4536d3,#4537d5,#4538d7,#4539d9,#463adb,#463bdd,#463cdf,#463ee1,#473fe3,#4741e5,#4742e6,#4743e8,#4745e9,#4746ea,#4747ec,#4849ed,#484aee,#484bef,#484cf0,#484ef1,#484ff2,#4850f3,#4852f4,#4854f5,#4756f7,#4758f8,#475bf9,#465efb,#4562fc,#4466fd,#416bfe,#3e70ff,#3875fe,#337bfd,#3080fa,#2e85f8,#2d8af5,#2c8ff1,#2a93ed,#2798ea,#259ce7,#22a2e4,#1da8e0,#16afd9,#05b6ce,#0abdbd,#2bc3a8,#44cb8a,#78cc5f,#b5c533,#e7bb2e,#fec537,#f7dc2a,#f5ee21,#f8f818,#f9fb15,#f7f41c,#f5e327,#fec934,#e3bc2c,#98ca47,#37c897,#0bb3d2,#2b90ef,#426afe,#484df0,#4639d9,#422fc1,#402ab3,#3e27ab,#3e26a9,#3e26a8)"></i>
<i style="width:415px;background:linear-gradient(90deg,#422fc3,#4230c3,#4230c4,#4330c5,#4331c6,#4331c7,#4332c8,#4332ca,#4433cb,#4433cd,#4434cf,#4435d1,#4536d3,#4537d5,#4538d7,#4639d9,#463adc,#463cde,#463de0,#473fe2,#4740e4,#4742e6,#4744e8,#4745ea,#4747eb,#4849ed,#484aee,#484bef,#484df0,#484ef1,#484ff2,#4851f3,#4852f4,#4853f5,#4854f6,#4756f7,#4758f8,#475af9,#475cfa,#465efb,#4561fc,#4465fd,#4369fe,#406dfe,#3c72ff,#3777fe,#327cfc,#2f81fa,#2e86f7,#2d8bf4,#2c8ff0,#2994ed,#2699e9,#249ee6,#20a5e3,#1aabdd,#0db3d3,#02bac4,#22c1b0,#39c995,#67cd6d,#a5c83e,#dcbd29,#febf3b,#f9d72c,#f5eb23,#f8f719,#f9fb15,#f7f51b,#f5e526,#fdcb33,#e6bb2d,#9bc945,#3cc992,#05b6ce,#2994ed,#3f6efe,#4850f2,#463bdc,#4230c4,#402ab5,#3e28ac,#3e27a9,#3e26a8)"></i>
<i style="width:410px;background:linear-gradient(90deg,#4230c3,#4230c3,#4230c4,#4330c5,#4331c6,#4331c8,#4332c9,#4332cb,#4433cc,#4434ce,#4435d0,#4536d2,#4537d5,#4538d7,#4639d9,#463adc,#463cde,#463ee1,#473fe3,#4741e5,#4743e7,#4745e9,#4747eb,#4849ed,#484bee,#484cf0,#484ef1,#484ff2,#4851f3,#4852f4,#4853f5,#4755f6,#4756f6,#4757f7,#4758f8,#475af9,#475bf9,#465dfa,#465ffb,#4561fc,#4564fd,#4367fd,#416bfe,#3f6eff,#3b73fe,#3678fe,#327cfc,#2f81fa,#2e86f8,#2d8af4,#2c8ff0,#2994ed,#2699e9,#239fe5,#1ea6e1,#17aeda,#04b6cd,#10beba,#30c5a1,#53cc7d,#90ca4d,#cdc028,#f9bb3d,#fbd12f,#f5e725,#f7f51b,#f9fb15,#f8f719,#f5e725,#fdcd32,#e7bb2e,#9ac945,#3dca90,#02b7cb,#2896eb,#3d70ff,#4851f3,#463cde,#4331c6,#402bb6,#3f28ad,#3e27aa,#3e26a8)"></i>
<i style="width:410px;background:linear-gradient(90deg,#4230c3,#4230c4,#4330c5,#4331c6,#4331c7,#4331c8,#4332ca,#4433cb,#4433cd,#4434cf,#4435d2,#4536d4,#4537d7,#4539d9,#463adc,#463cde,#463ee1,#4740e3,#4742e6,#4744e8,#4746ea,#4848ec,#484aee,#484cef,#484ef1,#4850f2,#4851f4,#4853f5,#4755f6,#4756f7,#4757f7,#4759f8,#475af9,#475bf9,#475cfa,#465dfa,#465efb,#4660fb,#4562fc,#4564fd,#4466fd,#4369fe,#416cfe,#3e6fff,#3a73fe,#3677fe,#327cfc,#2f80fa,#2e84f8,#2d89f5,#2c8ef2,#2a93ee,#2699e9,#23a0e5,#1da8e0,#12b1d7,#01b9c6,#23c1af,#3eca8f,#75cc61,#b8c431,#edba33,#fdcb33,#f5e327,#f7f31d,#f9fa15,#f8f818,#f5e924,#fdce31,#e8bb2f,#98c947,#3cc991,#02b7cb,#2796eb,#3d70ff,#4851f4,#463cdf,#4331c7,#402bb7,#3f28ae,#3e27aa,#3e26a9,#3e26a8)"></i>
<i style="width:405px;background:linear-gradient(90deg,#4230c3,#4230c4,#4330c5,#4331c6,#4331c7,#4332c9,#4332ca,#4433cc,#4434ce,#4435d0,#4536d3,#4537d6,#4538d8,#463adb,#463bde,#463de0,#473fe3,#4741e5,#4744e8,#4746ea,#4848ec,#484aee,#484df0,#484ff2,#4851f3,#4853f5,#4755f6,#4757f7,#4758f8,#475af9,#475bf9,#475cfa,#465dfa,#465efb,#465ffb,#4660fc,#4561fc,#4562fc,#4564fd,#4466fd,#4367fd,#426afe,#406cfe,#3e6fff,#3b73fe,#3776fe,#337afd,#317efb,#2f82f9,#2e87f7,#2d8cf3,#2b91ef,#2798ea,#239fe5,#1da9e0,#0cb3d3,#09bcbe,#2fc5a2,#58cc79,#9dc943,#ddbd29,#fec339,#f7dd2a,#f6f01f,#f9fa16,#f8f917,#f5eb23,#fcd030,#e8bb2f,#93ca4a,#37c897,#05b6ce,#2995ec,#3f6fff,#4850f3,#463bdd,#4331c6,#402bb6,#3f28ae,#3e27aa,#3e26a9,#3e26a8)"></i>
<i style="width:400px;background:linear-gradient(90deg,#4230c3,#4230c4,#4330c5,#4331c6,#4331c7,#4332c9,#4332cb,#4433cd,#4434cf,#4435d1,#4536d4,#4537d7,#4639d9,#463bdc,#463cdf,#473ee2,#4741e4,#4743e7,#4745e9,#4848ec,#484aee,#484cf0,#484ff2,#4851f3,#4853f5,#4756f6,#4758f8,#4759f9,#475bf9,#475dfa,#465efb,#465ffb,#4660fc,#4561fc,#4562fc,#4563fc,#4564fd,#4464fd,#4466fd,#4367fd,#4368fe,#426afe,#406cfe,#3f6fff,#3c71ff,#3974fe,#3678fe,#327cfc,#307ffb,#2e84f9,#2d89f5,#2c8ff1,#2896eb,#249fe5,#1caadf,#06b5ce,#1abfb5,#3cc992,#7bcc5d,#c6c22a,#fabb3d,#fad62d,#f5ed22,#f8f917,#f9fa16,#f5ed22,#fcd12f,#e7bb2e,#8dcb4f,#33c69e,#0cb3d3,#2b91ef,#416bfe,#484ef1,#463adb,#4230c4,#402ab5,#3f28ae,#3e27aa,#3e26a9,#3e26a8)"></i>
<i style="width:395px;background:linear-gradient(90deg,#422fc3,#4230c4,#4330c5,#4331c6,#4331c7,#4332c9,#4433cb,#4433cd,#4434cf,#4435d2,#4536d5,#4538d7,#4639da,#463bdd,#463de0,#473fe3,#4741e6,#4744e8,#4746eb,#4849ed,#484cef,#484ef1,#4851f3,#4853f5,#4755f6,#4758f8,#475af9,#475cfa,#465dfb,#465ffb,#4660fc,#4561fc,#4562fc,#4563fd,#4564fd,#4464fd,#4465fd,#4466fd,#4366fd,#4367fd,#4368fe,#426afe,#416bfe,#406dfe,#3e6fff,#3c72ff,#3975fe,#3678fd,#327cfc,#3080fa,#2e85f8,#2d8cf3,#2994ed,#249fe6,#1aacdd,#01b8c8,#29c3a9,#55cc7b,#a5c83d,#e9bb30,#fdcd32,#f5e725,#f8f719,#f9fa16,#f5ee21,#fbd22f,#e5bb2d,#84cc57,#2dc4a6,#15afd9,#2d8cf3,#4466fd,#484aee,#4537d7,#422fc0,#402ab4,#3f28ad,#3e27aa,#3e26a9,#3e26a8)"></i>
<i style="width:390px;background:linear-gradient(90deg,#422fc2,#4230c3,#4330c4,#4331c6,#4331c7,#4332c9,#4433cb,#4433cd,#4434cf,#4535d2,#4537d5,#4538d8,#463ada,#463bde,#463de0,#4740e3,#4742e6,#4745e9,#4747eb,#484aee,#484cf0,#484ff2,#4852f4,#4854f5,#4757f7,#4759f8,#475bf9,#465dfa,#465ffb,#4660fc,#4561fc,#4563fc,#4563fd,#4464fd,#4465fd,#4465fd,#4466fd,#4466fd,#4367fd,#4367fd,#4368fd,#4369fe,#426afe,#416bfe,#406dfe,#3f6fff,#3c71ff,#3a74fe,#3677fe,#327cfc,#2f81fa,#2d89f6,#2a92ee,#249fe6,#18aedb,#05bbc1,#35c79a,#7acc5e,#cec028,#fec13a,#f6df29,#f6f31d,#f8f818,#f5ed21,#fcd030,#e0bc2a,#75cc61,#21c1b0,#1da8e0,#2e84f8,#465ffb,#4745e9,#4435d1,#412dbd,#3f29b2,#3e27ac,#3e27aa,#3e26a9,#3e26a8)"></i>
<i style="width:385px;background:linear-gradient(90deg,#422fc2,#4230c3,#4230c4,#4331c5,#4331c7,#4332c9,#4332cb,#4433cd,#4434cf,#4535d2,#4537d5,#4538d8,#463ada,#463bde,#463ee0,#4740e3,#4742e6,#4745e9,#4747eb,#484aee,#484df0,#484ff2,#4852f4,#4855f6,#4757f7,#4759f8,#475bfa,#465dfb,#465ffb,#4661fc,#4562fc,#4563fc,#4564fd,#4464fd,#4465fd,#4465fd,#4465fd,#4466fd,#4466fd,#4466fd,#4466fd,#4367fd,#4367fd,#4368fe,#4269fe,#416bfe,#406dfe,#3e6fff,#3b72fe,#3777fe,#317dfc,#2e85f8,#2b91ef,#249fe5,#13b1d7,#18bfb6,#4acb85,#a5c83d,#f0ba36,#fbd32e,#f5ec22,#f7f51b,#f5eb23,#fdcd31,#d7be28,#63cd70,#0cbdbc,#239fe5,#347afd,#4757f7,#473fe2,#4332ca,#412cb8,#3f28af,#3e27ab,#3e27a9,#3e26a9,#3e26a8)"></i>
<i style="width:380px;background:linear-gradient(90deg,#422fc2,#422fc3,#4230c4,#4330c5,#4331c7,#4332c8,#4332ca,#4433cc,#4434cf,#4435d1,#4536d4,#4538d7,#4639da,#463bdd,#463de0,#473fe3,#4742e6,#4744e8,#4747eb,#484aed,#484cf0,#484ff2,#4852f4,#4854f5,#4756f7,#4759f8,#475bf9,#475dfa,#465efb,#4660fb,#4561fc,#4562fc,#4563fc,#4563fd,#4564fd,#4564fd,#4564fd,#4564fd,#4564fd,#4564fd,#4564fd,#4464fd,#4464fd,#4465fd,#4466fd,#4367fd,#4368fe,#416afe,#3f6dfe,#3c72ff,#3579fd,#2f82f9,#2c90f0,#22a1e4,#07b5d0,#2cc4a7,#70cd65,#d1bf27,#fec537,#f5e327,#f6ef20,#f5e825,#feca34,#ccc028,#50cc80,#01b8c9,#2895ec,#3f6eff,#484ff1,#4639da,#422fc2,#402ab4,#3f28ad,#3e27aa,#3e27a9,#3e26a9,#3e26a8)"></i>
<i style="width:375px;background:linear-gradient(90deg,#422fc1,#422fc2,#4230c3,#4330c4,#4331c6,#4331c8,#4332ca,#4433cc,#4434ce,#4435d0,#4536d3,#4537d6,#4539d9,#463bdc,#463ddf,#473fe2,#4741e5,#4743e8,#4746ea,#4849ed,#484bef,#484ef1,#4850f3,#4853f5,#4755f6,#4757f7,#4759f9,#475bf9,#465dfa,#465efb,#465ffb,#4660fc,#4561fc,#4561fc,#4562fc,#4562fc,#4562fc,#4562fc,#4561fc,#4561fc,#4561fc,#4561fc,#4561fc,#4561fc,#4562fc,#4563fc,#4564fd,#4466fd,#4368fe,#406dfe,#3975fe,#2f80fa,#2b90ef,#1fa5e2,#02bac4,#3dca90,#a3c83f,#f5ba3a,#f9d72d,#f5e924,#f5e327,#fec536,#bec32e,#3eca8f,#10b2d5,#2d8af5,#4562fc,#4746ea,#4435d0,#412dbc,#3f29b1,#3e27ac,#3e27aa,#3e26a9,#3e26a9,#3e26a8)"></i>
<i style="width:370px;background:linear-gradient(90deg,#422fc1,#422fc2,#422fc3,#4230c4,#4330c5,#4331c7,#4332c9,#4332cb,#4433cd,#4434cf,#4535d2,#4537d5,#4538d8,#463adb,#463cde,#463ee1,#4740e3,#4742e6,#4745e9,#4747eb,#4849ed,#484cef,#484ef1,#4851f3,#4853f5,#4755f6,#4757f7,#4759f8,#475af9,#475cfa,#475dfa,#465efb,#465efb,#465ffb,#465ffb,#465ffb,#465ffb,#465efb,#465efb,#465efb,#465dfb,#465dfa,#465dfa,#465dfb,#465efb,#465efb,#465ffb,#4561fc,#4564fd,#4369fe,#3c71ff,#3080fb,#2a93ed,#1aacdd,#1ec0b2,#6acd6a,#d6be28,#fec934,#f6e128,#f6df29,#fec139,#b0c636,#33c69e,#1ca9df,#317efb,#4757f7,#463ee1,#4331c7,#402bb6,#3f28ae,#3e27ab,#3e27a9,#3e26a9,#3e26a9,#3e26a8)"></i>
<i style="width:365px;background:linear-gradient(90deg,#422fc0,#422fc1,#422fc2,#4230c3,#4330c4,#4331c6,#4331c8,#4332ca,#4433cc,#4434ce,#4435d0,#4536d3,#4537d6,#4539d9,#463adc,#463cdf,#473ee1,#4740e4,#4743e7,#4745e9,#4747eb,#484aed,#484cef,#484ef1,#4850f3,#4852f4,#4854f5,#4756f6,#4757f7,#4758f8,#4759f8,#475af9,#475bf9,#475bf9,#475bf9,#475bf9,#475bf9,#475bf9,#475af9,#475af9,#475af9,#4759f8,#4759f8,#4759f8,#4759f9,#475af9,#475bf9,#475dfa,#4660fb,#4465fd,#3e70ff,#2f82fa,#269ae9,#07b5d0,#39c895,#aac73a,#fbbc3d,#f9d82c,#f8da2b,#febe3c,#a2c83f,#28c3aa,#23a0e5,#3c71ff,#484df1,#4538d7,#422ebf,#3f29b2,#3e28ac,#3e27aa,#3e27a9,#3e26a9,#3e26a9,#3e26a8)"></i>
<i style="width:360px;background:linear-gradient(90deg,#422ec0,#422fc0,#422fc1,#422fc2,#4230c4,#4330c5,#4331c6,#4332c8,#4332ca,#4433cc,#4434cf,#4435d1,#4536d4,#4538d7,#4639d9,#463bdc,#463cdf,#473ee2,#4740e4,#4743e7,#4745e9,#4747eb,#4849ed,#484bef,#484df0,#484ff2,#4850f3,#4852f4,#4853f5,#4854f6,#4755f6,#4756f7,#4756f7,#4757f7,#4757f7,#4757f7,#4757f7,#4756f7,#4756f7,#4756f6,#4755f6,#4755f6,#4755f6,#4755f6,#4755f6,#4756f6,#4757f7,#4759f8,#475cfa,#4563fd,#3d70ff,#2e87f7,#20a4e3,#15bfb7,#71cd64,#e4bb2c,#fdce31,#fad52d,#fbbc3d,#95ca49,#19bfb6,#2797eb,#4466fd,#4744e8,#4433cc,#412cb8,#3f28af,#3e27ab,#3e27aa,#3e27a9,#3e26a9,#3e26a9,#3e26a8)"></i>
<i style="width:360px;background:linear-gradient(90deg,#422ebf,#422ec0,#422fc1,#422fc2,#422fc3,#4230c4,#4330c5,#4331c7,#4332c9,#4332cb,#4433cd,#4434cf,#4435d2,#4536d4,#4538d7,#4639d9,#463bdc,#463cdf,#463ee1,#4740e4,#4742e6,#4744e8,#4746ea,#4847ec,#4849ed,#484bef,#484cf0,#484ef1,#484ff2,#4850f3,#4851f3,#4852f4,#4852f4,#4852f4,#4852f4,#4852f4,#4852f4,#4852f4,#4852f4,#4851f3,#4851f3,#4851f3,#4851f3,#4851f3,#4851f3,#4852f4,#4853f5,#4755f6,#475af9,#4563fc,#3974fe,#2b91ef,#0fb2d4,#3dc991,#bec32e,#fec239,#fccf30,#f8ba3d,#87cb54,#06bcc0,#2d8df2,#475cfa,#463de0,#4230c3,#402ab4,#3f28ad,#3e27ab,#3e27aa,#3e27a9,#3e26a9,#3e26a9,#3e26a9,#3e26a8)"></i>
<i style="width:355px;background:linear-gradient(90deg,#422ebf,#422ebf,#422ec0,#422fc1,#422fc2,#4230c3,#4230c4,#4331c5,#4331c7,#4332c9,#4332cb,#4433cd,#4434cf,#4435d1,#4536d4,#4537d6,#4539d9,#463adb,#463cde,#463de0,#473fe2,#4741e4,#4742e6,#4744e8,#4745ea,#4747eb,#4848ec,#4849ed,#484aee,#484bef,#484cf0,#484df0,#484df0,#484df1,#484df1,#484df1,#484df1,#484df0,#484df0,#484df0,#484cf0,#484cf0,#484cf0,#484cf0,#484df0,#484ef1,#4850f2,#4853f4,#4759f8,#4465fd,#317dfb,#23a0e5,#1bc0b4,#8acb52,#f1ba37,#fec835,#f2ba37,#79cc5e,#01b8ca,#2e84f8,#4853f5,#4538d7,#412dbd,#3f29b1,#3e28ac,#3e27aa,#3e27aa,#3e27a9,#3e27a9,#3e26a9,#3e26a9,#3e26a8)"></i>
<i style="width:350px;background:linear-gradient(90deg,#412ebe,#422ebf,#422ebf,#422fc0,#422fc1,#422fc2,#4230c3,#4230c4,#4330c5,#4331c7,#4332c9,#4332cb,#4433cc,#4434ce,#4435d1,#4536d3,#4537d5,#4538d8,#4639da,#463bdc,#463cde,#463de0,#473fe2,#4740e4,#4741e5,#4743e7,#4744e8,#4745e9,#4746ea,#4747eb,#4747ec,#4848ec,#4848ec,#4849ed,#4849ed,#4849ed,#4849ed,#4848ec,#4848ec,#4848ec,#4848ec,#4848ec,#4848ec,#4849ed,#4849ed,#484bee,#484df0,#4851f3,#4759f9,#416bfe,#2d8cf3,#0ab4d2,#50cc7f,#d4bf27,#febe3c,#eabb30,#6ccd68,#0bb4d2,#327cfc,#484cf0,#4434cf,#402bb8,#3f28af,#3e27ac,#3e27aa,#3e27aa,#3e27a9,#3e27a9,#3e26a9,#3e26a9,#3e26a8)"></i>
<i style="width:350px;background:linear-gradient(90deg,#412ebe,#412ebe,#422ebf,#422ebf,#422ec0,#422fc1,#422fc2,#422fc3,#4230c4,#4330c5,#4331c7,#4331c8,#4332ca,#4433cc,#4434ce,#4434d0,#4435d2,#4536d4,#4537d6,#4538d8,#4639da,#463adc,#463cde,#463ddf,#463ee1,#473fe2,#4740e3,#4741e5,#4742e6,#4742e6,#4743e7,#4743e7,#4744e8,#4744e8,#4744e8,#4744e8,#4744e8,#4744e8,#4744e8,#4744e8,#4744e8,#4744e8,#4744e9,#4745e9,#4746ea,#4848ec,#484bee,#4851f3,#465efb,#3479fd,#22a2e4,#2cc4a7,#a6c83c,#eeba34,#ddbd29,#5ecd74,#15afd9,#3a74fe,#4746eb,#4332c8,#402ab5,#3f28ae,#3e27ab,#3e27aa,#3e27aa,#3e27a9,#3e27a9,#3e26a9,#3e26a9,#3e26a9,#3e26a8)"></i>
<i style="width:345px;background:linear-gradient(90deg,#412dbd,#412ebe,#412ebe,#422ebf,#422ebf,#422ec0,#422fc1,#422fc1,#422fc2,#4230c3,#4330c5,#4331c6,#4331c7,#4332c9,#4332cb,#4433cc,#4434ce,#4435d0,#4535d2,#4536d4,#4537d6,#4538d7,#4539d9,#463ada,#463adc,#463bdd,#463cdf,#463de0,#463de0,#463ee1,#473fe2,#473fe2,#473fe3,#4740e3,#4740e3,#4740e3,#4740e3,#4740e4,#4740e4,#4740e4,#4740e4,#4741e4,#4741e5,#4742e6,#4743e8,#4746ea,#484aee,#4854f5,#4368fe,#2c8ff0,#01b9c6,#6dcd67,#d2bf27,#ccc028,#51cc7f,#1babde,#3f6efe,#4742e6,#4230c4,#402ab3,#3f28ad,#3e27ab,#3e27aa,#3e27aa,#3e27a9,#3e27a9,#3e26a9,#3e26a9,#3e26a9,#3e26a8)"></i>
<i style="width:340px;background:linear-gradient(90deg,#412dbd,#412dbd,#412ebe,#412ebe,#422ebe,#422ebf,#422ec0,#422fc0,#422fc1,#422fc2,#4230c3,#4230c4,#4330c5,#4331c6,#4331c8,#4332c9,#4432cb,#4433cc,#4434ce,#4434cf,#4435d1,#4536d3,#4536d4,#4537d6,#4538d7,#4538d8,#4639d9,#463ada,#463adb,#463bdc,#463bdd,#463bdd,#463cde,#463cde,#463cde,#463cdf,#463cdf,#463cdf,#463ddf,#463ddf,#463de0,#463ee1,#473fe2,#4740e3,#4742e6,#4745e9,#484cf0,#475cfa,#317efb,#1aabdd,#3cc991,#abc739,#b5c533,#45cb89,#1da8e0,#426afe,#4740e4,#422fc2,#3f29b2,#3e28ad,#3e27ab,#3e27aa,#3e27aa,#3e27aa,#3e27a9,#3e27a9,#3e26a9,#3e26a9,#3e26a8)"></i>
<i style="width:335px;background:linear-gradient(90deg,#412dbd,#412dbd,#412dbd,#412ebd,#412ebe,#422ebe,#422ebf,#422ebf,#422fc0,#422fc1,#422fc1,#422fc2,#4230c3,#4230c4,#4330c5,#4331c7,#4331c8,#4332c9,#4332ca,#4433cc,#4433cd,#4434ce,#4434d0,#4435d1,#4535d2,#4536d3,#4536d4,#4537d5,#4537d6,#4538d7,#4538d7,#4538d8,#4539d8,#4539d9,#4639d9,#4639da,#4639da,#463ada,#463adb,#463adb,#463bdc,#463bde,#463ddf,#473ee1,#4741e5,#4746ea,#4853f4,#3f6dfe,#259be8,#20c1b1,#7bcc5d,#98c947,#3bc992,#1fa6e2,#4368fe,#473fe2,#422fc0,#3f29b1,#3e28ac,#3e27ab,#3e27aa,#3e27aa,#3e27aa,#3e27a9,#3e27a9,#3e26a9,#3e26a9,#3e26a8)"></i>
<i style="width:330px;background:linear-gradient(90deg,#412dbc,#412dbc,#412dbd,#412dbd,#412dbd,#412ebe,#412ebe,#422ebe,#422ebf,#422ec0,#422fc0,#422fc1,#422fc2,#422fc2,#4230c3,#4230c4,#4330c5,#4331c6,#4331c7,#4332c8,#4332c9,#4332cb,#4433cc,#4433cd,#4434ce,#4434cf,#4434cf,#4435d0,#4435d1,#4535d2,#4536d2,#4536d3,#4536d4,#4536d4,#4536d5,#4537d5,#4537d6,#4537d6,#4538d7,#4538d8,#4639d9,#463adb,#463bdd,#463de0,#4742e6,#484bef,#4561fc,#2d8bf4,#02b7cb,#4bcb84,#73cd62,#33c69d,#21a4e3,#4367fd,#473fe2,#422fc1,#3f29b2,#3e28ac,#3e27ab,#3e27aa,#3e27aa,#3e27a9,#3e27a9,#3e27a9,#3e26a9,#3e26a9,#3e26a8)"></i>
<i style="width:325px;background:linear-gradient(90deg,#412dbc,#412dbc,#412dbc,#412dbd,#412dbd,#412dbd,#412ebd,#412ebe,#422ebe,#422ebf,#422ebf,#422ec0,#422fc0,#422fc1,#422fc2,#422fc2,#4230c3,#4230c4,#4330c5,#4331c6,#4331c6,#4331c7,#4331c8,#4332c9,#4332ca,#4332cb,#4433cb,#4433cc,#4433cd,#4434cd,#4434ce,#4434cf,#4434cf,#4434d0,#4435d0,#4435d1,#4435d2,#4536d3,#4536d4,#4537d5,#4538d7,#4539d9,#463bdc,#463ee1,#4746ea,#4758f8,#317dfc,#1babde,#2ec4a4,#4ecc81,#2bc3a8,#22a2e4,#4368fe,#473fe3,#422fc2,#3f29b2,#3e28ac,#3e27ab,#3e27aa,#3e27aa,#3e27a9,#3e27a9,#3e27a9,#3e26a9,#3e26a9,#3e26a8)"></i>
<i style="width:320px;background:linear-gradient(90deg,#412dbc,#412dbc,#412dbc,#412dbc,#412dbd,#412dbd,#412dbd,#412dbd,#412ebe,#412ebe,#422ebe,#422ebf,#422ebf,#422ec0,#422fc0,#422fc1,#422fc1,#422fc2,#422fc3,#4230c3,#4230c4,#4330c5,#4330c5,#4331c6,#4331c7,#4331c7,#4331c8,#4332c9,#4332c9,#4332ca,#4332cb,#4433cb,#4433cc,#4433cc,#4433cd,#4434ce,#4434cf,#4434d0,#4435d1,#4536d3,#4537d5,#4538d8,#463bdd,#4742e6,#4851f3,#3e6fff,#259ce7,#0abdbd,#34c79c,#1dc0b3,#23a0e5,#4269fe,#4741e5,#4230c3,#402ab3,#3f28ad,#3e27aa,#3e27aa,#3e27aa,#3e27a9,#3e27a9,#3e27a9,#3e26a9,#3e26a9,#3e26a8)"></i>
<i style="width:315px;background:linear-gradient(90deg,#412dbc,#412dbc,#412dbc,#412dbc,#412dbc,#412dbc,#412dbd,#412dbd,#412dbd,#412dbd,#412ebe,#412ebe,#422ebe,#422ebf,#422ebf,#422ebf,#422ec0,#422fc0,#422fc1,#422fc1,#422fc2,#422fc2,#4230c3,#4230c4,#4230c4,#4330c5,#4330c5,#4331c6,#4331c6,#4331c7,#4331c8,#4331c8,#4332c9,#4332ca,#4332ca,#4433cb,#4433cc,#4434ce,#4434cf,#4435d2,#4537d5,#4539d9,#463ee1,#484aee,#4564fd,#2c8ef1,#0db3d3,#1cc0b3,#06bcc0,#249ee6,#426afe,#4742e6,#4330c5,#402ab4,#3f28ad,#3e27aa,#3e27aa,#3e27a9,#3e27a9,#3e27a9,#3e26a9,#3e26a9,#3e26a9,#3e26a8)"></i>
<i style="width:310px;background:linear-gradient(90deg,#412dbc,#412dbc,#412dbc,#412dbc,#412dbc,#412dbc,#412dbc,#412dbc,#412dbd,#412dbd,#412dbd,#412dbd,#412ebe,#412ebe,#422ebe,#422ebe,#422ebf,#422ebf,#422ec0,#422fc0,#422fc0,#422fc1,#422fc1,#422fc2,#422fc2,#422fc3,#4230c3,#4230c4,#4230c4,#4330c5,#4330c5,#4331c6,#4331c7,#4331c7,#4332c8,#4332c9,#4332cb,#4433cc,#4434ce,#4435d1,#4537d5,#463bdc,#4745e9,#475af9,#3080fb,#1fa5e2,#01b8c9,#05b6ce,#269ae9,#4269fe,#4743e7,#4331c7,#402ab5,#3f28ae,#3e27ab,#3e27aa,#3e27a9,#3e27a9,#3e27a9,#3e26a9,#3e26a9,#3e26a9,#3e26a8)"></i>
<i style="width:305px;background:linear-gradient(90deg,#412dbc,#412dbc,#412dbc,#412dbc,#412dbc,#412dbc,#412dbc,#412dbc,#412dbc,#412dbc,#412dbd,#412dbd,#412dbd,#412dbd,#412ebd,#412ebe,#412ebe,#422ebe,#422ebf,#422ebf,#422ebf,#422ec0,#422ec0,#422fc0,#422fc1,#422fc1,#422fc1,#422fc2,#422fc2,#4230c3,#4230c3,#4230c4,#4330c5,#4331c6,#4331c7,#4331c8,#4332c9,#4433cb,#4434ce,#4435d1,#4538d8,#4740e4,#4852f4,#3c72ff,#2797ea,#17aeda,#16aeda,#2895ec,#4368fe,#4744e8,#4332c9,#402bb6,#3f28ae,#3e27ab,#3e27a9,#3e27a9,#3e27a9,#3e26a9,#3e26a9,#3e26a9,#3e26a9,#3e26a8)"></i>
<i style="width:300px;background:linear-gradient(90deg,#412dbb,#412dbc,#412dbc,#412dbc,#412dbc,#412dbc,#412dbc,#412dbc,#412dbc,#412dbc,#412dbc,#412dbc,#412dbd,#412dbd,#412dbd,#412dbd,#412ebd,#412ebe,#412ebe,#412ebe,#422ebe,#422ebf,#422ebf,#422ebf,#422ec0,#422ec0,#422fc0,#422fc1,#422fc1,#422fc2,#422fc2,#4230c3,#4230c4,#4330c5,#4331c6,#4331c7,#4332c9,#4433cb,#4434ce,#4536d4,#463cdf,#484bef,#4466fd,#2d8af4,#21a3e4,#1fa6e2,#2c90f0,#4367fd,#4745e9,#4332ca,#402bb7,#3f28af,#3e27ab,#3e27a9,#3e27a9,#3e27a9,#3e26a9,#3e26a9,#3e26a9,#3e26a9,#3e26a8)"></i>
<i style="width:295px;background:linear-gradient(90deg,#412dbb,#412dbb,#412dbb,#412dbc,#412dbc,#412dbc,#412dbc,#412dbc,#412dbc,#412dbc,#412dbc,#412dbc,#412dbc,#412dbc,#412dbd,#412dbd,#412dbd,#412dbd,#412dbd,#412ebd,#412ebe,#412ebe,#422ebe,#422ebe,#422ebf,#422ebf,#422ebf,#422ec0,#422fc0,#422fc1,#422fc1,#422fc2,#4230c3,#4230c4,#4330c5,#4331c7,#4332c9,#4433cc,#4435d0,#4639da,#4745ea,#475cfa,#317dfc,#2797eb,#259de7,#2d8bf4,#4466fd,#4745e9,#4433cc,#412cb9,#3f29b0,#3e27ac,#3e27aa,#3e27a9,#3e26a9,#3e26a9,#3e26a9,#3e26a9,#3e26a9,#3e26a8)"></i>
<i style="width:285px;background:linear-gradient(90deg,#412dbb,#412dbb,#412dbb,#412dbb,#412dbb,#412dbc,#412dbc,#412dbc,#412dbc,#412dbc,#412dbc,#412dbc,#412dbc,#412dbc,#412dbc,#412dbc,#412dbd,#412dbd,#412dbd,#412dbd,#412dbd,#412ebd,#412ebe,#412ebe,#422ebe,#422ebe,#422ebf,#422ebf,#422ec0,#422fc0,#422fc1,#422fc2,#422fc2,#4230c4,#4330c5,#4331c7,#4332c9,#4434cd,#4537d6,#4741e4,#4854f5,#3d71ff,#2d8bf4,#2994ed,#2e85f8,#4564fd,#4745ea,#4433cd,#412cba,#3f29b1,#3e28ac,#3e27aa,#3e26a9,#3e26a9,#3e26a9,#3e26a9,#3e26a9,#3e26a8)"></i>
<i style="width:275px;background:linear-gradient(90deg,#412dbb,#412dbb,#412dbb,#412dbb,#412dbb,#412dbb,#412dbc,#412dbc,#412dbc,#412dbc,#412dbc,#412dbc,#412dbc,#412dbc,#412dbc,#412dbc,#412dbc,#412dbc,#412dbd,#412dbd,#412dbd,#412dbd,#412ebd,#412ebe,#412ebe,#412ebe,#422ebe,#422ebf,#422ebf,#422ec0,#422fc0,#422fc1,#422fc2,#4230c3,#4330c5,#4331c7,#4433cb,#4535d2,#463de0,#484df1,#4466fd,#2f80fa,#2d8bf4,#3080fb,#4562fc,#4746ea,#4434cf,#412dbb,#3f29b2,#3f28ad,#3e27aa,#3e26a9,#3e26a9,#3e26a9,#3e26a9,#3e26a8)"></i>
<i style="width:265px;background:linear-gradient(90deg,#412dbb,#412dbb,#412dbb,#412dbb,#412dbb,#412dbb,#412dbb,#412dbb,#412dbc,#412dbc,#412dbc,#412dbc,#412dbc,#412dbc,#412dbc,#412dbc,#412dbc,#412dbc,#412dbc,#412dbd,#412dbd,#412dbd,#412dbd,#412dbd,#412ebe,#412ebe,#422ebe,#422ebf,#422ebf,#422ec0,#422fc0,#422fc1,#422fc2,#4230c4,#4331c6,#4332c9,#4434cf,#463adb,#4848ec,#465dfa,#3875fe,#2f82fa,#347afd,#4660fc,#4746ea,#4435d0,#412dbd,#402ab3,#3f28ae,#3e27ab,#3e27a9,#3e26a9,#3e26a9,#3e26a8)"></i>
<i style="width:255px;background:linear-gradient(90deg,#412dbb,#412dbb,#412dbb,#412dbb,#412dbb,#412dbb,#412dbb,#412dbb,#412dbb,#412dbc,#412dbc,#412dbc,#412dbc,#412dbc,#412dbc,#412dbc,#412dbc,#412dbc,#412dbc,#412dbc,#412dbd,#412dbd,#412dbd,#412dbd,#412ebd,#412ebe,#412ebe,#422ebe,#422ebf,#422ec0,#422fc0,#422fc1,#422fc3,#4230c4,#4331c7,#4433cc,#4537d7,#4743e7,#4756f6,#416bfe,#3579fd,#3a73fe,#465efb,#4746ea,#4435d1,#412ebe,#402ab5,#3f28af,#3e27ac,#3e27a9,#3e26a9,#3e26a8)"></i>
<i style="width:250px;background:linear-gradient(90deg,#412dbb,#412dbb,#412dbb,#412dbb,#412dbb,#412dbb,#412dbb,#412dbb,#412dbb,#412dbb,#412dbc,#412dbc,#412dbc,#412dbc,#412dbc,#412dbc,#412dbc,#412dbc,#412dbc,#412dbc,#412dbc,#412dbd,#412dbd,#412dbd,#412dbd,#412ebe,#412ebe,#422ebe,#422ebf,#422ec0,#422fc1,#422fc2,#4230c3,#4330c5,#4332ca,#4536d3,#473fe2,#484ff2,#4563fc,#3d70ff,#3f6efe,#475cfa,#4746ea,#4535d2,#422ebf,#402bb6,#3f29b0,#3e28ad,#3e27aa,#3e26a9,#3e26a8)"></i>
<i style="width:245px;background:linear-gradient(90deg,#412dbb,#412dbb,#412dbb,#412dbb,#412dbb,#412dbb,#412dbb,#412dbb,#412dbb,#412dbb,#412dbc,#412dbc,#412dbc,#412dbc,#412dbc,#412dbc,#412dbc,#412dbc,#412dbc,#412dbc,#412dbc,#412dbd,#412dbd,#412dbd,#412ebd,#412ebe,#412ebe,#422ebf,#422ebf,#422fc0,#422fc1,#422fc2,#4230c4,#4331c8,#4434d0,#463cde,#484aee,#475cfa,#426afe,#4269fe,#475af9,#4746ea,#4536d4,#422fc1,#402bb7,#3f29b1,#3f28ae,#3e27ab,#3e27a9,#3e26a8)"></i>
<i style="width:240px;background:linear-gradient(90deg,#412dbb,#412dbb,#412dbb,#412dbb,#412dbb,#412dbb,#412dbb,#412dbb,#412dbb,#412dbb,#412dbc,#412dbc,#412dbc,#412dbc,#412dbc,#412dbc,#412dbc,#412dbc,#412dbc,#412dbc,#412dbc,#412dbd,#412dbd,#412dbd,#412ebd,#412ebe,#422ebe,#422ebf,#422ec0,#422fc0,#422fc2,#4230c3,#4331c7,#4434ce,#463adb,#4747eb,#4757f7,#4464fd,#4466fd,#4759f8,#4746eb,#4537d6,#422fc3,#412cb8,#402ab3,#3f28af,#3e27ab,#3e27a9,#3e26a8)"></i>
<i style="width:240px;background:linear-gradient(90deg,#412dbb,#412dbb,#412dbb,#412dbb,#412dbb,#412dbb,#412dbb,#412dbb,#412dbb,#412dbb,#412dbc,#412dbc,#412dbc,#412dbc,#412dbc,#412dbc,#412dbc,#412dbc,#412dbc,#412dbc,#412dbd,#412dbd,#412dbd,#412dbd,#412ebe,#412ebe,#422ebf,#422ebf,#422fc0,#422fc1,#4230c3,#4331c6,#4433cc,#4538d8,#4744e8,#4853f5,#4660fb,#4562fc,#4758f8,#4747eb,#4538d8,#4330c5,#412cba,#402ab4,#3f29b0,#3e28ac,#3e27aa,#3e26a9,#3e26a8)"></i>
<i style="width:235px;background:linear-gradient(90deg,#412dbb,#412dbb,#412dbb,#412dbb,#412dbb,#412dbb,#412dbb,#412dbb,#412dbb,#412dbb,#412dbc,#412dbc,#412dbc,#412dbc,#412dbc,#412dbc,#412dbc,#412dbc,#412dbc,#412dbc,#412dbd,#412dbd,#412dbd,#412ebd,#412ebe,#422ebe,#422ebf,#422ec0,#422fc1,#422fc2,#4330c5,#4432cb,#4537d6,#4741e5,#484ff2,#475bfa,#465ffb,#4757f7,#4848ec,#4639da,#4331c7,#412dbc,#402ab5,#3f29b1,#3f28ad,#3e27ab,#3e26a9,#3e26a8)"></i>
<i style="width:240px;background:linear-gradient(90deg,#412dbb,#412dbb,#412dbb,#412dbb,#412dbb,#412dbb,#412dbb,#412dbb,#412dbb,#412dbc,#412dbc,#412dbc,#412dbc,#412dbc,#412dbc,#412dbc,#412dbc,#412dbc,#412dbc,#412dbd,#412dbd,#412dbd,#412ebd,#412ebe,#422ebe,#422ebf,#422ec0,#422fc0,#422fc2,#4330c4,#4332ca,#4536d4,#473fe2,#484cef,#4758f8,#475cfa,#4756f7,#4849ec,#463bdc,#4332cb,#422ebf,#412cb8,#402ab4,#3f29b0,#3e28ad,#3e27aa,#3e27a9,#3e26a9,#3e26a8)"></i>
<i style="width:240px;background:linear-gradient(90deg,#412dbb,#412dbb,#412dbb,#412dbb,#412dbb,#412dbb,#412dbb,#412dbb,#412dbb,#412dbc,#412dbc,#412dbc,#412dbc,#412dbc,#412dbc,#412dbc,#412dbc,#412dbc,#412dbd,#412dbd,#412dbd,#412dbd,#412ebe,#412ebe,#422ebf,#422ebf,#422fc0,#422fc2,#4230c4,#4332c9,#4536d2,#463de0,#4849ed,#4854f5,#4759f8,#4854f6,#4849ed,#463cde,#4434ce,#422fc2,#412dbb,#402bb7,#402ab3,#3f28af,#3e27ac,#3e27aa,#3e27a9,#3e26a9,#3e26a8)"></i>
<i style="width:240px;background:linear-gradient(90deg,#412dbb,#412dbb,#412dbb,#412dbb,#412dbb,#412dbb,#412dbb,#412dbb,#412dbc,#412dbc,#412dbc,#412dbc,#412dbc,#412dbc,#412dbc,#412dbc,#412dbc,#412dbc,#412dbd,#412dbd,#412dbd,#412ebd,#412ebe,#422ebe,#422ebf,#422ec0,#422fc1,#4230c3,#4331c8,#4435d1,#463bde,#4746ea,#4850f3,#4755f6,#4852f4,#4848ec,#463ddf,#4435d0,#4330c5,#422ebe,#412cba,#402bb6,#3f29b2,#3f28ae,#3e27ab,#3e27aa,#3e27a9,#3e26a9,#3e26a8)"></i>
<i style="width:240px;background:linear-gradient(90deg,#412dbb,#412dbb,#412dbb,#412dbb,#412dbb,#412dbb,#412dbb,#412dbc,#412dbc,#412dbc,#412dbc,#412dbc,#412dbc,#412dbc,#412dbc,#412dbc,#412dbc,#412dbd,#412dbd,#412dbd,#412ebd,#412ebe,#422ebe,#422ebf,#422ec0,#422fc1,#4230c3,#4331c7,#4434cf,#463adb,#4743e7,#484cf0,#4852f4,#4850f3,#4848ec,#463de0,#4536d2,#4331c7,#422fc1,#412dbd,#412cb9,#402ab5,#3f29b0,#3f28ad,#3e27ab,#3e27aa,#3e27a9,#3e26a9,#3e26a8)"></i>
<i style="width:240px;background:linear-gradient(90deg,#412dbb,#412dbb,#412dbb,#412dbb,#412dbb,#412dbb,#412dbb,#412dbc,#412dbc,#412dbc,#412dbc,#412dbc,#412dbc,#412dbc,#412dbc,#412dbc,#412dbc,#412dbd,#412dbd,#412dbd,#412ebe,#412ebe,#422ebf,#422ebf,#422fc0,#422fc3,#4331c7,#4434ce,#4539d9,#4741e4,#4849ed,#484ef1,#484df1,#4747eb,#463de0,#4536d4,#4332c9,#4230c3,#422ebf,#412dbc,#402bb8,#402ab3,#3f28af,#3e27ac,#3e27aa,#3e27a9,#3e26a9,#3e26a9,#3e26a8)"></i>
<i style="width:235px;background:linear-gradient(90deg,#412dbb,#412dbb,#412dbb,#412dbb,#412dbb,#412dbb,#412dbc,#412dbc,#412dbc,#412dbc,#412dbc,#412dbc,#412dbc,#412dbc,#412dbc,#412dbc,#412dbd,#412dbd,#412dbd,#412ebd,#412ebe,#422ebe,#422ebf,#422fc0,#422fc2,#4331c6,#4433cd,#4538d7,#473ee2,#4746ea,#484bee,#484bee,#4745e9,#463de0,#4536d5,#4432cb,#4330c5,#422fc1,#412ebe,#412cbb,#402bb6,#3f29b2,#3f28ae,#3e27ab,#3e27aa,#3e27a9,#3e26a9,#3e26a8)"></i>
<i style="width:235px;background:linear-gradient(90deg,#412dbb,#412dbb,#412dbb,#412dbb,#412dbb,#412dbb,#412dbc,#412dbc,#412dbc,#412dbc,#412dbc,#412dbc,#412dbc,#412dbc,#412dbc,#412dbd,#412dbd,#412dbd,#412ebd,#412ebe,#422ebe,#422ebf,#422ec0,#422fc2,#4330c5,#4433cb,#4537d5,#463cdf,#4743e7,#4848ec,#4848ec,#4744e8,#463de0,#4537d5,#4433cc,#4331c6,#4230c3,#422fc0,#412dbd,#412cb9,#402ab5,#3f29b0,#3f28ad,#3e27ab,#3e27aa,#3e26a9,#3e26a9,#3e26a8)"></i>
<i style="width:230px;background:linear-gradient(90deg,#412dbb,#412dbb,#412dbb,#412dbb,#412dbb,#412dbc,#412dbc,#412dbc,#412dbc,#412dbc,#412dbc,#412dbc,#412dbc,#412dbc,#412dbc,#412dbd,#412dbd,#412dbd,#412ebe,#412ebe,#422ebf,#422ec0,#422fc1,#4330c5,#4332ca,#4536d3,#463bdc,#4741e4,#4745e9,#4746ea,#4742e6,#463cdf,#4537d5,#4433cc,#4331c7,#4230c4,#422fc2,#422ec0,#412dbc,#402bb8,#402ab3,#3f28af,#3e27ac,#3e27aa,#3e27a9,#3e26a9,#3e26a8)"></i>
<i style="width:230px;background:linear-gradient(90deg,#412dbb,#412dbb,#412dbb,#412dbb,#412dbb,#412dbc,#412dbc,#412dbc,#412dbc,#412dbc,#412dbc,#412dbc,#412dbc,#412dbc,#412dbd,#412dbd,#412dbd,#412ebd,#412ebe,#422ebe,#422ebf,#422fc1,#4230c4,#4332c9,#4435d1,#4639da,#473ee2,#4742e6,#4743e8,#4741e5,#463cde,#4537d5,#4433cd,#4331c7,#4330c5,#4230c3,#422fc2,#422ebf,#412dbb,#402bb6,#3f29b1,#3f28ae,#3e27ab,#3e27aa,#3e27a9,#3e26a9,#3e26a8)"></i>
<i style="width:225px;background:linear-gradient(90deg,#412dbb,#412dbb,#412dbb,#412dbb,#412dbc,#412dbc,#412dbc,#412dbc,#412dbc,#412dbc,#412dbc,#412dbc,#412dbc,#412dbc,#412dbd,#412dbd,#412dbd,#412ebe,#422ebe,#422ebf,#422fc1,#4230c4,#4332c8,#4434cf,#4538d8,#463cdf,#4740e4,#4741e5,#473fe3,#463bdd,#4537d5,#4433cd,#4331c8,#4330c5,#4230c4,#4230c3,#422fc1,#412ebe,#412cb9,#402ab4,#3f29b0,#3e28ac,#3e27aa,#3e27a9,#3e26a9,#3e26a8)"></i>
<i style="width:225px;background:linear-gradient(90deg,#412dbb,#412dbb,#412dbb,#412dbb,#412dbc,#412dbc,#412dbc,#412dbc,#412dbc,#412dbc,#412dbc,#412dbc,#412dbc,#412dbd,#412dbd,#412dbd,#412ebe,#412ebe,#422ebf,#422fc0,#4230c3,#4331c7,#4434ce,#4537d5,#463bdc,#463ee1,#473fe3,#463ee1,#463adc,#4536d4,#4433cc,#4331c7,#4330c5,#4230c4,#4230c4,#4230c3,#422fc1,#412dbc,#402bb7,#3f29b2,#3f28ae,#3e27ab,#3e27aa,#3e27a9,#3e26a9,#3e26a8)"></i>
<i style="width:220px;background:linear-gradient(90deg,#412dbb,#412dbb,#412dbb,#412dbb,#412dbc,#412dbc,#412dbc,#412dbc,#412dbc,#412dbc,#412dbc,#412dbc,#412dbc,#412dbd,#412dbd,#412ebd,#412ebe,#422ebf,#422fc0,#422fc2,#4331c6,#4433cc,#4536d3,#4639d9,#463cde,#463de0,#463cdf,#4639da,#4536d3,#4433cc,#4331c7,#4330c5,#4230c4,#4230c4,#4230c4,#4230c3,#422ebf,#412cba,#402ab5,#3f29b0,#3f28ad,#3e27ab,#3e27a9,#3e26a9,#3e26a8)"></i>
<i style="width:220px;background:linear-gradient(90deg,#412dbb,#412dbb,#412dbb,#412dbb,#412dbc,#412dbc,#412dbc,#412dbc,#412dbc,#412dbc,#412dbc,#412dbc,#412dbd,#412dbd,#412dbd,#412ebe,#422ebe,#422ec0,#422fc2,#4330c5,#4332ca,#4435d1,#4538d7,#463adb,#463bdd,#463bdc,#4538d8,#4535d2,#4433cb,#4331c6,#4230c4,#4230c4,#4230c4,#4330c5,#4230c4,#422fc2,#412ebe,#402cb8,#402ab3,#3f28af,#3e27ac,#3e27aa,#3e27a9,#3e26a9,#3e26a8)"></i>
<i style="width:215px;background:linear-gradient(90deg,#412dbb,#412dbb,#412dbb,#412dbc,#412dbc,#412dbc,#412dbc,#412dbc,#412dbc,#412dbc,#412dbc,#412dbc,#412dbd,#412dbd,#412ebd,#412ebe,#422ebf,#422fc1,#4230c4,#4332c9,#4434ce,#4536d4,#4538d8,#463ada,#4639da,#4537d6,#4435d1,#4332cb,#4331c6,#4230c3,#4230c3,#4230c3,#4230c4,#4330c5,#4230c4,#422fc1,#412dbc,#402bb6,#3f29b1,#3f28ad,#3e27ab,#3e27a9,#3e26a9,#3e26a8)"></i>
<i style="width:215px;background:linear-gradient(90deg,#412dbb,#412dbb,#412dbb,#412dbb,#412dbc,#412dbc,#412dbc,#412dbc,#412dbc,#412dbc,#412dbc,#412dbc,#412dbd,#412dbd,#412ebe,#422ebf,#422fc0,#4230c3,#4331c7,#4433cc,#4435d1,#4537d5,#4538d7,#4538d7,#4536d4,#4434cf,#4332ca,#4330c5,#422fc2,#422fc2,#422fc2,#4230c3,#4330c5,#4330c5,#4230c3,#422ebf,#412cb9,#402ab4,#3f29af,#3e27ac,#3e27aa,#3e27a9,#3e26a9,#3e26a8)"></i>
<i style="width:210px;background:linear-gradient(90deg,#412dbb,#412dbb,#412dbb,#412dbb,#412dbc,#412dbc,#412dbc,#412dbc,#412dbc,#412dbc,#412dbc,#412dbc,#412dbd,#412ebd,#422ebe,#422ec0,#422fc2,#4331c5,#4332ca,#4434ce,#4535d2,#4536d4,#4536d4,#4435d1,#4433cd,#4332c8,#4230c4,#422fc1,#422fc1,#422fc1,#422fc2,#4230c4,#4330c5,#4330c5,#422fc2,#412dbd,#402bb8,#3f29b2,#3f28ae,#3e27ab,#3e27a9,#3e26a9,#3e26a8)"></i>
<i style="width:210px;background:linear-gradient(90deg,#412dbb,#412dbb,#412dbb,#412dbb,#412dbc,#412dbc,#412dbc,#412dbc,#412dbc,#412dbc,#412dbc,#412dbd,#412dbd,#412ebe,#422ebf,#422fc1,#4230c4,#4331c8,#4433cb,#4434cf,#4435d1,#4435d1,#4434cf,#4433cb,#4331c7,#4230c3,#422fc0,#422ec0,#422ec0,#422fc1,#422fc2,#4230c4,#4330c5,#4230c4,#422fc0,#412dbb,#402bb6,#3f29b0,#3e28ad,#3e27aa,#3e27a9,#3e26a9,#3e26a8)"></i>
<i style="width:210px;background:linear-gradient(90deg,#412dbb,#412dbb,#412dbb,#412dbb,#412dbb,#412dbc,#412dbc,#412dbc,#412dbc,#412dbc,#412dbc,#412dbd,#412dbd,#422ebe,#422fc0,#422fc2,#4330c5,#4332c9,#4433cc,#4434cd,#4434ce,#4433cc,#4332c9,#4331c6,#422fc2,#422ec0,#422ebf,#422ebf,#422ebf,#422fc1,#4230c3,#4330c5,#4330c5,#422fc3,#422ebe,#412cb9,#402ab3,#3f28af,#3e27ab,#3e27aa,#3e26a9,#3e26a9,#3e26a8)"></i>
<i style="width:205px;background:linear-gradient(90deg,#412dbb,#412dbb,#412dbb,#412dbb,#412dbb,#412dbc,#412dbc,#412dbc,#412dbc,#412dbc,#412dbc,#412dbd,#412ebe,#422ebf,#422fc1,#4230c3,#4331c6,#4332c9,#4332ca,#4332cb,#4332ca,#4331c7,#4230c4,#422fc1,#422ebf,#412ebe,#412ebe,#422ebe,#422ebf,#422fc1,#4230c3,#4330c5,#4230c4,#422fc1,#412dbc,#402bb7,#3f29b1,#3f28ad,#3e27aa,#3e27a9,#3e26a9,#3e26a8)"></i>
<i style="width:205px;background:linear-gradient(90deg,#412dbb,#412dbb,#412dbb,#412dbb,#412dbb,#412dbb,#412dbc,#412dbc,#412dbc,#412dbc,#412dbd,#412dbd,#422ebe,#422ec0,#422fc2,#4230c4,#4331c7,#4331c8,#4332c9,#4331c8,#4331c6,#4230c3,#422fc0,#422ebe,#412dbd,#412dbd,#412ebd,#412ebe,#422ebf,#422fc2,#4230c4,#4330c5,#4230c3,#422ebf,#412cba,#402ab4,#3f28af,#3e27ac,#3e27aa,#3e27a9,#3e26a9,#3e26a8)"></i>
<i style="width:200px;background:linear-gradient(90deg,#412dbb,#412dbb,#412dbb,#412dbb,#412dbb,#412dbc,#412dbc,#412dbc,#412dbc,#412dbc,#412dbd,#422ebe,#422ec0,#422fc2,#4230c4,#4331c6,#4331c8,#4332c9,#4331c8,#4331c6,#4230c3,#422fc1,#422ebf,#412dbd,#412dbd,#412dbd,#412dbd,#412ebe,#422fc0,#4230c3,#4330c5,#4330c5,#422fc2,#412ebe,#402bb8,#3f29b2,#3f28ad,#3e27ab,#3e27a9,#3e26a9,#3e26a8)"></i>
<i style="width:200px;background:linear-gradient(90deg,#412dbb,#412dbb,#412dbb,#412dbb,#412dbc,#412dbc,#412dbc,#412dbc,#412dbc,#412dbd,#412ebe,#422ec0,#422fc2,#4230c4,#4331c6,#4331c8,#4332c9,#4331c8,#4331c6,#4230c3,#422fc1,#422ebf,#412dbd,#412dbc,#412dbd,#412dbd,#412dbd,#422ebf,#422fc1,#4230c4,#4331c6,#4330c5,#422fc1,#412dbb,#402ab5,#3f29b0,#3e27ac,#3e27aa,#3e27a9,#3e26a9,#3e26a8)"></i>
<i style="width:195px;background:linear-gradient(90deg,#412dbb,#412dbb,#412dbb,#412dbc,#412dbc,#412dbc,#412dbc,#412dbc,#412dbd,#412ebe,#422ebf,#422fc1,#4230c4,#4331c6,#4331c8,#4332c9,#4331c8,#4331c6,#4230c4,#422fc1,#422ebf,#412dbd,#412dbc,#412dbc,#412dbc,#412dbc,#412ebd,#422ec0,#4230c3,#4331c6,#4331c6,#4230c4,#422ebf,#412cb9,#402ab3,#3f28ae,#3e27ab,#3e27a9,#3e26a9,#3e26a8)"></i>
<i style="width:195px;background:linear-gradient(90deg,#412dbb,#412dbb,#412dbc,#412dbc,#412dbc,#412dbc,#412dbc,#412dbd,#412ebe,#422ebf,#422fc1,#4230c4,#4331c6,#4331c8,#4332c9,#4331c8,#4331c6,#4230c4,#422fc1,#422ebf,#412dbd,#412dbc,#412dbc,#412dbc,#412dbc,#412dbc,#422ebe,#422fc1,#4330c5,#4331c7,#4331c7,#4230c3,#412dbd,#402bb6,#3f29b0,#3e28ac,#3e27aa,#3e27a9,#3e26a9,#3e26a8)"></i>
<i style="width:190px;background:linear-gradient(90deg,#412dbb,#412dbc,#412dbc,#412dbc,#412dbc,#412dbc,#412dbd,#412ebe,#422ebf,#422fc1,#4230c3,#4331c6,#4331c8,#4332c9,#4332c8,#4331c7,#4230c4,#422fc1,#422ebf,#412ebd,#412dbc,#412dbc,#412dbc,#412dbc,#412dbc,#412dbd,#422ec0,#4230c3,#4331c7,#4332c9,#4331c7,#422fc2,#412cbb,#402ab4,#3f28ae,#3e27ab,#3e27a9,#3e26a9,#3e26a8)"></i>
<i style="width:190px;background:linear-gradient(90deg,#412dbc,#412dbc,#412dbc,#412dbc,#412dbc,#412dbd,#412ebe,#422ebf,#422fc1,#4230c3,#4331c6,#4331c7,#4332c8,#4332c8,#4331c7,#4230c4,#422fc2,#422ebf,#412ebd,#412dbc,#412dbc,#412dbc,#412dbc,#412dbb,#412dbc,#422ebe,#422fc2,#4331c6,#4332c9,#4332ca,#4331c6,#422ebf,#402bb8,#3f29b1,#3e28ac,#3e27aa,#3e27a9,#3e26a9,#3e26a8)"></i>
<i style="width:185px;background:linear-gradient(90deg,#412dbc,#412dbc,#412dbc,#412dbc,#412dbd,#412ebe,#422ebf,#422fc1,#4230c3,#4330c5,#4331c7,#4332c8,#4332c8,#4331c7,#4330c5,#422fc2,#422ebf,#412ebe,#412dbc,#412dbc,#412dbc,#412dbc,#412dbb,#412dbc,#412dbd,#422fc0,#4330c5,#4332c9,#4433cb,#4332ca,#4230c4,#412dbc,#402ab4,#3f28af,#3e27ab,#3e27a9,#3e26a9,#3e26a8)"></i>
<i style="width:185px;background:linear-gradient(90deg,#412dbc,#412dbc,#412dbc,#412dbd,#412ebe,#422ebf,#422fc1,#4230c3,#4330c5,#4331c7,#4332c8,#4332c8,#4331c7,#4330c5,#422fc2,#422ec0,#412ebe,#412dbc,#412dbc,#412dbb,#412dbc,#412dbb,#412dbb,#412dbc,#422ebf,#4230c3,#4332c8,#4433cc,#4433cc,#4331c8,#422fc0,#402bb8,#3f29b1,#3e28ac,#3e27aa,#3e27a9,#3e26a9,#3e26a8)"></i>
<i style="width:180px;background:linear-gradient(90deg,#412dbc,#412dbc,#412dbd,#412ebd,#422ebf,#422fc0,#422fc3,#4330c5,#4331c7,#4332c8,#4332c8,#4331c7,#4330c5,#422fc2,#422ec0,#412ebe,#412dbc,#412dbc,#412dbb,#412dbc,#412dbb,#412dbb,#412dbc,#412ebe,#422fc2,#4331c7,#4433cc,#4434ce,#4433cc,#4330c5,#412dbc,#402ab4,#3f28ae,#3e27ab,#3e27a9,#3e26a9,#3e26a8)"></i>
<i style="width:175px;background:linear-gradient(90deg,#412dbc,#412dbc,#412dbd,#412ebe,#422ebf,#422fc1,#4230c4,#4331c6,#4331c8,#4332c9,#4331c8,#4331c6,#4230c4,#422fc1,#422ebf,#412dbd,#412dbc,#412dbb,#412dbb,#412dbb,#412dbb,#412dbc,#412ebd,#422fc1,#4331c6,#4433cb,#4434cf,#4434ce,#4332c9,#422fc0,#402bb7,#3f29b0,#3e27ac,#3e27aa,#3e26a9,#3e26a8)"></i>
<i style="width:175px;background:linear-gradient(90deg,#412dbc,#412dbc,#412dbd,#412ebe,#422ebf,#422fc1,#4230c4,#4331c6,#4331c8,#4332c9,#4331c8,#4331c6,#4230c4,#422fc1,#422ebf,#412dbd,#412dbc,#412dbc,#412dbc,#412dbb,#412dbc,#412dbd,#422fc1,#4331c6,#4433cb,#4434cf,#4435d0,#4433cc,#4230c4,#412cba,#4029b2,#3f28ad,#3e27aa,#3e27a9,#3e26a9,#3e26a8)"></i>
<i style="width:170px;background:linear-gradient(90deg,#412dbc,#412dbc,#412dbd,#412ebe,#422ebf,#422fc1,#4230c4,#4331c6,#4331c8,#4332c9,#4331c8,#4331c6,#4230c4,#422fc1,#422ebf,#412dbd,#412dbc,#412dbc,#412dbc,#412dbc,#412dbd,#422fc0,#4330c5,#4433cb,#4434d0,#4435d1,#4434cf,#4331c8,#412ebe,#402ab5,#3f28ae,#3e27ab,#3e27a9,#3e26a9,#3e26a8)"></i>
<i style="width:165px;background:linear-gradient(90deg,#412dbc,#412dbc,#412dbd,#412ebe,#422ebf,#422fc1,#4230c4,#4331c6,#4331c8,#4332c9,#4331c8,#4331c6,#4230c4,#422fc1,#422ebf,#412dbd,#412dbd,#412dbc,#412dbc,#412dbd,#422ec0,#4330c5,#4432cb,#4435d0,#4536d3,#4435d1,#4433cb,#422fc1,#402bb7,#3f29b0,#3e27ac,#3e27a9,#3e26a9,#3e26a8)"></i>
<i style="width:160px;background:linear-gradient(90deg,#412dbc,#412dbc,#412dbd,#412ebe,#422ebf,#422fc1,#4230c4,#4331c6,#4331c8,#4332c9,#4331c8,#4331c6,#4230c4,#422fc1,#422ebf,#412ebe,#412dbd,#412dbd,#412ebd,#422ec0,#4330c4,#4332cb,#4435d0,#4536d3,#4536d3,#4434ce,#4230c4,#412cba,#3f29b2,#3e28ac,#3e27aa,#3e26a9,#3e26a8)"></i>
<i style="width:155px;background:linear-gradient(90deg,#412dbc,#412dbc,#412dbd,#412ebe,#422ebf,#422fc1,#4230c4,#4331c6,#4331c8,#4332c9,#4331c8,#4331c6,#4230c4,#422fc1,#422ebf,#412ebe,#412ebd,#412ebe,#422ec0,#4230c4,#4332ca,#4435d0,#4536d4,#4537d5,#4435d1,#4331c8,#412dbd,#402ab4,#3f28ad,#3e27aa,#3e27a9,#3e26a8)"></i>
<i style="width:155px;background:linear-gradient(90deg,#412dbc,#412dbc,#412dbd,#412ebe,#422ebf,#422fc1,#4230c4,#4331c6,#4331c8,#4332c9,#4331c8,#4331c6,#4230c4,#422fc1,#422ec0,#422ebf,#422ebf,#422fc0,#4230c4,#4332ca,#4435d0,#4537d5,#4537d6,#4536d3,#4433cb,#422ec0,#402bb6,#3f28af,#3e27ab,#3e27a9,#3e26a9,#3e26a8)"></i>
<i style="width:150px;background:linear-gradient(90deg,#412dbc,#412dbc,#412dbd,#412ebe,#422ebf,#422fc1,#4230c4,#4331c6,#4331c8,#4332c9,#4331c8,#4331c6,#4230c4,#422fc2,#422fc0,#422ec0,#422fc1,#4330c4,#4332ca,#4435d1,#4537d5,#4538d7,#4537d5,#4434ce,#422fc2,#402bb8,#3f29b0,#3e27ab,#3e27a9,#3e26a9,#3e26a8)"></i>
<i style="width:145px;background:linear-gradient(90deg,#412dbc,#412dbc,#412dbd,#412ebe,#422ebf,#422fc1,#4230c4,#4331c6,#4331c8,#4332c9,#4331c8,#4331c6,#4230c4,#4230c3,#422fc2,#422fc2,#4330c5,#4332cb,#4435d1,#4537d6,#4538d8,#4537d6,#4435d0,#4330c5,#412cb9,#3f29b1,#3e27ac,#3e27a9,#3e26a9,#3e26a8)"></i>
<i style="width:140px;background:linear-gradient(90deg,#412dbc,#412dbc,#412dbd,#412ebe,#422ebf,#422fc1,#4230c4,#4331c6,#4331c8,#4332c9,#4332c8,#4331c7,#4330c5,#4230c4,#4230c4,#4331c6,#4433cb,#4435d1,#4538d7,#4539d9,#4538d8,#4535d2,#4331c7,#412dbb,#3f29b2,#3e28ac,#3e27aa,#3e26a9,#3e26a8)"></i>
<i style="width:135px;background:linear-gradient(90deg,#412dbc,#412dbc,#412dbd,#412ebe,#422ebf,#422fc1,#4230c4,#4331c6,#4331c8,#4332c9,#4332c9,#4331c8,#4331c7,#4331c7,#4332c8,#4433cc,#4535d2,#4538d7,#4639da,#4539d9,#4536d4,#4332ca,#412dbd,#402ab3,#3f28ad,#3e27aa,#3e26a9,#3e26a8)"></i>
<i style="width:130px;background:linear-gradient(90deg,#412dbc,#412dbc,#412dbd,#412ebe,#422ebf,#422fc1,#4230c4,#4331c6,#4331c8,#4332c9,#4332c9,#4332c9,#4332c9,#4332cb,#4434ce,#4536d4,#4538d8,#463adb,#4639da,#4537d6,#4433cb,#422ebe,#402ab4,#3f28ad,#3e27aa,#3e26a9,#3e26a8)"></i>
<i style="width:125px;background:linear-gradient(90deg,#412dbc,#412dbc,#412dbd,#412ebe,#422ebf,#422fc1,#4230c4,#4331c6,#4332c8,#4332ca,#4433cb,#4433cc,#4434cd,#4435d0,#4537d5,#4639da,#463bdc,#463adb,#4538d7,#4433cd,#422ec0,#402ab5,#3f28ad,#3e27aa,#3e26a9,#3e26a8)"></i>
<i style="width:120px;background:linear-gradient(90deg,#412dbc,#412dbc,#412dbd,#412ebe,#422ebf,#422fc2,#4230c4,#4331c7,#4332c9,#4433cb,#4434ce,#4434d0,#4536d3,#4538d7,#463adb,#463bde,#463bdd,#4538d8,#4434cf,#422fc1,#402ab5,#3f28ad,#3e27aa,#3e26a9,#3e26a8)"></i>
<i style="width:115px;background:linear-gradient(90deg,#412dbc,#412dbc,#412dbd,#412ebe,#422ec0,#422fc2,#4230c4,#4331c7,#4332cb,#4434ce,#4435d2,#4537d5,#4639d9,#463bdd,#463ddf,#463cdf,#4639da,#4435d0,#422fc2,#402ab5,#3f28ad,#3e27aa,#3e26a9,#3e26a8)"></i>
<i style="width:105px;background:linear-gradient(90deg,#412dbc,#412dbc,#412dbd,#412ebe,#422ec0,#422fc2,#4330c5,#4332c9,#4433cd,#4535d2,#4538d7,#463adc,#463ddf,#473ee1,#463ee1,#463bdc,#4435d2,#422fc2,#402ab5,#3f28ad,#3e27a9,#3e26a8)"></i>
<i style="width:100px;background:linear-gradient(90deg,#412dbc,#412dbc,#412dbd,#412ebe,#422ec0,#422fc2,#4331c6,#4433cb,#4435d1,#4538d7,#463bdd,#473ee1,#4740e4,#473fe3,#463cdf,#4536d3,#4230c3,#402ab5,#3f28ad,#3e27a9,#3e26a8)"></i>
<i style="width:95px;background:linear-gradient(90deg,#412dbc,#412dbc,#412dbd,#422ebe,#422fc0,#4230c4,#4332c9,#4434d0,#4538d7,#463cde,#473fe3,#4742e6,#4741e5,#463ee1,#4537d5,#4230c4,#402ab5,#3e28ac,#3e27a9,#3e26a8)"></i>
<i style="width:90px;background:linear-gradient(90deg,#412dbc,#412dbc,#412dbd,#422ebf,#422fc2,#4331c6,#4433cd,#4537d6,#463bdd,#4740e3,#4743e7,#4743e7,#4740e4,#4538d8,#4330c5,#402ab5,#3e27ac,#3e26a9,#3e26a8)"></i>
<i style="width:85px;background:linear-gradient(90deg,#412dbc,#412dbd,#412ebe,#422fc0,#4230c4,#4432cb,#4536d3,#463bdc,#4740e3,#4743e8,#4745e9,#4742e6,#463adb,#4331c6,#402ab5,#3e27ab,#3e26a9,#3e26a8)"></i>
<i style="width:80px;background:linear-gradient(90deg,#412dbc,#412dbd,#412ebe,#422fc0,#4330c5,#4433cc,#4537d5,#463bdd,#4740e4,#4744e8,#4745e9,#4741e5,#4538d8,#4230c3,#402ab3,#3e27aa,#3e26a8)"></i>
<i style="width:80px;background:linear-gradient(90deg,#412dbc,#412dbd,#412ebe,#422fc0,#4330c5,#4433cc,#4537d5,#463bdd,#4740e4,#4744e8,#4745e9,#4741e5,#4538d8,#4230c3,#402ab3,#3e27aa,#3e26a8)"></i>
<i style="width:80px;background:linear-gradient(90deg,#412dbc,#412dbd,#412ebe,#422fc0,#4330c5,#4433cc,#4537d5,#463bdd,#4740e4,#4744e8,#4745e9,#4741e5,#4538d8,#4230c3,#402ab3,#3e27aa,#3e26a8)"></i>
</div>
<svg class="ov" width="642" height="532.7" viewBox="0 0 642 532.7"><line x1="32.6" y1="532.7" x2="336.3" y2="0.0" stroke="#fff" stroke-width="3.6" stroke-dasharray="17.7 17.6" stroke-dashoffset="6"/></svg>
</div>
<div class="cb" style="left:768px;top:797px;background:linear-gradient(0deg,#3e26a8,#422ebf,#4536d5,#4741e5,#484cef,#4757f7,#4562fc,#3f6efe,#347afd,#2e85f8,#2c90f0,#269ae9,#21a3e3,#1aacdd,#0cb3d3,#01b9c6,#12beb9,#28c2ab,#34c79c,#44ca8a,#5ccc76,#77cc60,#94ca4a,#afc637,#c8c129,#debc2a,#f1ba37,#febe3c,#feca33,#f9d62d,#f5e327,#f6ef20,#f9fb15)"></div>
<div class="ctk" style="left:799px;top:1225.2px"></div>
<div class="t cl" style="left:814px;top:1227.1px">0.02</div>
<div class="ctk" style="left:799px;top:1120.55px"></div>
<div class="t cl" style="left:814px;top:1122.45px">0.04</div>
<div class="ctk" style="left:799px;top:1015.9px"></div>
<div class="t cl" style="left:814px;top:1017.8px">0.06</div>
<div class="ctk" style="left:799px;top:911.25px"></div>
<div class="t cl" style="left:814px;top:913.15px">0.08</div>
<div class="ctk" style="left:799px;top:806.6px"></div>
<div class="t cl" style="left:814px;top:808.5px">0.1</div>
<div class="t xl" style="left:240.3px;top:1362.5px">2</div>
<div class="t xl" style="left:375.3px;top:1362.5px">4</div>
<div class="t xl" style="left:510.3px;top:1362.5px">6</div>
<div class="t xl" style="left:645.3px;top:1362.5px">8</div>
<div class="t yl" style="left:96.5px;top:1272.51px">1</div>
<div class="t yl" style="left:96.5px;top:1154.13px">2</div>
<div class="t yl" style="left:96.5px;top:1035.76px">3</div>
<div class="t yl" style="left:96.5px;top:917.378px">4</div>
<div class="t yl" style="left:96.5px;top:799px">5</div>
<div class="t xlab" style="left:431px;top:1405px">k<sub>x</sub>/2<span class="m pi">π</span><span class="gap"></span><span class="un">(1/<span class="m mu">μ</span>m)</span></div>
<div class="t ylab" style="left:53.5px;top:1064px"><span class="m om">ω</span>/2<span class="m pi">π</span>/c<span class="gap"></span><span class="un">(1/<span class="m mu">μ</span>m)</span></div>
<div class="pl" style="left:-5px;top:784.8px">(c)</div>
<div class="plot" style="left:1033px;top:797px">
<div class="rows">
<i style="width:395px;background:linear-gradient(90deg,#4dcc82,#4dcc82,#4ecc82,#4ecc81,#4fcc81,#4fcc80,#50cc7f,#51cc7f,#52cc7e,#53cc7d,#55cc7c,#56cc7b,#58cc79,#59cc78,#5bcc76,#5dcc75,#5fcd73,#61cd71,#63cd6f,#66cd6d,#68cd6b,#6ccd68,#71cd64,#78cc5f,#80cc59,#88cb53,#90ca4d,#99c946,#a2c83f,#abc739,#b3c534,#bac430,#c2c22c,#cac129,#d2bf27,#d9be28,#e0bc2a,#e7bb2e,#edba33,#f2ba38,#f7ba3c,#fbbc3d,#febe3c,#fec13a,#fec437,#fec735,#fdcb33,#fdce31,#fcd12f,#fad42e,#f9d72d,#f8d92b,#f7dc2a,#f6de29,#f6e029,#f5e128,#f5e327,#f5e427,#f5e526,#f5e626,#f5e725,#f5e825,#f5e825,#f5ea24,#f5eb23,#f5ed21,#f6f01f,#f5e725,#f8d92c,#f7db2b,#feca33,#c1c32c,#30c5a2,#249fe6,#426afe,#4745e9,#4332ca,#402ab5,#3e27ab,#3e26a8)"></i>
<i style="width:395px;background:linear-gradient(90deg,#4dcc82,#4dcc82,#4ecc82,#4ecc81,#4fcc81,#4fcc80,#50cc7f,#51cc7f,#52cc7e,#53cc7d,#55cc7c,#56cc7b,#58cc79,#59cc78,#5bcc76,#5dcc75,#5fcd73,#61cd71,#63cd6f,#66cd6d,#68cd6b,#6ccd68,#71cd64,#78cc5f,#80cc59,#88cb53,#90ca4d,#99c946,#a2c83f,#abc739,#b3c534,#bac430,#c2c22c,#cac129,#d2bf27,#d9be28,#e0bc2a,#e7bb2e,#edba33,#f2ba38,#f7ba3c,#fbbc3d,#febe3c,#fec13a,#fec437,#fec735,#fdcb33,#fdce31,#fcd12f,#fad42e,#f9d72d,#f8d92b,#f7dc2a,#f6de29,#f6e029,#f5e128,#f5e327,#f5e427,#f5e526,#f5e626,#f5e725,#f5e825,#f5e825,#f5ea24,#f5eb23,#f5ed21,#f6f01f,#f5e725,#f8d92c,#f7db2b,#feca33,#c1c32c,#30c5a2,#249fe6,#426afe,#4745e9,#4332ca,#402ab5,#3e27ab,#3e26a8)"></i>
<i style="width:395px;background:linear-gradient(90deg,#4dcc82,#4dcc82,#4ecc82,#4ecc81,#4fcc81,#4fcc80,#50cc7f,#51cc7f,#52cc7e,#53cc7d,#55cc7c,#56cc7b,#58cc79,#59cc78,#5bcc76,#5dcc75,#5fcd73,#61cd71,#63cd6f,#66cd6d,#68cd6b,#6ccd68,#71cd64,#78cc5f,#80cc59,#88cb53,#90ca4d,#99c946,#a2c83f,#abc739,#b3c534,#bac430,#c2c22c,#cac129,#d2bf27,#d9be28,#e0bc2a,#e7bb2e,#edba33,#f2ba38,#f7ba3c,#fbbc3d,#febe3c,#fec13a,#fec437,#fec735,#fdcb33,#fdce31,#fcd12f,#fad42e,#f9d72d,#f8d92b,#f7dc2a,#f6de29,#f6e029,#f5e128,#f5e327,#f5e427,#f5e526,#f5e626,#f5e725,#f5e825,#f5e825,#f5ea24,#f5eb23,#f5ed21,#f6f01f,#f5e725,#f8d92c,#f7db2b,#feca33,#c1c32c,#30c5a2,#249fe6,#426afe,#4745e9,#4332ca,#402ab5,#3e27ab,#3e26a8)"></i>
<i style="width:395px;background:linear-gradient(90deg,#4dcc82,#4dcc82,#4ecc81,#4ecc81,#4fcc81,#4fcc80,#50cc7f,#51cc7f,#52cc7e,#53cc7d,#55cc7c,#56cc7b,#58cc79,#59cc78,#5bcc76,#5dcc75,#5fcd73,#61cd71,#63cd6f,#66cd6d,#69cd6b,#6dcd68,#72cd64,#79cc5f,#81cc59,#89cb52,#92ca4c,#9bc945,#a4c83e,#adc638,#b5c533,#bdc32e,#c5c22a,#cdc028,#d5be28,#ddbd29,#e4bb2c,#ebba31,#f1ba37,#f7ba3c,#fbbc3d,#febe3c,#fec13a,#fec537,#fec835,#fdcc32,#fccf30,#fbd22f,#fad52d,#f9d82c,#f7db2b,#f6dd29,#f6df29,#f5e128,#f5e327,#f5e426,#f5e526,#f5e625,#f5e725,#f5e825,#f5e825,#f5e924,#f5ea24,#f5eb23,#f5ec22,#f5ef21,#f6f11e,#f5e128,#f7db2a,#f7dc2a,#fec139,#9ac945,#10beba,#2b90ef,#465efb,#473fe2,#4230c4,#3f29b2,#3e27aa,#3e26a8)"></i>
<i style="width:395px;background:linear-gradient(90deg,#4dcc82,#4dcc82,#4ecc81,#4ecc81,#4fcc81,#4fcc80,#50cc7f,#51cc7f,#52cc7e,#54cc7d,#55cc7c,#56cc7a,#58cc79,#5acc78,#5ccc76,#5ecc74,#60cd72,#62cd70,#64cd6e,#67cd6c,#6acd6a,#6fcd66,#74cc62,#7ccc5c,#84cc56,#8dcb4f,#97ca48,#a1c840,#abc739,#b4c533,#bec32e,#c6c22a,#cfc028,#d8be28,#e0bc2b,#e9bb2f,#f0ba36,#f7ba3c,#fcbc3d,#fec03b,#fec338,#fec735,#fdcb33,#fccf30,#fbd32e,#f9d62d,#f8da2b,#f7dd2a,#f6df29,#f5e228,#f5e427,#f5e526,#f5e725,#f5e825,#f5e924,#f5e924,#f5e924,#f5ea24,#f5ea24,#f5e924,#f5e924,#f5e825,#f5e825,#f5e825,#f5ea23,#f5ed21,#f5e725,#f6de29,#f5e426,#fbd32e,#d0bf27,#36c799,#21a3e3,#3f6fff,#4849ed,#4435d1,#412cba,#3f28ad,#3e26a9,#3e26a8)"></i>
<i style="width:390px;background:linear-gradient(90deg,#4dcc82,#4ecc81,#4ecc81,#4ecc81,#4fcc80,#50cc80,#51cc7f,#52cc7e,#53cc7d,#54cc7c,#56cc7b,#57cc7a,#59cc78,#5bcc77,#5dcc75,#5fcd73,#61cd71,#64cd6f,#67cd6c,#6acd6a,#6ecd67,#73cd63,#7acc5e,#82cc58,#8bcb51,#95ca49,#a0c841,#abc739,#b6c532,#c1c32c,#cbc129,#d4bf28,#debd29,#e7bb2e,#efba35,#f7ba3c,#fcbd3d,#fec13a,#fec636,#feca33,#fccf31,#fbd32e,#f9d72d,#f8da2b,#f6de29,#f6e128,#f5e327,#f5e526,#f5e725,#f5e825,#f5e924,#f5ea24,#f5ea23,#f5ea23,#f5ea24,#f5e924,#f5e725,#f5e626,#f5e327,#f6e128,#f6df29,#f7dd2a,#f7dd2a,#f6df29,#f5e427,#f5e725,#f6df29,#f5e725,#f5e228,#f5ba3a,#64cd6f,#0db3d3,#2f81fa,#4755f6,#463cde,#4230c3,#402ab3,#3e27ab,#3e26a8)"></i>
<i style="width:390px;background:linear-gradient(90deg,#4ecc81,#4ecc81,#4fcc81,#4fcc80,#50cc80,#51cc7f,#52cc7e,#53cc7d,#54cc7c,#55cc7b,#57cc7a,#59cc78,#5bcc77,#5dcc75,#5fcd73,#62cd71,#65cd6e,#68cd6b,#6ccd68,#70cd65,#75cc61,#7ccc5c,#84cc56,#8dcb4f,#98c947,#a4c83e,#afc636,#bcc42f,#c7c129,#d2bf27,#ddbd29,#e6bb2d,#efba35,#f8ba3d,#fdbd3d,#fec339,#fec835,#fdcd31,#fbd22f,#f9d62d,#f8db2b,#f6de29,#f5e128,#f5e427,#f5e626,#f5e825,#f5e924,#f5ea23,#f5eb23,#f5eb23,#f5ea23,#f5e924,#f5e825,#f5e526,#f5e227,#f6df29,#f7db2b,#f9d72d,#fbd22f,#fccf30,#fdcc32,#fdcc32,#fccf30,#fad62d,#f6e028,#f6df29,#f5e625,#f5ea23,#fec835,#9ec942,#11beba,#2a92ee,#4563fc,#4744e9,#4434cf,#412cbb,#3f28af,#3e27a9,#3e26a8)"></i>
<i style="width:385px;background:linear-gradient(90deg,#50cc80,#50cc80,#50cc7f,#51cc7f,#52cc7e,#53cc7e,#54cc7d,#55cc7c,#56cc7a,#58cc79,#5acc77,#5ccc75,#5fcd73,#61cd71,#65cd6e,#68cd6b,#6ccd68,#71cd64,#76cc60,#7ccc5c,#83cc57,#8bcb51,#95ca49,#a0c841,#acc738,#b9c431,#c6c22a,#d2bf27,#ddbd29,#e8bb2f,#f1ba37,#f9bb3d,#febf3b,#fec537,#fdca33,#fcd030,#fad52d,#f8da2b,#f6de29,#f5e128,#f5e426,#f5e725,#f5e825,#f5ea24,#f5eb23,#f5eb23,#f5eb23,#f5ea24,#f5e825,#f5e626,#f5e327,#f6df29,#f7db2b,#fad62d,#fcd130,#fdcb33,#fec636,#fec13a,#fcbd3d,#f9bb3d,#f9bb3d,#fcbd3d,#fec537,#fbd22f,#f7dc2a,#f5e526,#f5ed21,#f9d82c,#cec028,#33c69d,#21a2e4,#3c72ff,#484ef1,#463ada,#4230c4,#402ab5,#3e27ab,#3e26a8)"></i>
<i style="width:385px;background:linear-gradient(90deg,#53cc7d,#53cc7d,#54cc7d,#55cc7c,#56cc7b,#57cc7a,#58cc79,#5acc77,#5ccc76,#5ecd74,#61cd72,#64cd6f,#67cd6c,#6bcd69,#6fcd65,#75cc61,#7bcc5d,#81cc58,#88cb53,#90ca4d,#99c946,#a3c83f,#aec637,#bbc430,#c8c129,#d4bf28,#e0bc2a,#ebba32,#f5ba3a,#fcbd3d,#fec239,#fec835,#fdce31,#fbd32e,#f8d82c,#f7dd2a,#f6e128,#f5e427,#f5e725,#f5e824,#f5ea24,#f5eb23,#f5eb23,#f5ea23,#f5e924,#f5e725,#f5e427,#f6e028,#f7dc2a,#f9d72c,#fbd22f,#fdcc32,#fec636,#fec03b,#fabb3d,#f2ba38,#e8bb2f,#dfbc2a,#d9be28,#d8be28,#e0bc2a,#f1ba37,#fec338,#fad62d,#f5e327,#f5ed21,#f5e327,#efba35,#57cc7a,#12b1d7,#2f82fa,#4759f8,#4741e5,#4434ce,#412dbc,#3f29b0,#3e27aa,#3e26a8)"></i>
<i style="width:385px;background:linear-gradient(90deg,#5acc77,#5bcc77,#5bcc76,#5ccc75,#5ecc74,#5fcd73,#61cd71,#64cd6f,#66cd6d,#6acd6a,#6ecd67,#72cd63,#77cc60,#7dcc5b,#83cc57,#8bcb51,#92ca4b,#9bc945,#a4c83e,#aec637,#b8c431,#c3c22b,#cfc028,#dbbd28,#e6bb2d,#f0ba36,#fabb3d,#fec03b,#fec636,#fdcc32,#fbd22f,#f9d72c,#f7dc2a,#f6e028,#f5e427,#f5e626,#f5e825,#f5ea24,#f5ea23,#f5ea23,#f5ea24,#f5e825,#f5e526,#f5e227,#f6de29,#f8d92b,#fad42e,#fdce31,#fec834,#fec239,#fcbd3d,#f5ba3a,#eaba31,#debc2a,#d1bf27,#c4c22b,#b7c532,#aec637,#adc638,#b9c431,#d3bf27,#f4ba39,#fdcc32,#f6df29,#f5ed22,#f5e825,#fec13a,#87cb54,#04bbc2,#2b90ef,#4465fd,#4849ed,#4538d8,#4230c4,#402bb6,#3e28ad,#3e26a9,#3e26a8)"></i>
<i style="width:380px;background:linear-gradient(90deg,#67cd6c,#68cd6b,#69cd6a,#6bcd69,#6dcd68,#6fcd66,#72cd63,#76cc60,#7acc5d,#7fcc5a,#85cb55,#8bcb51,#92ca4c,#99c946,#a1c840,#aac73a,#b3c534,#bdc32e,#c7c12a,#d1bf27,#dbbd29,#e5bb2d,#efba35,#f8ba3d,#febe3c,#fec537,#fdcb33,#fcd12f,#f9d72d,#f7dc2a,#f6e028,#f5e327,#f5e626,#f5e825,#f5e924,#f5ea24,#f5ea24,#f5e924,#f5e625,#f5e427,#f6e028,#f7db2a,#f9d62d,#fcd030,#fdca33,#fec437,#febe3c,#f8ba3d,#efba35,#e4bb2c,#d8be28,#cac129,#bac430,#aac73a,#99c946,#8acb51,#80cc59,#80cc59,#8ecb4e,#afc636,#ddbd29,#fec139,#f8da2b,#f5eb23,#f5ea23,#fdcc32,#b2c535,#28c2ab,#249ee6,#3c72ff,#4852f4,#473ee2,#4434cd,#412dbd,#3f29b1,#3e27aa,#3e26a8)"></i>
<i style="width:380px;background:linear-gradient(90deg,#80cc59,#81cc58,#83cc57,#85cb55,#88cb53,#8bcb51,#90ca4d,#94ca4a,#9ac945,#a0c841,#a7c73c,#aec637,#b6c532,#bfc32e,#c7c129,#d0bf27,#d9bd28,#e2bc2b,#ebba31,#f3ba39,#fabb3d,#fec03b,#fec537,#fdcb32,#fcd12f,#f9d72d,#f7dc2a,#f6e028,#f5e327,#f5e626,#f5e825,#f5e924,#f5e924,#f5e924,#f5e725,#f5e526,#f5e128,#f7dd2a,#f9d82c,#fbd22f,#fdcc32,#fec636,#fec03b,#fabb3d,#f2ba38,#e8bb2f,#ddbd29,#d0bf27,#c2c22c,#b3c534,#a3c83e,#92ca4b,#81cc58,#70cd65,#62cd70,#59cc78,#59cc78,#67cd6c,#8ccb50,#c3c22b,#f7ba3c,#fad42e,#f5e924,#f5ec22,#fad42e,#d3bf27,#3cc992,#1babde,#307ffb,#475bf9,#4745e9,#4538d7,#4330c5,#402bb7,#3f28ad,#3e26a9,#3e26a8)"></i>
<i style="width:375px;background:linear-gradient(90deg,#a4c83e,#a5c83d,#a7c73c,#aac73a,#aec637,#b2c635,#b6c532,#bcc42f,#c2c22c,#c8c129,#cfc028,#d6be28,#debd29,#e5bb2d,#edba33,#f4ba39,#fabb3d,#febf3c,#fec438,#fec934,#fdce31,#fbd32e,#f8d82c,#f7dd2a,#f6e128,#f5e427,#f5e626,#f5e825,#f5e924,#f5e924,#f5e825,#f5e626,#f5e327,#f6df29,#f8da2b,#fad42e,#fdce31,#fec835,#fec239,#fbbc3d,#f3ba39,#e9bb30,#debd29,#d2bf27,#c5c22a,#b7c532,#a9c73b,#9ac945,#8bcb51,#7bcc5d,#6bcd69,#5dcc75,#50cc80,#45cb89,#3eca8f,#3fca8e,#4bcb84,#6ccd68,#a9c73b,#e8bb2f,#fdce31,#f5e725,#f5ee21,#f8da2b,#e9bb2f,#5ccc76,#07b5cf,#2d8bf3,#4465fd,#484df0,#463ddf,#4433cd,#412ebd,#3f29b2,#3e27ab,#3e26a8)"></i>
<i style="width:375px;background:linear-gradient(90deg,#cfc028,#d0bf27,#d2bf27,#d4be28,#d8be28,#dcbd29,#e0bc2a,#e5bb2c,#eabb30,#efba35,#f4ba3a,#f9bb3d,#fdbd3d,#fec13a,#fec537,#feca33,#fdce31,#fbd32e,#f9d72c,#f7dc2a,#f6df29,#f5e227,#f5e526,#f5e725,#f5e825,#f5e825,#f5e825,#f5e725,#f5e427,#f6e128,#f7dc2a,#f9d72d,#fcd12f,#feca33,#fec338,#fdbd3d,#f5ba3a,#eaba31,#debd29,#d1bf27,#c3c22b,#b5c533,#a6c83c,#98c947,#8acb52,#7ccc5c,#6fcd66,#62cd70,#57cc7a,#4bcb83,#41ca8c,#39c994,#34c79b,#32c69f,#32c69e,#39c995,#55cc7c,#91ca4d,#d9be28,#fec736,#f5e327,#f5ee21,#f6df29,#f6ba3b,#7fcc5a,#09bcbe,#2797eb,#3e6fff,#4854f5,#4743e7,#4537d6,#4330c5,#402bb8,#3f28ae,#3e27a9,#3e26a8)"></i>
<i style="width:370px;background:linear-gradient(90deg,#f5ba3a,#f6ba3b,#f7ba3c,#f9bb3d,#fbbc3d,#fdbd3d,#febf3c,#fec13a,#fec437,#fec735,#fdcb33,#fdce31,#fbd22f,#fad62d,#f8d92b,#f7dd2a,#f6e028,#f5e327,#f5e526,#f5e725,#f5e825,#f5e825,#f5e825,#f5e725,#f5e526,#f5e228,#f6de29,#f8d92b,#fbd32e,#fdcd32,#fec636,#febf3b,#f8ba3d,#ecba33,#dfbc2a,#d1bf27,#c1c32c,#b1c636,#a0c841,#90ca4d,#81cc58,#73cd63,#66cd6d,#5bcc76,#52cc7e,#49cb85,#41ca8c,#3bc992,#36c899,#32c69f,#2ec5a4,#2ac3a8,#28c2ab,#29c3aa,#30c5a1,#43ca8a,#7bcc5d,#c9c129,#fec03b,#f6df29,#f5ee21,#f5e427,#febe3c,#9ec942,#26c2ad,#22a2e4,#337bfd,#475cfa,#4849ed,#463cde,#4433cd,#412ebe,#402ab3,#3e27ab,#3e26a8)"></i>
<i style="width:370px;background:linear-gradient(90deg,#fdcc32,#fdcc32,#fdcd31,#fdce31,#fcd030,#fbd22f,#fad42e,#f9d62d,#f8d92c,#f7db2b,#f6de29,#f6e028,#f5e227,#f5e427,#f5e626,#f5e725,#f5e825,#f5e825,#f5e825,#f5e725,#f5e526,#f5e227,#f6df29,#f8db2b,#fad52d,#fccf30,#fec934,#fec239,#fabc3d,#f0ba36,#e3bc2c,#d4bf27,#c2c22c,#b0c636,#9dc943,#8acb52,#78cc5f,#67cd6c,#59cc78,#4dcc82,#44cb8a,#3dc991,#38c896,#34c79b,#31c69f,#2fc5a3,#2cc4a7,#29c3aa,#25c2ae,#20c1b1,#1cc0b4,#19bfb5,#1dc0b3,#29c3aa,#38c896,#68cd6b,#b8c431,#fabb3d,#f7db2b,#f5ed22,#f5e725,#fec537,#b5c533,#35c79b,#1aacdd,#2e85f8,#4564fd,#484ff2,#4741e4,#4537d5,#4330c5,#402cb8,#3f28af,#3e27a9,#3e26a8)"></i>
<i style="width:365px;background:linear-gradient(90deg,#f6de29,#f6df29,#f6df29,#f6e028,#f5e128,#f5e227,#f5e327,#f5e526,#f5e626,#f5e725,#f5e725,#f5e825,#f5e825,#f5e825,#f5e725,#f5e626,#f5e426,#f5e228,#f6df29,#f7db2b,#fad62d,#fcd030,#feca33,#fec338,#fdbd3d,#f4ba39,#e7bb2e,#d8be28,#c7c12a,#b3c534,#9fc942,#89cb52,#74cd62,#61cd72,#50cc7f,#42ca8b,#39c895,#33c79d,#2fc5a3,#2ac3a8,#26c2ac,#22c1b0,#1ec0b2,#1ac0b5,#17bfb6,#14beb8,#11beba,#0dbdbb,#0abdbd,#09bcbe,#09bcbe,#0dbdbb,#1dc0b3,#31c6a0,#58cc79,#a8c73b,#f1ba37,#fad62d,#f5ec22,#f5ea23,#fdcc32,#c9c129,#46cb88,#0bb4d2,#2c8ff1,#406cfe,#4755f6,#4746ea,#463bdc,#4433cd,#412ebe,#402ab3,#3e27ac,#3e26a8)"></i>
<i style="width:365px;background:linear-gradient(90deg,#f5e825,#f5e825,#f5e825,#f5e825,#f5e825,#f5e825,#f5e825,#f5e825,#f5e725,#f5e725,#f5e526,#f5e427,#f5e227,#f6df29,#f7dc2a,#f8d92c,#fad42e,#fccf30,#feca34,#fec338,#fdbd3d,#f5ba3b,#eabb30,#dcbd29,#cbc029,#b8c431,#a3c83e,#8dcb4f,#76cc61,#61cd72,#4ecc82,#3eca8f,#35c79b,#2ec4a4,#26c2ad,#1cc0b3,#12beb9,#0abdbe,#05bbc1,#02bac4,#01b9c6,#01b9c7,#01b9c8,#01b8c8,#01b8c8,#01b8c8,#01b8c9,#01b8c9,#01b8c9,#01b9c8,#02bac4,#0ebdbb,#2ac3a9,#48cb86,#96ca49,#e6bb2d,#fcd030,#f5ea24,#f5ed22,#fbd32e,#dabd28,#5ccc76,#01bac5,#2798ea,#3875fe,#475cfa,#484bef,#473fe3,#4536d4,#4330c5,#412cb8,#3f28af,#3e27aa,#3e26a8)"></i>
<i style="width:365px;background:linear-gradient(90deg,#f5e526,#f5e526,#f5e427,#f5e327,#f5e327,#f5e228,#f6e028,#f6de29,#f7dc2a,#f8da2b,#f9d72d,#fbd32e,#fccf30,#fdcb33,#fec636,#fec13a,#fbbc3d,#f3ba39,#e9bb2f,#dcbd29,#ccc028,#bbc430,#a7c73c,#91ca4c,#7acc5d,#64cd6f,#50cc80,#3eca8f,#34c79c,#2cc4a7,#20c1b1,#11beb9,#05bbc1,#01b9c7,#04b6cc,#08b4d1,#0eb3d4,#11b1d6,#13b0d7,#14b0d8,#14b0d8,#14b0d8,#13b0d7,#12b1d7,#11b1d6,#10b2d5,#0eb2d4,#0db3d3,#09b4d1,#04b6cd,#02bac4,#1dc0b3,#3bc993,#82cc58,#d9be28,#feca33,#f5e725,#f5ee21,#f8da2b,#e9bb2f,#71cd64,#13beb9,#23a0e5,#317efb,#4563fc,#4851f3,#4744e8,#463adb,#4433cc,#412ebe,#402ab3,#3e27ac,#3e26a9,#3e26a8)"></i>
<i style="width:360px;background:linear-gradient(90deg,#fad52d,#fad52e,#fad42e,#fbd22f,#fcd130,#fccf31,#fdcc32,#fec934,#fec636,#fec239,#febe3c,#fabb3d,#f4ba39,#ebba32,#e1bc2b,#d5be28,#c7c12a,#b7c532,#a5c83e,#91ca4d,#7bcc5d,#66cd6e,#52cc7e,#40ca8d,#35c79b,#2cc4a7,#20c1b1,#0ebebb,#02bac4,#03b7cb,#0bb3d2,#14b0d8,#19addc,#1caadf,#1ea8e1,#1fa6e2,#20a5e3,#20a4e3,#20a4e3,#20a4e3,#20a5e2,#1fa6e2,#1ea7e1,#1da8e0,#1caadf,#1babde,#19acdc,#17aeda,#12b1d6,#05b6cd,#0bbdbd,#31c69f,#6ccd68,#c9c129,#fec438,#f5e327,#f5ef21,#f6df29,#f5ba3b,#89cb52,#26c2ac,#1da8e0,#2e86f7,#426afe,#4756f7,#4849ed,#463ee1,#4536d3,#4230c4,#402cb8,#3f28af,#3e27aa,#3e26a8)"></i>
<i style="width:360px;background:linear-gradient(90deg,#fdbd3d,#fcbc3d,#fabc3d,#f9bb3d,#f6ba3b,#f2ba38,#eeba34,#e8bb2f,#e1bc2b,#d9bd28,#d0c027,#c5c22a,#b8c431,#a9c73a,#99c946,#87cb54,#74cc62,#61cd71,#4fcc80,#3fca8e,#35c79b,#2dc4a6,#21c1b1,#0fbeba,#02bac4,#03b7cc,#0eb2d4,#17aeda,#1caadf,#1fa6e2,#22a2e4,#249fe6,#259ce7,#269ae9,#2698ea,#2798ea,#2797ea,#2798ea,#2699ea,#269ae9,#259be8,#259de7,#249fe6,#23a0e5,#22a2e4,#20a4e3,#1ea7e1,#1babde,#13b0d7,#01b9c8,#27c2ac,#56cc7a,#b6c532,#fdbd3d,#f6df29,#f5ee21,#f5e427,#febe3c,#a1c840,#30c5a1,#16afd9,#2c8ef1,#3d71ff,#475cfa,#484ef1,#4742e6,#4639d9,#4433cb,#412ebe,#402ab3,#3e27ac,#3e26a9,#3e26a8)"></i>
<i style="width:355px;background:linear-gradient(90deg,#cac129,#c8c129,#c5c22a,#c1c32c,#bcc42f,#b5c533,#adc638,#a4c83e,#99c946,#8dcb50,#7fcc5a,#70cd65,#62cd71,#53cc7d,#45cb89,#3ac994,#32c69f,#2ac3a9,#1ec0b2,#0dbdbb,#02bac4,#04b6cc,#0eb2d4,#17aedb,#1ca9df,#20a4e3,#23a0e5,#259be7,#2798ea,#2994ed,#2b91ef,#2c8ff1,#2d8df2,#2d8cf3,#2d8cf3,#2d8cf3,#2d8cf3,#2d8df2,#2c8ff1,#2b91ef,#2a93ee,#2895ec,#2797eb,#2699e9,#259ce7,#249fe6,#21a3e3,#1caadf,#0cb3d2,#13beb9,#41ca8c,#9fc941,#f3ba39,#f8d92b,#f5ed21,#f5e825,#fec636,#b6c532,#3ac993,#09b4d1,#2895ec,#3678fd,#4562fc,#4853f4,#4747eb,#463ddf,#4435d2,#4230c3,#402bb8,#3f28af,#3e27aa,#3e26a8)"></i>
<i style="width:355px;background:linear-gradient(90deg,#78cc5f,#75cc61,#71cd64,#6ccd68,#66cd6d,#5fcd73,#57cc7a,#4ecc81,#45cb89,#3dc991,#36c899,#31c5a1,#2ac3a8,#21c1b0,#14bfb8,#07bcc0,#01b9c7,#06b5ce,#10b2d5,#18addb,#1da9e0,#20a4e3,#249fe5,#269ae8,#2896eb,#2b92ee,#2c8ef1,#2d8bf4,#2d88f6,#2e85f8,#2e83f9,#2f82fa,#2f81fa,#2f81fa,#2f81fa,#2f82fa,#2e83f9,#2e85f8,#2e87f7,#2d89f5,#2d8bf4,#2c8ef2,#2b90f0,#2a93ee,#2896eb,#269ae8,#22a1e4,#19acdc,#01bac6,#33c69d,#85cb55,#e5bb2d,#fbd32f,#f5eb23,#f5eb23,#fdcd31,#cbc129,#4bcb84,#01b9c8,#259ce7,#307ffb,#4367fd,#4757f7,#484bef,#4741e5,#4538d8,#4332ca,#412dbd,#402ab3,#3e27ac,#3e26a9,#3e26a8)"></i>
<i style="width:350px;background:linear-gradient(90deg,#33c79d,#32c69e,#31c6a0,#2fc5a3,#2dc4a6,#29c3aa,#24c1ae,#1dc0b3,#14bfb8,#0abdbd,#02bbc3,#01b8c9,#06b5ce,#0eb2d4,#16afd9,#1babde,#1ea7e1,#21a2e4,#249ee6,#269ae9,#2895ec,#2b91ef,#2d8df2,#2d89f5,#2e85f8,#2f82f9,#307ffb,#317dfc,#337bfd,#3579fd,#3678fe,#3677fe,#3777fe,#3678fe,#3579fd,#347afd,#327cfc,#317efb,#3080fa,#2f82f9,#2e85f8,#2e87f7,#2d8af4,#2d8df2,#2b92ee,#2699e9,#20a4e3,#0bb4d2,#26c2ad,#68cd6b,#d3bf27,#fdcb33,#f5e825,#f5ec22,#fad42e,#ddbd29,#60cd72,#09bcbe,#22a2e4,#2e85f8,#406dfe,#475cfa,#4850f2,#4745e9,#463cde,#4435d0,#422fc2,#402bb7,#3f28af,#3e27aa,#3e26a8)"></i>
<i style="width:350px;background:linear-gradient(90deg,#01b9c6,#01b9c7,#01b8c8,#01b8ca,#04b6cd,#07b5cf,#0cb3d3,#11b1d6,#16afd9,#19acdc,#1ca9df,#1fa6e2,#21a3e4,#249fe5,#259be8,#2797ea,#2994ed,#2c90f0,#2d8cf3,#2d88f6,#2e84f8,#2f81fa,#317efb,#337bfd,#3678fe,#3875fe,#3a73fe,#3c72ff,#3d70ff,#3e6fff,#3e6fff,#3e6fff,#3e70ff,#3d71ff,#3c72ff,#3a73fe,#3875fe,#3677fe,#347afd,#327cfc,#307ffb,#2f82fa,#2e85f8,#2d89f5,#2b90ef,#259ce7,#19acdc,#0dbdbc,#4ecc81,#bec32e,#fec338,#f5e426,#f5ed21,#f8da2b,#ecba32,#77cc60,#1bc0b4,#1da8e0,#2d8bf3,#3b73fe,#4561fc,#4854f5,#4849ed,#473fe3,#4537d6,#4332c8,#412dbc,#3f29b2,#3e27ac,#3e26a9,#3e26a8)"></i>
<i style="width:345px;background:linear-gradient(90deg,#1ea8e1,#1ea7e1,#1fa6e2,#20a5e2,#21a4e3,#22a2e4,#23a0e5,#249ee6,#259be8,#2699ea,#2896ec,#2a93ee,#2c90f0,#2d8df3,#2d89f5,#2e86f7,#2e83f9,#3080fb,#317dfc,#347afd,#3777fe,#3a74fe,#3c71ff,#3e6fff,#3f6dfe,#406cfe,#416bfe,#426afe,#4269fe,#4269fe,#4269fe,#426afe,#416bfe,#416cfe,#406dfe,#3f6eff,#3d70ff,#3b72fe,#3975fe,#3777fe,#347afd,#317dfc,#2f81fa,#2d88f6,#2a93ee,#21a4e3,#01b8c9,#38c895,#a4c83e,#fbbc3d,#f6df29,#f5ed21,#f6df29,#f8ba3d,#90ca4d,#2ac3a9,#19addc,#2b91ef,#3579fd,#4465fd,#4758f8,#484df0,#4743e7,#463adc,#4434ce,#422fc1,#402bb6,#3f28ae,#3e27a9,#3e26a8)"></i>
<i style="width:340px;background:linear-gradient(90deg,#2994ed,#2994ed,#2a93ee,#2b92ee,#2b91ef,#2c8ff1,#2d8df2,#2d8bf3,#2d89f5,#2e87f7,#2e85f8,#2f82f9,#3080fb,#317dfc,#337afd,#3678fe,#3875fe,#3b73fe,#3d70ff,#3f6eff,#406cfe,#416bfe,#4269fe,#4368fe,#4367fd,#4466fd,#4465fd,#4465fd,#4465fd,#4465fd,#4465fd,#4466fd,#4367fd,#4368fe,#4269fe,#416bfe,#406cfe,#3f6eff,#3d70ff,#3b72fe,#3875fe,#3479fd,#3080fa,#2d8bf4,#259be8,#11b1d6,#2cc4a7,#87cb54,#eeba35,#f8d92b,#f5ed22,#f5e327,#febf3b,#a8c73b,#34c79c,#0fb2d5,#2797eb,#317efb,#426afe,#475cfa,#4851f3,#4747eb,#463ee1,#4536d4,#4331c7,#412dbb,#3f29b2,#3e27ab,#3e26a8)"></i>
<i style="width:340px;background:linear-gradient(90deg,#2e83f9,#2e83f9,#2f82f9,#2f82fa,#2f80fa,#307ffb,#317efb,#327cfc,#337afd,#3579fd,#3777fe,#3975fe,#3b73fe,#3d71ff,#3e6fff,#406dfe,#416bfe,#426afe,#4368fe,#4367fd,#4466fd,#4465fd,#4564fd,#4563fd,#4563fc,#4562fc,#4562fc,#4562fc,#4562fc,#4562fc,#4563fc,#4563fd,#4464fd,#4465fd,#4466fd,#4368fd,#4269fe,#416bfe,#406cfe,#3e6fff,#3b72fe,#3579fd,#2e83f9,#2a93ee,#1caadf,#18bfb6,#69cd6b,#debd29,#fbd22f,#f5eb23,#f5e725,#fec636,#bdc32e,#40ca8d,#04b6cc,#259ce7,#2e83f9,#3e6fff,#4660fb,#4755f6,#484bee,#4741e5,#4639da,#4433cc,#422ebf,#402ab5,#3f28ae,#3e27a9,#3e26a8)"></i>
<i style="width:335px;background:linear-gradient(90deg,#3876fe,#3875fe,#3975fe,#3a74fe,#3a73fe,#3b72ff,#3c71ff,#3d70ff,#3e6fff,#3f6dfe,#406cfe,#416bfe,#426afe,#4368fe,#4367fd,#4466fd,#4465fd,#4564fd,#4563fd,#4562fc,#4562fc,#4561fc,#4661fc,#4660fc,#4660fb,#4660fb,#4660fb,#4660fb,#4660fc,#4660fc,#4561fc,#4562fc,#4562fc,#4563fd,#4464fd,#4465fd,#4366fd,#4368fe,#426afe,#406dfe,#3c72ff,#327cfc,#2d8bf3,#22a2e4,#02bac4,#4ecc81,#c9c129,#feca33,#f5e825,#f5e924,#fdcd32,#cfc028,#53cc7d,#02bbc3,#23a0e5,#2d88f6,#3a73fe,#4564fd,#4758f8,#484ef1,#4745e9,#463cde,#4435d2,#4330c4,#412cb9,#3f29b1,#3e27ab,#3e26a8)"></i>
<i style="width:335px;background:linear-gradient(90deg,#416cfe,#416bfe,#416bfe,#416bfe,#426afe,#4269fe,#4369fe,#4368fe,#4367fd,#4466fd,#4466fd,#4465fd,#4564fd,#4563fd,#4562fc,#4562fc,#4561fc,#4660fc,#4660fb,#4660fb,#465ffb,#465ffb,#465ffb,#465efb,#465efb,#465efb,#465efb,#465ffb,#465ffb,#465ffb,#4660fb,#4660fc,#4561fc,#4561fc,#4562fc,#4563fd,#4464fd,#4466fd,#4368fe,#406dfe,#3876fe,#2e85f8,#259be8,#06b5ce,#3bc993,#b3c534,#fec239,#f5e426,#f5eb23,#fbd32e,#e0bc2a,#6bcd69,#14bfb8,#1fa6e1,#2d8df2,#3578fd,#4368fe,#475cfa,#4852f4,#4848ec,#473fe3,#4538d7,#4332ca,#412ebd,#402ab4,#3f28ad,#3e27a9,#3e26a8)"></i>
<i style="width:330px;background:linear-gradient(90deg,#4465fd,#4465fd,#4465fd,#4464fd,#4464fd,#4564fd,#4563fd,#4563fc,#4562fc,#4562fc,#4561fc,#4561fc,#4660fc,#4660fb,#4660fb,#465ffb,#465ffb,#465efb,#465efb,#465efb,#465efb,#465efb,#465dfb,#465dfb,#465dfb,#465dfb,#465efb,#465efb,#465efb,#465efb,#465ffb,#465ffb,#4660fb,#4660fc,#4561fc,#4562fc,#4563fd,#4465fd,#426afe,#3b72ff,#2f81fa,#2797eb,#0fb2d5,#33c69d,#a1c840,#fcbc3d,#f6e028,#f5ec22,#f8da2b,#efba35,#88cb53,#2ac3a9,#17aedb,#2994ed,#307ffb,#406dfe,#4660fb,#4755f6,#484cef,#4743e7,#463adc,#4434cf,#422fc2,#402bb8,#3f29b0,#3e27aa,#3e26a8)"></i>
<i style="width:330px;background:linear-gradient(90deg,#4561fc,#4561fc,#4561fc,#4661fc,#4661fc,#4660fc,#4660fc,#4660fb,#465ffb,#465ffb,#465ffb,#465ffb,#465efb,#465efb,#465efb,#465efb,#465dfb,#465dfa,#465dfa,#465dfa,#465dfa,#465dfa,#465dfa,#465dfa,#465dfa,#465dfa,#465dfa,#465dfa,#465dfb,#465efb,#465efb,#465efb,#465ffb,#465ffb,#4660fb,#4561fc,#4563fd,#4368fe,#3d70ff,#3080fb,#2895ec,#13b0d7,#2fc5a3,#94ca4a,#f6ba3b,#f7dc2a,#f5ec22,#f6df29,#fbbc3d,#a5c83d,#38c895,#06b5ce,#259ce7,#2e86f7,#3a74fe,#4465fd,#475af9,#4850f2,#4746eb,#463ee1,#4537d5,#4331c7,#412dbc,#402ab3,#3e28ac,#3e26a9,#3e26a8)"></i>
<i style="width:325px;background:linear-gradient(90deg,#465ffb,#465ffb,#465ffb,#465ffb,#465efb,#465efb,#465efb,#465efb,#465efb,#465efb,#465dfb,#465dfb,#465dfa,#465dfa,#465dfa,#465dfa,#475dfa,#475dfa,#475cfa,#475cfa,#475cfa,#475cfa,#475cfa,#475cfa,#475cfa,#475dfa,#475dfa,#465dfa,#465dfa,#465dfa,#465dfb,#465efb,#465efb,#465ffb,#4660fc,#4562fc,#4367fd,#3d70ff,#3080fa,#2896ec,#13b0d7,#2dc4a5,#8bcb51,#efba35,#f9d72c,#f5eb23,#f5e427,#fec338,#c0c32d,#52cc7e,#08bcbf,#1fa5e2,#2c8ef1,#327bfc,#416bfe,#465ffb,#4854f6,#484bee,#4741e5,#4639da,#4433cd,#422fc0,#402bb6,#3f28af,#3e27aa,#3e26a8)"></i>
<i style="width:325px;background:linear-gradient(90deg,#465dfb,#465dfb,#465dfb,#465dfb,#465dfa,#465dfa,#465dfa,#465dfa,#465dfa,#465dfa,#475dfa,#475dfa,#475dfa,#475cfa,#475cfa,#475cfa,#475cfa,#475cfa,#475cfa,#475cfa,#475cfa,#475cfa,#475cfa,#475cfa,#475cfa,#475cfa,#475cfa,#475dfa,#475dfa,#465dfa,#465dfa,#465dfb,#465efb,#4660fb,#4562fc,#4367fd,#3c71ff,#2f81fa,#2797ea,#12b1d6,#2dc4a5,#86cb55,#e9bb30,#fbd32e,#f5e924,#f5e725,#fdcb33,#d6be28,#71cd64,#26c2ad,#16afd9,#2797eb,#2e83f9,#3b72ff,#4464fd,#4759f8,#484ff2,#4745e9,#463cdf,#4536d2,#4330c5,#412cba,#3f29b2,#3e27ac,#3e26a9,#3e26a8)"></i>
<i style="width:320px;background:linear-gradient(90deg,#475dfa,#475dfa,#475dfa,#475dfa,#475dfa,#475cfa,#475cfa,#475cfa,#475cfa,#475cfa,#475cfa,#475cfa,#475cfa,#475cfa,#475cfa,#475cfa,#475cfa,#475cfa,#475cfa,#475cfa,#475cfa,#475cfa,#475cfa,#475cfa,#475cfa,#475cfa,#475cfa,#475cfa,#475dfa,#475dfa,#465dfa,#465efb,#465ffb,#4563fc,#4368fe,#3a73fe,#2e84f9,#2699e9,#0fb2d4,#2ec4a5,#83cc57,#e4bb2c,#fccf30,#f5e725,#f5ea24,#fbd32e,#e9bb2f,#91ca4c,#36c898,#03b7cc,#23a0e5,#2d8cf3,#347afd,#426afe,#465efb,#4853f5,#4849ed,#4740e3,#4538d8,#4332ca,#422ebe,#402ab5,#3f28ae,#3e27a9,#3e26a8)"></i>
<i style="width:315px;background:linear-gradient(90deg,#475cfa,#475cfa,#475cfa,#475cfa,#475cfa,#475cfa,#475cfa,#475cfa,#475cfa,#475cfa,#475cfa,#475cfa,#475cfa,#475cfa,#475cfa,#475cfa,#475cfa,#475cfa,#475cfa,#475cfa,#475cfa,#475cfa,#475cfa,#475cfa,#475cfa,#475cfa,#475cfa,#475cfa,#475dfa,#465dfa,#465efb,#4660fb,#4563fd,#426afe,#3876fe,#2e87f7,#259ce7,#0ab4d2,#2fc5a3,#80cc59,#dfbc2a,#fdcc32,#f5e526,#f5eb23,#f8da2b,#f7ba3c,#adc638,#4dcc82,#0cbdbc,#1ca9df,#2994ed,#2f81fa,#3d70ff,#4563fc,#4757f7,#484df0,#4743e7,#463bdc,#4434cf,#4230c3,#402cb8,#3f29b0,#3e27ab,#3e26a8)"></i>
<i style="width:315px;background:linear-gradient(90deg,#475cfa,#475cfa,#475cfa,#475cfa,#475cfa,#475cfa,#475cfa,#475cfa,#475cfa,#475cfa,#475cfa,#475cfa,#475cfa,#475cfa,#475cfa,#475cfa,#475cfa,#475cfa,#475cfa,#475cfa,#475cfa,#475cfa,#475cfa,#475cfa,#475cfa,#475cfa,#475cfa,#475dfa,#465dfa,#465efb,#4660fc,#4465fd,#406cfe,#3678fd,#2d89f5,#249ee6,#07b5d0,#2fc5a2,#7ecc5b,#dbbd29,#fec934,#f5e227,#f5ec23,#f6e028,#fec03a,#c6c22a,#6acd6a,#27c2ab,#10b2d5,#259ce7,#2d89f5,#3677fe,#4368fe,#475cfa,#4851f3,#4747eb,#463ee1,#4536d5,#4331c7,#412dbc,#402ab3,#3e28ad,#3e27a9,#3e26a8)"></i>
<i style="width:310px;background:linear-gradient(90deg,#475cfa,#475cfa,#475cfa,#475cfa,#475cfa,#475cfa,#475cfa,#475cfa,#475cfa,#475cfa,#475cfa,#475cfa,#475cfa,#475cfa,#475cfa,#475cfa,#475cfa,#475cfa,#475cfa,#475cfa,#475cfa,#475cfa,#475cfa,#475cfa,#475cfa,#475cfa,#475dfa,#465dfb,#465ffb,#4561fc,#4466fd,#3f6efe,#337afd,#2d8bf3,#23a0e5,#05b6ce,#30c5a2,#7bcc5d,#d6be28,#fec536,#f6e028,#f5eb23,#f5e526,#fec934,#dbbd29,#87cb54,#36c899,#01b8c8,#20a4e3,#2b91ef,#307ffb,#3f6eff,#4661fc,#4755f6,#484bee,#4741e5,#4639d9,#4433cc,#422fc0,#402bb6,#3f28af,#3e27aa,#3e26a8)"></i>
<i style="width:310px;background:linear-gradient(90deg,#475cfa,#475cfa,#475cfa,#475cfa,#475cfa,#475cfa,#475cfa,#475cfa,#475cfa,#475cfa,#475cfa,#475cfa,#475cfa,#475cfa,#475cfa,#475cfa,#475cfa,#475cfa,#475cfa,#475cfa,#475cfa,#475cfa,#475cfa,#475cfa,#475cfa,#475dfa,#465efb,#465ffb,#4562fc,#4367fd,#3e6fff,#327cfc,#2d8df2,#22a1e4,#04b6cd,#30c5a2,#78cc5f,#d2bf27,#fec339,#f6dd2a,#f5eb23,#f5e825,#fbd22f,#edba33,#a3c83e,#49cb85,#0fbebb,#1aacdd,#2798ea,#2e86f7,#3975fe,#4466fd,#475af9,#484ff2,#4745e9,#463cde,#4435d1,#4330c4,#412cba,#3f29b1,#3e27ab,#3e26a9,#3e26a8)"></i>
<i style="width:305px;background:linear-gradient(90deg,#475cfa,#475cfa,#475cfa,#475cfa,#475cfa,#475cfa,#475cfa,#475cfa,#475cfa,#475cfa,#475cfa,#475cfa,#475cfa,#475cfa,#475cfa,#475cfa,#475cfa,#475cfa,#475cfa,#475cfa,#475cfa,#475cfa,#475cfa,#475dfa,#465dfa,#465efb,#4660fb,#4563fc,#4368fe,#3d71ff,#317efb,#2c8ef1,#22a2e4,#04b6cc,#2fc5a3,#73cd62,#ccc028,#fec03b,#f7db2b,#f5ea23,#f5eb23,#f8da2b,#fbbc3d,#bec32e,#62cd70,#26c2ad,#0db3d4,#249fe5,#2d8df2,#327cfc,#416cfe,#465efb,#4853f5,#4849ed,#473fe3,#4538d7,#4332c9,#412ebd,#402ab4,#3f28ad,#3e27a9,#3e26a8)"></i>
<i style="width:300px;background:linear-gradient(90deg,#475cfa,#475cfa,#475cfa,#475cfa,#475cfa,#475cfa,#475cfa,#475cfa,#475cfa,#475cfa,#475cfa,#475cfa,#475cfa,#475cfa,#475cfa,#475cfa,#475cfa,#475cfa,#475cfa,#475cfa,#475dfa,#465dfa,#465dfa,#465efb,#465ffb,#4561fc,#4464fd,#426afe,#3b73fe,#3080fb,#2c90f0,#21a3e3,#03b7cc,#2ec5a4,#6fcd66,#c7c129,#fdbd3d,#f9d82c,#f5e924,#f5ed22,#f6e028,#fec537,#d7be28,#7fcc5a,#32c69f,#01b8ca,#1fa6e2,#2a93ed,#2f82f9,#3c72ff,#4564fd,#4758f8,#484df0,#4743e7,#463adc,#4434cf,#422fc2,#402bb8,#3f29b0,#3e27ab,#3e26a8)"></i>
<i style="width:300px;background:linear-gradient(90deg,#475cfa,#475cfa,#475cfa,#475cfa,#475cfa,#475cfa,#475cfa,#475cfa,#475cfa,#475cfa,#475cfa,#475cfa,#475cfa,#475cfa,#475dfa,#475dfa,#465dfa,#465dfa,#465dfb,#465efb,#465efb,#465ffb,#4660fb,#4561fc,#4564fd,#4367fd,#406dfe,#3776fe,#2e83f9,#2a92ee,#20a5e2,#02b7ca,#2fc5a3,#6ecd67,#c4c22b,#fbbc3d,#f9d62d,#f5e825,#f5ee21,#f5e626,#fccf30,#eeba34,#9fc941,#3eca8f,#08bcbf,#1aacdd,#269ae9,#2d89f6,#3579fd,#426afe,#465dfa,#4852f4,#4747eb,#463ee1,#4536d4,#4331c7,#412dbb,#402ab3,#3e28ac,#3e27a9,#3e26a8)"></i>
<i style="width:295px;background:linear-gradient(90deg,#475dfa,#475dfa,#475dfa,#475dfa,#475dfa,#475dfa,#465dfa,#465dfa,#465dfa,#465dfa,#465dfa,#465dfb,#465efb,#465efb,#465efb,#465ffb,#465ffb,#4660fb,#4660fc,#4561fc,#4562fc,#4564fd,#4466fd,#4369fe,#406dfe,#3a74fe,#317dfc,#2d89f5,#2798ea,#1ca9df,#01bac5,#32c69e,#72cd63,#c5c22a,#fbbc3d,#fad52d,#f5e825,#f6ef20,#f5eb23,#f8d92c,#febe3c,#c1c32c,#56cc7b,#1bc0b4,#11b1d6,#23a0e5,#2c8ff0,#307ffb,#3d70ff,#4562fc,#4757f7,#484cef,#4742e6,#4639da,#4433cc,#422ec0,#402bb6,#3f28ae,#3e27aa,#3e26a8)"></i>
<i style="width:295px;background:linear-gradient(90deg,#465efb,#465efb,#465efb,#465ffb,#465ffb,#465ffb,#465ffb,#465ffb,#465ffb,#4660fb,#4660fc,#4661fc,#4561fc,#4562fc,#4562fc,#4563fd,#4464fd,#4466fd,#4367fd,#4269fe,#416bfe,#3f6eff,#3c72ff,#3677fe,#317efb,#2e87f7,#2a92ee,#23a0e5,#14b0d8,#0dbdbc,#39c895,#7ecc5b,#cac129,#fbbc3d,#fad42e,#f5e725,#f6f020,#f5ee21,#f6e128,#fdca33,#e1bc2b,#78cc5f,#2bc3a8,#04b6cd,#1fa6e2,#2896ec,#2e86f7,#3777fe,#4369fe,#475cfa,#4851f3,#4746ea,#463ddf,#4535d2,#4330c5,#412cba,#3f29b1,#3e27ab,#3e26a9,#3e26a8)"></i>
<i style="width:290px;background:linear-gradient(90deg,#4563fc,#4563fc,#4563fd,#4563fd,#4563fd,#4564fd,#4464fd,#4465fd,#4465fd,#4466fd,#4367fd,#4368fd,#4369fe,#426afe,#416bfe,#406dfe,#3e6fff,#3c71ff,#3974fe,#3677fe,#327bfc,#3080fa,#2e85f8,#2d8cf3,#2995ec,#249fe5,#1aacdd,#01b8ca,#25c2ad,#49cb85,#8fcb4e,#d2bf27,#fdbd3d,#fad52e,#f5e725,#f6f020,#f6f11f,#f5e725,#fad52d,#fabb3d,#a3c83f,#35c79a,#02bac3,#1aacdd,#259ce7,#2d8df2,#317efb,#3e6fff,#4562fc,#4756f7,#484bee,#4741e4,#4538d8,#4332ca,#412ebe,#402ab4,#3f28ad,#3e27a9,#3e26a8)"></i>
<i style="width:285px;background:linear-gradient(90deg,#406cfe,#406cfe,#406dfe,#406dfe,#3f6dfe,#3f6eff,#3e6fff,#3e70ff,#3d71ff,#3b72ff,#3a74fe,#3875fe,#3677fe,#3479fd,#327cfc,#307ffb,#2f81fa,#2e85f8,#2d88f6,#2d8cf3,#2b91ef,#2797eb,#259de7,#20a5e2,#17aedb,#03b7cb,#18bfb6,#35c79a,#63cd70,#a5c83e,#ddbd29,#fec03b,#fad52d,#f5e625,#f6f020,#f6f21e,#f5ec22,#f6de29,#fec834,#ccc028,#4ccb83,#12beb9,#12b1d6,#22a2e4,#2994ed,#2e85f8,#3777fe,#4368fe,#475cfa,#4850f2,#4745e9,#463cde,#4435d0,#422fc3,#402bb8,#3f29b0,#3e27aa,#3e26a8)"></i>
<i style="width:285px;background:linear-gradient(90deg,#317dfc,#317dfc,#317efb,#317efb,#307ffb,#3080fb,#2f81fa,#2f82f9,#2e84f9,#2e85f8,#2d87f7,#2d89f5,#2d8cf3,#2c8ef1,#2b91ef,#2995ec,#2798ea,#259ce7,#23a0e5,#20a4e3,#1ca9df,#15afd9,#07b5d0,#02bbc3,#1ec0b2,#33c69d,#52cc7e,#86cb55,#bdc32e,#e9bb30,#fec438,#f9d72c,#f5e625,#f6ef20,#f6f31d,#f6ef20,#f5e526,#fad52d,#eeba34,#75cc62,#25c2ad,#04b6cd,#1da9e0,#269be8,#2d8cf3,#307efb,#3e6fff,#4562fc,#4755f6,#484aee,#4740e3,#4537d6,#4331c8,#412dbc,#402ab3,#3e28ac,#3e26a9,#3e26a8)"></i>
<i style="width:280px;background:linear-gradient(90deg,#2a93ee,#2a93ee,#2a93ed,#2994ed,#2895ec,#2896eb,#2797ea,#2699e9,#269ae8,#259ce7,#249fe6,#23a1e4,#21a4e3,#1fa6e1,#1ca9df,#19addc,#14b0d8,#0cb3d3,#04b6cd,#01bac6,#0bbdbd,#1ec0b2,#2dc4a5,#3ac993,#56cc7b,#7dcc5b,#aac739,#d4bf28,#f5ba3b,#fec834,#f8da2b,#f5e725,#f6ef20,#f7f31d,#f6f11e,#f5ea24,#f6df29,#fec338,#abc739,#34c79b,#05bbc1,#15afd9,#22a2e4,#2994ed,#2e86f7,#3678fe,#4269fe,#475cfa,#484ff2,#4744e8,#463bdc,#4434ce,#422fc1,#402bb6,#3f28ae,#3e27aa,#3e26a8)"></i>
<i style="width:280px;background:linear-gradient(90deg,#1babde,#1babde,#1aabdd,#1aacdd,#19addc,#17aedb,#15afd9,#13b0d7,#0fb2d5,#0bb3d2,#06b5cf,#02b7cb,#01b9c7,#02bbc3,#09bdbe,#14beb8,#1ec0b2,#28c2ab,#2fc5a3,#35c79a,#40ca8d,#52cc7e,#6acd6a,#88cb53,#aac73a,#cbc029,#e9bb2f,#febe3c,#fdce31,#f7dc2a,#f5e825,#f6ef20,#f7f31d,#f7f31d,#f5ee21,#f5e626,#fad42e,#debd29,#5acc77,#24c1af,#04b6cd,#1caadf,#259ce7,#2c8ef1,#2f80fa,#3c71ff,#4563fc,#4756f6,#484aee,#473fe3,#4537d5,#4331c7,#412cbb,#3f29b2,#3e27ab,#3e26a9,#3e26a8)"></i>
<i style="width:275px;background:linear-gradient(90deg,#0dbdbb,#0ebdbb,#0fbeba,#12beb9,#14bfb8,#18bfb6,#1cc0b4,#20c1b1,#25c2ae,#28c3aa,#2cc4a6,#30c5a2,#33c69d,#37c897,#3dc991,#45cb89,#4fcc81,#5acc77,#68cd6c,#78cc5f,#8bcb51,#a0c840,#b7c531,#cfc028,#e5bb2d,#f9bb3d,#fec636,#fbd32e,#f6df29,#f5e924,#f6f020,#f7f31d,#f7f41c,#f6f01f,#f5ea23,#f6e028,#febe3c,#9ec942,#3bc993,#11beb9,#0db3d3,#1fa6e2,#2798ea,#2d8af4,#327cfc,#416cfe,#465dfb,#4851f3,#4745e9,#463bdd,#4434ce,#422fc0,#402bb6,#3f28ae,#3e27a9,#3e26a8)"></i>
<i style="width:270px;background:linear-gradient(90deg,#3fca8e,#40ca8d,#41ca8c,#43ca8b,#45cb89,#48cb86,#4bcb83,#50cc80,#55cc7c,#5bcc77,#61cd71,#68cd6b,#70cd65,#79cc5e,#83cc57,#8dcb4f,#98c947,#a4c83e,#b1c636,#bec32e,#ccc028,#dbbd29,#eaba31,#f8ba3d,#fec239,#fdcd32,#f9d82c,#f5e228,#f5ea24,#f6f020,#f7f31d,#f7f41c,#f6f21e,#f5ed21,#f5e825,#fcd130,#dcbd29,#70cd65,#33c69d,#06bcc0,#13b0d7,#21a3e3,#2896ec,#2e87f7,#3678fe,#4368fd,#4759f9,#484df0,#4741e5,#4538d7,#4331c8,#412dbb,#3f29b1,#3e27ab,#3e26a8)"></i>
<i style="width:270px;background:linear-gradient(90deg,#87cb54,#88cb53,#89cb52,#8bcb51,#8ecb4f,#91ca4c,#95ca49,#99c946,#9ec942,#a3c83f,#a9c73a,#afc637,#b6c533,#bcc42f,#c3c22b,#cac129,#d2bf27,#dabd28,#e2bc2b,#eaba31,#f3ba39,#fbbc3d,#fec239,#feca33,#fbd32e,#f7dc2a,#f5e427,#f5eb23,#f6f01f,#f7f31d,#f7f41c,#f7f31d,#f6ef20,#f5eb23,#f6df29,#febf3c,#b9c431,#61cd71,#2cc4a6,#02bac5,#15afd9,#22a2e4,#2994ed,#2e85f8,#3974fe,#4564fd,#4756f6,#4849ed,#463de0,#4435d1,#422fc2,#402bb6,#3f28ae,#3e27a9,#3e26a8)"></i>
<i style="width:265px;background:linear-gradient(90deg,#c6c22a,#c6c22a,#c7c12a,#c8c129,#cac129,#ccc028,#cfc028,#d1bf27,#d4be28,#d8be28,#dbbd29,#dfbc2a,#e3bc2c,#e7bb2e,#ebba31,#efba35,#f3ba39,#f8ba3d,#fcbc3d,#fec03b,#fec537,#feca33,#fcd12f,#f9d82c,#f6df29,#f5e626,#f5eb23,#f6f020,#f7f31d,#f7f41c,#f7f41c,#f6f11f,#f5ed22,#f5e725,#fbd22f,#f0ba36,#a7c73c,#4fcc80,#26c2ad,#01b9c7,#16aeda,#22a1e4,#2a92ee,#2f82f9,#3d71ff,#4660fc,#4852f4,#4745e9,#463adb,#4433cb,#412dbd,#3f29b2,#3e27ab,#3e26a8)"></i>
<i style="width:265px;background:linear-gradient(90deg,#ecba32,#ecba32,#edba33,#edba34,#eeba34,#f0ba36,#f1ba37,#f2ba38,#f4ba3a,#f6ba3b,#f8ba3d,#fabb3d,#fbbc3d,#fdbd3d,#febe3c,#fec03a,#fec339,#fec537,#fec834,#fdcc32,#fcd130,#fad62d,#f7db2b,#f6e128,#f5e626,#f5eb23,#f6ef20,#f6f21e,#f7f31c,#f7f31d,#f6f11f,#f5ee21,#f5eb23,#f6df29,#fec934,#e1bc2b,#8fcb4e,#3fca8e,#20c1b1,#01b8c8,#17aeda,#23a0e5,#2b90ef,#307ffb,#406dfe,#475dfa,#484ef1,#4741e5,#4537d6,#4330c5,#402bb8,#3f28ae,#3e27a9,#3e26a8)"></i>
<i style="width:260px;background:linear-gradient(90deg,#febf3c,#febf3c,#febf3b,#febf3b,#fec03b,#fec03a,#fec13a,#fec239,#fec239,#fec338,#fec437,#fec537,#fec636,#fec835,#fec934,#fdcb33,#fdcc32,#fccf31,#fbd12f,#fad52e,#f8d82c,#f7dd2a,#f5e128,#f5e626,#f5ea24,#f5ee21,#f6f01f,#f6f21e,#f6f21e,#f6f01f,#f5ed21,#f5ec22,#f5e725,#f7db2a,#fec338,#cfc028,#75cc61,#3ac994,#20c1b1,#01b9c7,#17aeda,#249fe5,#2c8ff1,#317dfc,#4269fe,#4759f8,#484aee,#463ee0,#4434cf,#422ebf,#402ab3,#3e27ab,#3e26a8)"></i>
<i style="width:260px;background:linear-gradient(90deg,#fec934,#fec934,#fec934,#fec934,#feca34,#feca33,#feca33,#fdcb33,#fdcb33,#fdcc32,#fdcd32,#fdcd31,#fdce31,#fccf30,#fcd030,#fcd12f,#fbd32f,#fad52e,#f9d72c,#f8da2b,#f6dd2a,#f6e128,#f5e526,#f5e825,#f5ec23,#f5ee21,#f6f020,#f6f01f,#f6ef20,#f5ec22,#f5eb23,#f5ea23,#f5e626,#f8da2b,#fbbc3d,#b6c532,#69cd6b,#3ac993,#24c1ae,#01bac5,#17aeda,#249ee6,#2d8df2,#347afd,#4466fd,#4755f6,#4746ea,#463adb,#4332c9,#412cb9,#3f28ae,#3e27a9,#3e26a8)"></i>
<i style="width:255px;background:linear-gradient(90deg,#fccf30,#fccf30,#fccf30,#fcd030,#fcd030,#fcd030,#fcd030,#fcd130,#fcd12f,#fcd12f,#fbd22f,#fbd22f,#fbd32f,#fbd32e,#fad42e,#fad52d,#f9d62d,#f9d82c,#f8da2b,#f7dd2a,#f6e028,#f5e327,#f5e626,#f5e924,#f5eb23,#f5ed22,#f5ed21,#f5ed22,#f5eb23,#f5e924,#f5eb23,#f5eb23,#f5e924,#fbd22f,#e9bb30,#a3c83e,#66cd6d,#3dc990,#27c2ac,#02bac5,#18addb,#259de7,#2d8af5,#3875fe,#4561fc,#4851f3,#4742e6,#4536d4,#422fc1,#402ab3,#3e27ab,#3e26a8)"></i>
<i style="width:255px;background:linear-gradient(90deg,#fbd32e,#fbd32e,#fbd32e,#fbd32e,#fbd32e,#fbd32e,#fbd42e,#fad42e,#fad42e,#fad42e,#fad42e,#fad52e,#fad52d,#fad52d,#f9d62d,#f9d72c,#f8d82c,#f8da2b,#f7dc2a,#f6de29,#f6e128,#f5e327,#f5e626,#f5e825,#f5e924,#f5ea24,#f5ea24,#f5e825,#f5e725,#f5e924,#f5ed22,#f6f01f,#f5e526,#fec437,#d3bf27,#99c946,#66cd6d,#3eca8f,#26c2ad,#01b9c7,#1aabdd,#2699e9,#2e85f8,#3e6fff,#475cfa,#484bef,#463cdf,#4433cb,#412cba,#3f28ae,#3e26a9,#3e26a8)"></i>
<i style="width:250px;background:linear-gradient(90deg,#fad52e,#fad52e,#fad52d,#fad52d,#fad52d,#fad52d,#fad52d,#fad52d,#fad52d,#fad52d,#fad52d,#fad62d,#f9d62d,#f9d62d,#f9d72c,#f9d82c,#f8d92b,#f7db2b,#f7dc2a,#f6de29,#f6e028,#f5e227,#f5e426,#f5e626,#f5e626,#f5e626,#f5e526,#f5e426,#f5e625,#f5ec22,#f6f21e,#f6f01f,#f9d72d,#f2ba38,#c1c32c,#91ca4d,#61cd71,#39c994,#1ec0b2,#05b6cd,#1fa6e1,#2a93ee,#317efb,#4368fd,#4755f6,#4744e8,#4537d6,#422fc1,#3f29b2,#3e27aa,#3e26a8)"></i>
<i style="width:245px;background:linear-gradient(90deg,#fad62d,#fad62d,#fad62d,#fad62d,#fad62d,#fad62d,#fad62d,#fad62d,#fad62d,#fad62d,#fad62d,#f9d62d,#f9d62d,#f9d72d,#f9d72c,#f9d82c,#f8d92b,#f8da2b,#f7dc2a,#f6dd29,#f6df29,#f6e028,#f5e128,#f5e227,#f5e227,#f5e228,#f5e128,#f5e327,#f5ea24,#f6f11e,#f7f51b,#f5e526,#fec438,#dfbc2a,#b5c533,#88cb53,#59cc79,#34c79c,#10beba,#10b2d5,#23a0e5,#2d8bf4,#3974fe,#465ffb,#484df0,#463ddf,#4332ca,#402bb8,#3e27ac,#3e26a8)"></i>
<i style="width:245px;background:linear-gradient(90deg,#fad62d,#fad62d,#fad62d,#fad62d,#fad62d,#fad62d,#fad62d,#fad62d,#fad62d,#fad62d,#f9d62d,#f9d62d,#f9d62d,#f9d72d,#f9d72c,#f9d82c,#f8d92c,#f8d92b,#f8da2b,#f7db2a,#f7dc2a,#f7dd2a,#f6de29,#f6de29,#f6de29,#f6dd29,#f6df29,#f5e626,#f5ef21,#f7f61a,#f5ee21,#fbd22f,#f6ba3b,#d3bf27,#acc738,#7ecc5b,#4ccb82,#2dc4a6,#02bac4,#1aabdd,#2798ea,#2f82fa,#426afe,#4755f6,#4744e8,#4536d4,#412ebe,#3f28af,#3e26a9,#3e26a8)"></i>
<i style="width:240px;background:linear-gradient(90deg,#fad62d,#fad62d,#fad62d,#fad62d,#fad62d,#fad62d,#fad62d,#fad62d,#fad62d,#fad62d,#fad62d,#f9d62d,#f9d62d,#f9d62d,#f9d72d,#f9d72d,#f9d72c,#f9d82c,#f9d82c,#f8d82c,#f8d92c,#f8d92c,#f8d92b,#f8d92b,#f8d92b,#f7db2b,#f5e128,#f5eb23,#f7f41c,#f7f41c,#f6df29,#fec338,#eaba31,#cac129,#a2c840,#6ecd66,#3dca90,#1fc0b2,#07b5d0,#21a3e3,#2d8df2,#3875fe,#465efb,#484bee,#463adc,#4330c5,#402ab3,#3e27a9,#3e26a8)"></i>
<i style="width:235px;background:linear-gradient(90deg,#fad62d,#fad62d,#fad62d,#fad62d,#fad62d,#fad62d,#fad62d,#fad62d,#fad62d,#fad62d,#fad62d,#fad62d,#fad62d,#fad62d,#fad62d,#fad62d,#fad62d,#fad62d,#fad62d,#fad62d,#fad62d,#fad62d,#fad62d,#fad62d,#f9d72c,#f7dd2a,#f5e725,#f6f21e,#f8f61a,#f5e924,#fccf30,#fbbc3d,#e1bc2b,#bfc32d,#91ca4c,#5acc78,#31c6a0,#06bcc0,#19addc,#2797ea,#3080fa,#4367fd,#4852f4,#473fe3,#4433cc,#402bb7,#3e27ab,#3e26a8)"></i>
<i style="width:230px;background:linear-gradient(90deg,#fad62d,#fad62d,#fad62d,#fad62d,#fad62d,#fad62d,#fad62d,#fad62d,#fad62d,#fad62d,#fad62d,#fad62d,#fad62d,#fad62d,#fad62d,#fad62d,#fad62d,#fad62d,#fad52d,#fad52d,#fad52d,#fad52d,#fad52d,#f9d62d,#f8da2b,#f5e327,#f5ee21,#f8f719,#f6f020,#f8da2b,#fec537,#f4ba39,#d9be28,#b2c535,#7dcc5b,#45cb89,#23c1af,#06b5cf,#22a2e4,#2d8bf4,#3c71ff,#4759f8,#4745e9,#4536d3,#412dbb,#3e28ac,#3e26a8)"></i>
<i style="width:225px;background:linear-gradient(90deg,#fad62d,#fad62d,#fad62d,#fad62d,#fad62d,#fad62d,#fad62d,#fad62d,#fad62d,#fad62d,#fad52d,#fad52d,#fad52d,#fad52d,#fad52d,#fad52d,#fad52d,#fad52e,#fad52e,#fad42e,#fad42e,#fad42e,#fad42e,#f9d62d,#f6de29,#f5ea24,#f7f51b,#f7f41c,#f5e327,#fdce31,#febf3b,#eeba34,#d1bf27,#a3c83e,#68cd6c,#35c799,#0abdbe,#19addc,#2896eb,#327cfc,#4562fc,#484cef,#4639da,#422fc0,#3f28ae,#3e26a8)"></i>
<i style="width:220px;background:linear-gradient(90deg,#fad52d,#fad52d,#fad52d,#fad52d,#fad52d,#fad52d,#fad52d,#fad52d,#fad52d,#fad52e,#fad52e,#fad52e,#fad42e,#fad42e,#fad42e,#fad42e,#fbd32e,#fbd32e,#fbd32f,#fbd22f,#fbd22f,#fbd12f,#fbd22f,#f9d82c,#f5e427,#f6f21e,#f8f619,#f5eb23,#f9d62d,#fec835,#fdbd3d,#e9bb30,#c7c12a,#92ca4c,#52cc7e,#29c3a9,#04b6cd,#22a1e4,#2d88f6,#416cfe,#4853f5,#463ee1,#4331c6,#3f29b1,#3e26a8)"></i>
<i style="width:220px;background:linear-gradient(90deg,#fad42e,#fad42e,#fad42e,#fad42e,#fad42e,#fad42e,#fbd32e,#fbd32e,#fbd32e,#fbd32e,#fbd32f,#fbd22f,#fbd22f,#fbd22f,#fbd12f,#fcd12f,#fcd030,#fccf30,#fccf31,#fdce31,#fdcd32,#fdcd32,#fcd12f,#f7dc2a,#f5ed22,#f8f719,#f6f01f,#f6de29,#fdce31,#fec537,#fbbc3d,#e3bb2c,#b9c430,#7bcc5d,#3cc991,#0fbeba,#19addc,#2a93ed,#3777fe,#475af9,#4743e7,#4433cc,#402ab4,#3e26a9,#3e26a8)"></i>
<i style="width:215px;background:linear-gradient(90deg,#fcd12f,#fcd12f,#fcd12f,#fcd12f,#fcd130,#fcd030,#fcd030,#fcd030,#fcd030,#fccf30,#fccf31,#fdce31,#fdce31,#fdcd32,#fdcc32,#fdcb33,#feca33,#fec934,#fec835,#fec636,#fec537,#fec735,#fcd12f,#f5e426,#f7f51b,#f7f41c,#f5e526,#fbd32e,#feca34,#fec338,#f7ba3c,#d9be28,#a5c83d,#5fcd73,#2dc4a6,#05b6cd,#249ee6,#2f82fa,#4563fc,#4849ed,#4536d2,#402bb7,#3e27a9,#3e26a8)"></i>
<i style="width:210px;background:linear-gradient(90deg,#fdcc32,#fdcc32,#fdcb32,#fdcb33,#fdcb33,#fdcb33,#feca33,#feca33,#fec934,#fec934,#fec835,#fec735,#fec636,#fec537,#fec338,#fec239,#fec13a,#febf3c,#fdbd3d,#fcbc3d,#fcbd3d,#fec338,#f9d72c,#f6f020,#f7f61a,#f5eb23,#f8d92c,#fdcc32,#fec735,#fec03a,#efba35,#c7c12a,#86cb55,#3eca8f,#0bbdbd,#1da9e0,#2d8cf3,#416bfe,#484ff2,#4538d8,#412cba,#3e27a9,#3e26a8)"></i>
<i style="width:205px;background:linear-gradient(90deg,#fec338,#fec338,#fec339,#fec239,#fec239,#fec13a,#fec13a,#fec03b,#febf3b,#febe3c,#fdbd3d,#fcbd3d,#fbbc3d,#f9bb3d,#f7ba3c,#f4ba39,#f0ba36,#ecba33,#e8bb2f,#e7bb2e,#f0ba36,#fec537,#f5e626,#f7f61a,#f6f020,#f6de29,#fccf30,#fec934,#fec636,#fcbd3d,#e1bc2b,#abc739,#5ecd74,#28c3aa,#10b2d5,#2896ec,#3974fe,#4755f6,#463cde,#412dbd,#3e27aa,#3e26a8)"></i>
<i style="width:200px;background:linear-gradient(90deg,#f6ba3c,#f6ba3b,#f6ba3b,#f5ba3a,#f4ba3a,#f3ba39,#f2ba38,#f0ba36,#eeba35,#ecba33,#eabb30,#e7bb2e,#e3bc2c,#dfbc2a,#dbbd28,#d5be28,#cfc028,#c9c129,#c5c22a,#ccc028,#ebba32,#fad52e,#f7f31d,#f7f31d,#f5e426,#fbd42e,#fdca33,#fec735,#fec338,#f3ba39,#cac129,#83cc57,#38c896,#01b9c7,#249fe5,#317efb,#475bf9,#473fe3,#422fc0,#3e27ab,#3e26a8)"></i>
<i style="width:195px;background:linear-gradient(90deg,#ddbd29,#dcbd29,#dcbd29,#dabd28,#d9be28,#d7be28,#d5be28,#d2bf27,#cfc028,#cbc029,#c7c12a,#c2c22c,#bcc42f,#b6c532,#afc637,#a7c73c,#9ec942,#97ca48,#9bc944,#bec32e,#fdbd3d,#f5eb23,#f7f51b,#f5ea24,#f8d82c,#fdcd32,#fec834,#fec736,#fdbd3d,#e0bc2b,#a3c83f,#4fcc81,#13beb8,#1ea8e1,#2e86f7,#4661fc,#4743e7,#4230c4,#3e27ab,#3e26a8)"></i>
<i style="width:190px;background:linear-gradient(90deg,#b3c534,#b2c535,#b1c635,#b0c636,#adc638,#abc739,#a7c73c,#a3c83e,#9fc942,#99c946,#93ca4b,#8ccb50,#85cb56,#7ccc5c,#73cd63,#6acd6a,#62cd71,#62cd71,#80cc59,#d2bf27,#f7db2a,#f7f51b,#f6ef20,#f6de29,#fcd030,#fec934,#fec835,#fec239,#eeba35,#bbc42f,#66cd6d,#27c2ac,#17aeda,#2d8df3,#4466fd,#4746ea,#4331c7,#3e28ac,#3e26a8)"></i>
<i style="width:185px;background:linear-gradient(90deg,#7acc5e,#79cc5e,#78cc5f,#76cc61,#73cd62,#70cd65,#6ccd68,#68cd6c,#63cd70,#5dcc75,#57cc7a,#51cc7f,#4acb85,#43ca8a,#3dc991,#38c896,#37c898,#44cb89,#8fcb4e,#fec338,#f6f11f,#f6f21d,#f5e427,#fbd32e,#fdcb33,#fec835,#fec636,#f8ba3d,#ccc028,#7ccc5c,#30c5a1,#0db3d4,#2b91ef,#426afe,#4848ec,#4331c8,#3e28ac,#3e26a8)"></i>
<i style="width:180px;background:linear-gradient(90deg,#45cb89,#44cb8a,#43ca8b,#41ca8c,#3fca8e,#3dca90,#3bc992,#39c895,#36c898,#34c79c,#31c6a0,#2ec5a4,#2bc3a8,#27c2ac,#21c1b0,#1ec0b2,#28c3aa,#4ccb82,#d9bd28,#f5e725,#f7f41c,#f5e924,#f9d82c,#fdcd32,#fec934,#fec735,#fdbd3d,#d9be28,#8ecb4f,#37c898,#05b6ce,#2895ec,#406cfe,#4849ed,#4332c8,#3e27ac,#3e26a8)"></i>
<i style="width:175px;background:linear-gradient(90deg,#2dc4a5,#2dc4a6,#2cc4a6,#2cc4a7,#2ac3a8,#29c3aa,#27c2ac,#25c2ae,#21c1b0,#1dc0b3,#19bfb6,#13beb9,#0cbdbc,#08bcbf,#05bbc1,#0abdbd,#2dc4a5,#8ecb4f,#fdce31,#f6ef20,#f5ec22,#f7dc2a,#fccf30,#feca34,#fec835,#fec03b,#e2bc2b,#9cc944,#3eca90,#01b8c9,#2797ea,#3f6efe,#4849ed,#4331c7,#3e27ab,#3e26a8)"></i>
<i style="width:170px;background:linear-gradient(90deg,#18bfb6,#18bfb6,#17bfb7,#15bfb7,#13beb8,#11beb9,#0ebebb,#0bbdbc,#09bcbe,#06bcc0,#03bbc2,#02bac4,#01b9c7,#01b8c8,#01b9c7,#14beb8,#48cb86,#e7bb2e,#f5e128,#f5eb23,#f6df29,#fbd12f,#fdcb33,#fec834,#fec339,#e9bb30,#a7c73c,#45cb89,#01b9c6,#2699e9,#3f6eff,#4848ec,#4330c5,#3e27aa,#3e26a8)"></i>
<i style="width:165px;background:linear-gradient(90deg,#03bbc3,#02bbc3,#02bbc3,#02bac4,#02bac4,#01bac5,#01b9c6,#01b9c7,#01b8c8,#01b8ca,#02b7cb,#03b6cc,#05b6cd,#04b6cd,#02bac5,#2bc3a8,#95ca49,#fec736,#f5e327,#f6df29,#fbd32e,#fdcb32,#fec934,#fec537,#efba35,#b0c636,#4bcb83,#02bac4,#2699e9,#3f6dfe,#4747eb,#422fc2,#3e27a9,#3e26a8)"></i>
<i style="width:155px;background:linear-gradient(90deg,#08b5d0,#08b4d0,#08b4d1,#09b4d1,#09b4d1,#0ab4d2,#0bb3d2,#0cb3d3,#0db3d4,#0fb2d4,#10b2d5,#11b1d6,#11b1d6,#0ab4d2,#04bbc2,#3cc992,#d6be28,#fcd12f,#f6de29,#fad42e,#fdcc32,#fec934,#fec636,#f4ba39,#b8c431,#52cc7e,#04bbc2,#2699e9,#406cfe,#4745e9,#422ebf,#3e26a8)"></i>
<i style="width:150px;background:linear-gradient(90deg,#16afd9,#16afd9,#16afd9,#16afd9,#16aeda,#17aeda,#17aeda,#17aeda,#18aedb,#18addb,#18addb,#18addb,#17aeda,#0bb3d2,#0dbdbc,#75cc62,#f7ba3c,#f9d72d,#fbd32e,#fdcc32,#fec934,#fec835,#f8ba3d,#bfc32d,#58cc79,#06bcc0,#2699e9,#416bfe,#4743e7,#412dbc,#3e26a8)"></i>
<i style="width:145px;background:linear-gradient(90deg,#1babde,#1babde,#1babde,#1babde,#1baade,#1baade,#1baade,#1baade,#1baadf,#1caadf,#1caadf,#1baade,#19addc,#0ab4d2,#2dc4a6,#b8c431,#fec835,#fcd130,#fdcc32,#fec934,#fec834,#fbbc3d,#c8c129,#5fcd73,#09bdbe,#269ae9,#426afe,#4741e5,#412cb8,#3e26a8)"></i>
<i style="width:140px;background:linear-gradient(90deg,#1ea8e1,#1ea8e1,#1ea8e1,#1ea8e1,#1ea8e1,#1ea7e1,#1ea7e1,#1ea7e1,#1ea7e1,#1ea7e1,#1ea8e1,#1da9e0,#1aacdd,#05b6cd,#5ccc76,#efba35,#fdcd31,#fdcb33,#fec934,#fec834,#febe3c,#d1bf27,#69cd6b,#0fbeba,#269be8,#4269fe,#4740e3,#402bb6,#3e26a8)"></i>
<i style="width:135px;background:linear-gradient(90deg,#20a4e3,#20a4e3,#20a4e3,#20a4e3,#20a4e3,#20a4e3,#21a4e3,#21a4e3,#21a4e3,#21a4e3,#20a4e3,#20a5e2,#1ea8e1,#22c1af,#b8c431,#fec735,#fec934,#fec934,#fec834,#fec239,#dabd28,#75cc61,#17bfb6,#259ce7,#4368fe,#463ee1,#402ab3,#3e26a8)"></i>
<i style="width:130px;background:linear-gradient(90deg,#259be8,#259be8,#259be8,#259be8,#259be8,#259be8,#259be8,#259be8,#259be8,#259be8,#259be8,#259be8,#14b0d8,#64cd6f,#fabb3d,#fec835,#fec835,#fec835,#fec338,#dfbc2a,#79cc5e,#17bfb7,#269ae9,#4464fd,#463adb,#3f28ae,#3e26a8)"></i>
<i style="width:125px;background:linear-gradient(90deg,#2c8ef1,#2c8ef1,#2c8ef1,#2c8ef1,#2c8ef1,#2c8ef1,#2c8ef1,#2c8ef1,#2c8ef1,#2c8ef1,#2c8ef1,#2798ea,#2ac3a8,#d8be28,#fec835,#fec835,#fec835,#fec438,#e0bc2a,#76cc61,#0ebdbb,#2995ec,#465dfb,#4435d2,#3e27aa,#3e26a8)"></i>
<i style="width:115px;background:linear-gradient(90deg,#2f81fa,#2f81fa,#2f81fa,#2f81fa,#2f81fa,#2f81fa,#2f81fa,#2f81fa,#2f81fa,#2f81fa,#2e83f9,#0eb2d4,#98c947,#fec537,#fec835,#fec835,#fec437,#dfbc2a,#6ecd67,#03bbc2,#2d8df2,#4855f6,#4330c5,#3e26a8)"></i>
<i style="width:110px;background:linear-gradient(90deg,#3678fe,#3678fe,#3678fe,#3678fe,#3678fe,#3678fe,#3678fe,#3678fe,#3678fe,#3678fe,#2699e9,#48cb86,#f9ba3d,#fec735,#fec735,#fec438,#dcbd29,#63cd70,#02b7cb,#2e84f9,#484bee,#412cb8,#3e26a8)"></i>
<i style="width:105px;background:linear-gradient(90deg,#3c72ff,#3c72ff,#3c72ff,#3c72ff,#3c72ff,#3c72ff,#3c72ff,#3c72ff,#3c72ff,#2f82fa,#15bfb7,#d5be28,#fec736,#fec736,#fec438,#d9be28,#58cc79,#0eb2d4,#3579fd,#4741e5,#3f28af,#3e26a8)"></i>
<i style="width:100px;background:linear-gradient(90deg,#416cfe,#416cfe,#416cfe,#416cfe,#416cfe,#416cfe,#416cfe,#416cfe,#3e6fff,#1aacdd,#94ca4a,#fec537,#fec636,#fec438,#d7be28,#4fcc80,#18addb,#3f6eff,#4539d9,#3e27a9,#3e26a8)"></i>
<i style="width:90px;background:linear-gradient(90deg,#4367fd,#4367fd,#4367fd,#4367fd,#4367fd,#4367fd,#4367fd,#4367fd,#2b91ef,#44cb89,#f9bb3d,#fec636,#fec437,#dabd28,#4ccb83,#1caadf,#4366fd,#4433cd,#3e26a8)"></i>
<i style="width:85px;background:linear-gradient(90deg,#4563fc,#4563fc,#4563fc,#4563fc,#4563fc,#4563fc,#4563fc,#3777fe,#0ebdbb,#d6be28,#fec537,#fec537,#e2bc2b,#53cc7d,#1ca9df,#4562fc,#4330c5,#3e26a8)"></i>
<i style="width:80px;background:linear-gradient(90deg,#465ffb,#465ffb,#465ffb,#465ffb,#465ffb,#465ffb,#4564fd,#1ca9e0,#95ca49,#fec438,#fec537,#efba35,#69cd6b,#18aedb,#4564fd,#422fc3,#3e26a8)"></i>
<i style="width:80px;background:linear-gradient(90deg,#465ffb,#465ffb,#465ffb,#465ffb,#465ffb,#465ffb,#4369fe,#0eb3d4,#b4c534,#fec437,#fec437,#e4bb2c,#4ccb82,#21a2e4,#4757f7,#402bb6,#3e26a8)"></i>
<i style="width:80px;background:linear-gradient(90deg,#465ffb,#465ffb,#465ffb,#465ffb,#465ffb,#465ffb,#4369fe,#0eb3d4,#b4c534,#fec437,#fec437,#e4bb2c,#4ccb82,#21a2e4,#4757f7,#402bb6,#3e26a8)"></i>
<i style="width:80px;background:linear-gradient(90deg,#465ffb,#465ffb,#465ffb,#465ffb,#465ffb,#465ffb,#4369fe,#0eb3d4,#b4c534,#fec437,#fec437,#e4bb2c,#4ccb82,#21a2e4,#4757f7,#402bb6,#3e26a8)"></i>
</div>
<svg class="ov" width="642" height="532.7" viewBox="0 0 642 532.7"><line x1="32.6" y1="532.7" x2="336.3" y2="0.0" stroke="#fff" stroke-width="3.6" stroke-dasharray="17.7 17.6" stroke-dashoffset="6"/></svg>
</div>
<div class="cb" style="left:1693px;top:797px;background:linear-gradient(0deg,#3e26a8,#422ebf,#4536d5,#4741e5,#484cef,#4757f7,#4562fc,#3f6efe,#347afd,#2e85f8,#2c90f0,#269ae9,#21a3e3,#1aacdd,#0cb3d3,#01b9c6,#12beb9,#28c2ab,#34c79c,#44ca8a,#5ccc76,#77cc60,#94ca4a,#afc637,#c8c129,#debc2a,#f1ba37,#febe3c,#feca33,#f9d62d,#f5e327,#f6ef20,#f9fb15)"></div>
<div class="ctk" style="left:1724px;top:1264.2px"></div>
<div class="t cl" style="left:1739px;top:1266.1px">0.1</div>
<div class="ctk" style="left:1724px;top:1198.59px"></div>
<div class="t cl" style="left:1739px;top:1200.49px">0.2</div>
<div class="ctk" style="left:1724px;top:1132.97px"></div>
<div class="t cl" style="left:1739px;top:1134.87px">0.3</div>
<div class="ctk" style="left:1724px;top:1067.36px"></div>
<div class="t cl" style="left:1739px;top:1069.26px">0.4</div>
<div class="ctk" style="left:1724px;top:1001.74px"></div>
<div class="t cl" style="left:1739px;top:1003.64px">0.5</div>
<div class="ctk" style="left:1724px;top:936.129px"></div>
<div class="t cl" style="left:1739px;top:938.029px">0.6</div>
<div class="ctk" style="left:1724px;top:870.514px"></div>
<div class="t cl" style="left:1739px;top:872.414px">0.7</div>
<div class="ctk" style="left:1724px;top:804.9px"></div>
<div class="t cl" style="left:1739px;top:806.8px">0.8</div>
<div class="t xl" style="left:1165.3px;top:1362.5px">2</div>
<div class="t xl" style="left:1300.3px;top:1362.5px">4</div>
<div class="t xl" style="left:1435.3px;top:1362.5px">6</div>
<div class="t xl" style="left:1570.3px;top:1362.5px">8</div>
<div class="t yl" style="left:1021.5px;top:1272.51px">1</div>
<div class="t yl" style="left:1021.5px;top:1154.13px">2</div>
<div class="t yl" style="left:1021.5px;top:1035.76px">3</div>
<div class="t yl" style="left:1021.5px;top:917.378px">4</div>
<div class="t yl" style="left:1021.5px;top:799px">5</div>
<div class="t xlab" style="left:1356px;top:1405px">k<sub>x</sub>/2<span class="m pi">π</span><span class="gap"></span><span class="un">(1/<span class="m mu">μ</span>m)</span></div>
<div class="t ylab" style="left:978.5px;top:1064px"><span class="m om">ω</span>/2<span class="m pi">π</span>/c<span class="gap"></span><span class="un">(1/<span class="m mu">μ</span>m)</span></div>
<div class="pl" style="left:914.4px;top:781.8px">(d)</div>
<svg class="ov" width="1850" height="1441" viewBox="0 0 1850 1441"><g stroke="#f00" stroke-width="5" fill="#f00" stroke-linecap="butt"><line x1="1408" y1="1095" x2="1222" y2="869"/><line x1="1408" y1="1095" x2="1196" y2="1160"/><polygon points="1207,851 1232,860 1212,878" stroke="none"/><polygon points="1176,1166 1197,1148 1204,1172" stroke="none"/></g></svg>
<div class="red" style="left:1424px;top:1024px">Dispersion<br>relations of<br>strong emission</div>
</body></html>
